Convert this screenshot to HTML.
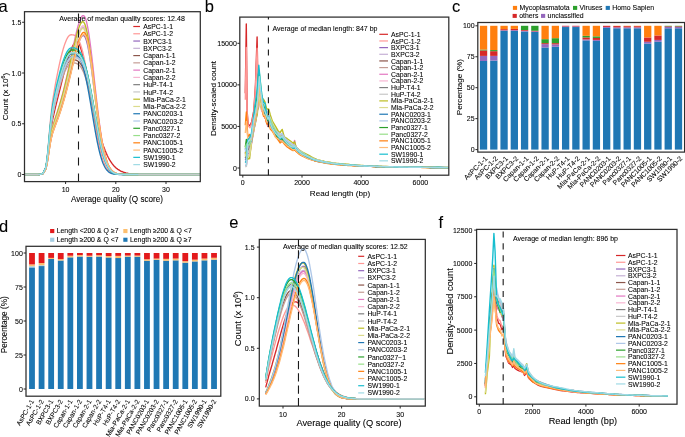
<!DOCTYPE html>
<html><head><meta charset="utf-8"><style>
html,body{margin:0;padding:0;background:#fff;width:685px;height:437px;overflow:hidden}
svg{display:block;will-change:transform}
text{font-family:"Liberation Sans",sans-serif;stroke:#000;stroke-width:0.08px}
</style></head><body>
<svg width="685" height="437" viewBox="0 0 685 437" font-family="Liberation Sans, sans-serif"><g clip-path="url(#ca)">
<path d="M22.9,174.5 25.4,174.5 27.9,174.5 30.5,174.5 33.0,174.5 35.5,174.5 38.0,174.5 40.5,174.3 43.0,173.5 45.5,169.2 46.0,167.3 46.5,164.9 47.0,161.9 47.5,158.4 48.0,154.5 48.5,150.2 49.0,145.8 49.5,141.4 50.0,137.1 50.5,133.1 51.0,129.5 51.5,126.2 52.0,123.1 52.5,120.3 53.0,117.8 53.6,115.4 54.1,113.1 54.6,110.9 55.1,108.8 55.6,106.7 56.1,104.7 56.6,102.7 57.1,100.6 57.6,98.6 58.1,96.6 58.6,94.6 59.1,92.6 59.6,90.6 60.1,88.6 60.6,86.6 61.1,84.6 61.6,82.6 62.1,80.6 62.6,78.6 63.1,76.6 63.6,74.6 64.1,72.7 64.6,70.7 65.1,68.8 65.6,67.0 66.1,65.1 66.6,63.3 67.1,61.6 67.6,59.8 68.1,58.2 68.6,56.6 69.1,55.0 69.6,53.5 70.1,52.1 70.6,50.8 71.1,49.5 71.6,48.3 72.1,47.2 72.6,46.1 73.1,45.2 73.6,44.4 74.1,43.6 74.6,43.0 75.1,42.5 75.6,42.1 76.1,41.8 76.6,41.6 77.1,41.5 77.6,41.8 78.1,42.3 78.7,43.1 79.2,44.1 79.7,45.3 80.2,46.6 80.7,48.1 81.2,49.7 81.7,51.4 82.2,53.3 82.7,55.2 83.2,57.3 83.7,59.4 84.2,61.6 84.7,63.9 85.2,66.2 85.7,68.6 86.2,71.0 86.7,73.5 87.2,76.0 87.7,78.5 88.2,81.1 88.7,83.6 89.2,86.2 89.7,88.8 90.2,91.3 90.7,93.9 91.2,96.4 91.7,98.9 92.2,101.4 92.7,103.9 93.2,106.3 93.7,108.7 94.2,111.1 94.7,113.4 95.2,115.7 95.7,117.9 96.2,120.1 96.7,122.3 97.2,124.4 97.7,126.4 98.2,128.4 98.7,130.4 99.2,132.3 99.7,134.1 100.2,135.9 100.7,137.6 101.2,139.3 101.7,141.0 102.2,142.5 102.7,144.1 103.2,145.5 103.8,146.9 104.3,148.3 104.8,149.6 105.3,150.9 105.8,152.1 106.3,153.3 106.8,154.4 107.3,155.5 107.8,156.5 108.3,157.5 108.8,158.4 109.3,159.3 109.8,160.2 110.3,161.0 110.8,161.7 111.3,162.5 111.8,163.2 112.3,163.9 112.8,164.5 113.3,165.1 113.8,165.7 114.3,166.2 114.8,166.7 115.3,167.2 115.8,167.7 116.3,168.1 116.8,168.5 117.3,168.9 117.8,169.3 118.3,169.6 118.8,169.9 119.3,170.2 119.8,170.5 120.3,170.8 120.8,171.1 121.3,171.3 121.8,171.5 122.3,171.7 122.8,171.9 123.3,172.1 123.8,172.3 124.3,172.4 124.8,172.6 125.3,172.7 125.8,172.9 128.4,173.4 130.9,173.8 133.4,174.0 135.9,174.2 138.4,174.3 140.9,174.4 143.4,174.4 145.9,174.5 148.4,174.5 150.9,174.5 153.5,174.5 156.0,174.5 158.5,174.5 161.0,174.5 163.5,174.5 166.0,174.5 168.5,174.5 171.0,174.5 173.5,174.5 176.0,174.5 178.6,174.5 181.1,174.5 183.6,174.5 186.1,174.5 188.6,174.5 191.1,174.5 193.6,174.5 196.1,174.5 198.6,174.5 201.1,174.5" fill="none" stroke="#d62728" stroke-width="1.35" stroke-linejoin="round"/>
<path d="M22.9,174.5 25.4,174.5 27.9,174.5 30.5,174.5 33.0,174.5 35.5,174.5 38.0,174.5 40.5,174.3 43.0,173.3 45.5,167.9 46.0,165.5 46.5,162.4 47.0,158.6 47.5,154.0 48.0,148.8 48.5,143.1 49.0,137.1 49.5,131.1 50.0,125.3 50.5,119.8 51.0,114.7 51.5,110.0 52.0,105.8 52.5,101.9 53.0,98.3 53.6,94.9 54.1,91.8 54.6,88.8 55.1,85.9 55.6,83.1 56.1,80.4 56.6,77.8 57.1,75.3 57.6,72.8 58.1,70.4 58.6,68.0 59.1,65.7 59.6,63.4 60.1,61.2 60.6,59.0 61.1,57.0 61.6,55.0 62.1,53.0 62.6,51.2 63.1,49.4 63.6,47.7 64.1,46.1 64.6,44.6 65.1,43.2 65.6,41.9 66.1,40.7 66.6,39.5 67.1,38.6 67.6,37.7 68.1,36.9 68.6,36.2 69.1,35.7 69.6,35.3 70.1,35.0 70.6,34.8 71.1,34.7 71.6,34.7 72.1,34.8 72.6,34.8 73.1,34.9 73.6,35.0 74.1,35.2 74.6,35.4 75.1,35.7 75.6,36.1 76.1,36.5 76.6,37.1 77.1,37.7 77.6,38.4 78.1,39.3 78.7,40.2 79.2,41.3 79.7,42.4 80.2,43.7 80.7,45.1 81.2,46.7 81.7,48.3 82.2,50.1 82.7,52.0 83.2,54.1 83.7,56.2 84.2,58.5 84.7,60.9 85.2,63.4 85.7,66.0 86.2,68.6 86.7,71.4 87.2,74.3 87.7,77.3 88.2,80.3 88.7,83.4 89.2,86.5 89.7,89.7 90.2,93.0 90.7,96.2 91.2,99.5 91.7,102.7 92.2,106.0 92.7,109.2 93.2,112.5 93.7,115.6 94.2,118.8 94.7,121.9 95.2,124.9 95.7,127.9 96.2,130.8 96.7,133.6 97.2,136.3 97.7,138.9 98.2,141.4 98.7,143.8 99.2,146.2 99.7,148.4 100.2,150.5 100.7,152.5 101.2,154.3 101.7,156.1 102.2,157.8 102.7,159.3 103.2,160.8 103.8,162.1 104.3,163.3 104.8,164.5 105.3,165.5 105.8,166.5 106.3,167.4 106.8,168.2 107.3,168.9 107.8,169.6 108.3,170.2 108.8,170.7 109.3,171.2 109.8,171.6 110.3,172.0 110.8,172.4 111.3,172.7 111.8,172.9 112.3,173.2 112.8,173.4 113.3,173.5 113.8,173.7 114.3,173.8 114.8,173.9 115.3,174.0 115.8,174.1 116.3,174.2 116.8,174.2 117.3,174.3 117.8,174.3 118.3,174.3 118.8,174.4 119.3,174.4 119.8,174.4 120.3,174.4 120.8,174.4 121.3,174.5 121.8,174.5 122.3,174.5 122.8,174.5 123.3,174.5 123.8,174.5 124.3,174.5 124.8,174.5 125.3,174.5 125.8,174.5 128.4,174.5 130.9,174.5 133.4,174.5 135.9,174.5 138.4,174.5 140.9,174.5 143.4,174.5 145.9,174.5 148.4,174.5 150.9,174.5 153.5,174.5 156.0,174.5 158.5,174.5 161.0,174.5 163.5,174.5 166.0,174.5 168.5,174.5 171.0,174.5 173.5,174.5 176.0,174.5 178.6,174.5 181.1,174.5 183.6,174.5 186.1,174.5 188.6,174.5 191.1,174.5 193.6,174.5 196.1,174.5 198.6,174.5 201.1,174.5" fill="none" stroke="#ff9896" stroke-width="1.35" stroke-linejoin="round"/>
<path d="M22.9,174.5 25.4,174.5 27.9,174.5 30.5,174.5 33.0,174.5 35.5,174.5 38.0,174.5 40.5,174.3 43.0,173.6 45.5,169.9 46.0,168.3 46.5,166.3 47.0,163.9 47.5,161.1 48.0,158.0 48.5,154.7 49.0,151.3 49.5,148.0 50.0,144.8 50.5,141.9 51.0,139.3 51.5,137.0 52.0,134.9 52.5,133.1 53.0,131.4 53.6,129.8 54.1,128.3 54.6,126.9 55.1,125.5 55.6,124.2 56.1,122.8 56.6,121.5 57.1,120.2 57.6,118.8 58.1,117.4 58.6,116.0 59.1,114.6 59.6,113.2 60.1,111.7 60.6,110.2 61.1,108.6 61.6,107.1 62.1,105.4 62.6,103.8 63.1,102.1 63.6,100.4 64.1,98.7 64.6,96.9 65.1,95.1 65.6,93.3 66.1,91.4 66.6,89.5 67.1,87.6 67.6,85.7 68.1,83.7 68.6,81.7 69.1,79.7 69.6,77.6 70.1,75.6 70.6,73.5 71.1,71.5 71.6,69.4 72.1,67.3 72.6,65.2 73.1,63.2 73.6,61.1 74.1,59.1 74.6,57.1 75.1,55.1 75.6,53.1 76.1,51.2 76.6,49.4 77.1,47.6 77.6,46.0 78.1,44.3 78.7,42.8 79.2,41.4 79.7,40.1 80.2,39.0 80.7,37.9 81.2,37.1 81.7,36.4 82.2,35.9 82.7,35.6 83.2,35.4 83.7,35.6 84.2,35.9 84.7,36.5 85.2,37.4 85.7,38.5 86.2,39.9 86.7,41.6 87.2,43.5 87.7,45.7 88.2,48.1 88.7,50.8 89.2,53.6 89.7,56.7 90.2,59.9 90.7,63.3 91.2,66.9 91.7,70.5 92.2,74.3 92.7,78.2 93.2,82.2 93.7,86.1 94.2,90.2 94.7,94.2 95.2,98.2 95.7,102.2 96.2,106.1 96.7,110.0 97.2,113.8 97.7,117.6 98.2,121.2 98.7,124.7 99.2,128.1 99.7,131.4 100.2,134.6 100.7,137.6 101.2,140.4 101.7,143.2 102.2,145.7 102.7,148.2 103.2,150.4 103.8,152.6 104.3,154.6 104.8,156.5 105.3,158.2 105.8,159.8 106.3,161.3 106.8,162.6 107.3,163.9 107.8,165.0 108.3,166.1 108.8,167.0 109.3,167.9 109.8,168.7 110.3,169.3 110.8,170.0 111.3,170.5 111.8,171.0 112.3,171.5 112.8,171.9 113.3,172.2 113.8,172.5 114.3,172.8 114.8,173.0 115.3,173.2 115.8,173.4 116.3,173.6 116.8,173.7 117.3,173.8 117.8,173.9 118.3,174.0 118.8,174.1 119.3,174.2 119.8,174.2 120.3,174.3 120.8,174.3 121.3,174.3 121.8,174.4 122.3,174.4 122.8,174.4 123.3,174.4 123.8,174.4 124.3,174.4 124.8,174.5 125.3,174.5 125.8,174.5 128.4,174.5 130.9,174.5 133.4,174.5 135.9,174.5 138.4,174.5 140.9,174.5 143.4,174.5 145.9,174.5 148.4,174.5 150.9,174.5 153.5,174.5 156.0,174.5 158.5,174.5 161.0,174.5 163.5,174.5 166.0,174.5 168.5,174.5 171.0,174.5 173.5,174.5 176.0,174.5 178.6,174.5 181.1,174.5 183.6,174.5 186.1,174.5 188.6,174.5 191.1,174.5 193.6,174.5 196.1,174.5 198.6,174.5 201.1,174.5" fill="none" stroke="#9467bd" stroke-width="1.35" stroke-linejoin="round"/>
<path d="M22.9,174.5 25.4,174.5 27.9,174.5 30.5,174.5 33.0,174.5 35.5,174.5 38.0,174.5 40.5,174.3 43.0,173.5 45.5,169.6 46.0,167.9 46.5,165.8 47.0,163.3 47.5,160.4 48.0,157.1 48.5,153.5 49.0,149.9 49.5,146.4 50.0,143.1 50.5,140.0 51.0,137.3 51.5,134.8 52.0,132.6 52.5,130.7 53.0,128.9 53.6,127.2 54.1,125.6 54.6,124.1 55.1,122.7 55.6,121.2 56.1,119.8 56.6,118.4 57.1,117.0 57.6,115.6 58.1,114.1 58.6,112.6 59.1,111.1 59.6,109.6 60.1,108.0 60.6,106.4 61.1,104.8 61.6,103.1 62.1,101.4 62.6,99.7 63.1,97.9 63.6,96.1 64.1,94.3 64.6,92.4 65.1,90.5 65.6,88.5 66.1,86.6 66.6,84.6 67.1,82.5 67.6,80.5 68.1,78.4 68.6,76.3 69.1,74.1 69.6,72.0 70.1,69.8 70.6,67.6 71.1,65.4 71.6,63.2 72.1,61.0 72.6,58.8 73.1,56.7 73.6,54.5 74.1,52.3 74.6,50.2 75.1,48.1 75.6,46.1 76.1,44.1 76.6,42.1 77.1,40.2 77.6,38.4 78.1,36.7 78.7,35.1 79.2,33.6 79.7,32.3 80.2,31.0 80.7,30.0 81.2,29.1 81.7,28.3 82.2,27.8 82.7,27.4 83.2,27.3 83.7,27.4 84.2,27.8 84.7,28.4 85.2,29.4 85.7,30.6 86.2,32.1 86.7,33.8 87.2,35.9 87.7,38.2 88.2,40.7 88.7,43.5 89.2,46.6 89.7,49.8 90.2,53.2 90.7,56.8 91.2,60.6 91.7,64.5 92.2,68.5 92.7,72.6 93.2,76.8 93.7,81.0 94.2,85.2 94.7,89.5 95.2,93.7 95.7,98.0 96.2,102.2 96.7,106.3 97.2,110.3 97.7,114.3 98.2,118.1 98.7,121.8 99.2,125.4 99.7,128.9 100.2,132.2 100.7,135.4 101.2,138.4 101.7,141.3 102.2,144.0 102.7,146.6 103.2,149.0 103.8,151.3 104.3,153.4 104.8,155.4 105.3,157.2 105.8,158.9 106.3,160.5 106.8,162.0 107.3,163.3 107.8,164.5 108.3,165.6 108.8,166.6 109.3,167.5 109.8,168.3 110.3,169.0 110.8,169.7 111.3,170.3 111.8,170.8 112.3,171.3 112.8,171.7 113.3,172.1 113.8,172.4 114.3,172.7 114.8,173.0 115.3,173.2 115.8,173.4 116.3,173.5 116.8,173.7 117.3,173.8 117.8,173.9 118.3,174.0 118.8,174.1 119.3,174.1 119.8,174.2 120.3,174.3 120.8,174.3 121.3,174.3 121.8,174.4 122.3,174.4 122.8,174.4 123.3,174.4 123.8,174.4 124.3,174.4 124.8,174.5 125.3,174.5 125.8,174.5 128.4,174.5 130.9,174.5 133.4,174.5 135.9,174.5 138.4,174.5 140.9,174.5 143.4,174.5 145.9,174.5 148.4,174.5 150.9,174.5 153.5,174.5 156.0,174.5 158.5,174.5 161.0,174.5 163.5,174.5 166.0,174.5 168.5,174.5 171.0,174.5 173.5,174.5 176.0,174.5 178.6,174.5 181.1,174.5 183.6,174.5 186.1,174.5 188.6,174.5 191.1,174.5 193.6,174.5 196.1,174.5 198.6,174.5 201.1,174.5" fill="none" stroke="#c5b0d5" stroke-width="1.35" stroke-linejoin="round"/>
<path d="M22.9,174.5 25.4,174.5 27.9,174.5 30.5,174.5 33.0,174.5 35.5,174.5 38.0,174.5 40.5,174.3 43.0,173.5 45.5,168.9 46.0,166.8 46.5,164.2 47.0,161.0 47.5,157.2 48.0,152.8 48.5,148.1 49.0,143.1 49.5,138.2 50.0,133.4 50.5,129.0 51.0,124.8 51.5,121.1 52.0,117.7 52.5,114.6 53.0,111.7 53.6,109.1 54.1,106.6 54.6,104.2 55.1,102.0 55.6,99.8 56.1,97.8 56.6,95.7 57.1,93.7 57.6,91.8 58.1,89.9 58.6,88.0 59.1,86.2 59.6,84.4 60.1,82.7 60.6,81.0 61.1,79.4 61.6,77.8 62.1,76.2 62.6,74.7 63.1,73.3 63.6,71.9 64.1,70.6 64.6,69.3 65.1,68.2 65.6,67.0 66.1,66.0 66.6,65.0 67.1,64.1 67.6,63.3 68.1,62.6 68.6,62.0 69.1,61.4 69.6,60.9 70.1,60.5 70.6,60.2 71.1,60.0 71.6,59.8 72.1,59.8 72.6,59.8 73.1,59.8 73.6,59.8 74.1,59.9 74.6,59.9 75.1,60.0 75.6,60.1 76.1,60.2 76.6,60.4 77.1,60.7 77.6,60.9 78.1,61.3 78.7,61.7 79.2,62.1 79.7,62.7 80.2,63.3 80.7,64.0 81.2,64.7 81.7,65.6 82.2,66.5 82.7,67.5 83.2,68.6 83.7,69.8 84.2,71.1 84.7,72.5 85.2,74.0 85.7,75.6 86.2,77.3 86.7,79.0 87.2,80.9 87.7,82.8 88.2,84.9 88.7,87.0 89.2,89.2 89.7,91.4 90.2,93.8 90.7,96.2 91.2,98.6 91.7,101.1 92.2,103.6 92.7,106.2 93.2,108.8 93.7,111.5 94.2,114.1 94.7,116.7 95.2,119.4 95.7,122.0 96.2,124.6 96.7,127.2 97.2,129.7 97.7,132.2 98.2,134.7 98.7,137.1 99.2,139.4 99.7,141.7 100.2,143.9 100.7,146.0 101.2,148.1 101.7,150.1 102.2,151.9 102.7,153.7 103.2,155.4 103.8,157.0 104.3,158.6 104.8,160.0 105.3,161.3 105.8,162.6 106.3,163.7 106.8,164.8 107.3,165.8 107.8,166.7 108.3,167.6 108.8,168.4 109.3,169.1 109.8,169.7 110.3,170.3 110.8,170.8 111.3,171.3 111.8,171.7 112.3,172.1 112.8,172.4 113.3,172.7 113.8,172.9 114.3,173.2 114.8,173.4 115.3,173.5 115.8,173.7 116.3,173.8 116.8,173.9 117.3,174.0 117.8,174.1 118.3,174.2 118.8,174.2 119.3,174.3 119.8,174.3 120.3,174.4 120.8,174.4 121.3,174.4 121.8,174.4 122.3,174.4 122.8,174.5 123.3,174.5 123.8,174.5 124.3,174.5 124.8,174.5 125.3,174.5 125.8,174.5 128.4,174.5 130.9,174.5 133.4,174.5 135.9,174.5 138.4,174.5 140.9,174.5 143.4,174.5 145.9,174.5 148.4,174.5 150.9,174.5 153.5,174.5 156.0,174.5 158.5,174.5 161.0,174.5 163.5,174.5 166.0,174.5 168.5,174.5 171.0,174.5 173.5,174.5 176.0,174.5 178.6,174.5 181.1,174.5 183.6,174.5 186.1,174.5 188.6,174.5 191.1,174.5 193.6,174.5 196.1,174.5 198.6,174.5 201.1,174.5" fill="none" stroke="#8c564b" stroke-width="1.35" stroke-linejoin="round"/>
<path d="M22.9,174.5 25.4,174.5 27.9,174.5 30.5,174.5 33.0,174.5 35.5,174.5 38.0,174.5 40.5,174.3 43.0,173.5 45.5,169.0 46.0,167.0 46.5,164.5 47.0,161.4 47.5,157.6 48.0,153.4 48.5,148.8 49.0,144.0 49.5,139.2 50.0,134.5 50.5,130.2 51.0,126.2 51.5,122.5 52.0,119.2 52.5,116.2 53.0,113.4 53.6,110.8 54.1,108.4 54.6,106.1 55.1,103.9 55.6,101.8 56.1,99.8 56.6,97.8 57.1,95.9 57.6,94.0 58.1,92.1 58.6,90.3 59.1,88.6 59.6,86.8 60.1,85.1 60.6,83.5 61.1,81.9 61.6,80.3 62.1,78.8 62.6,77.4 63.1,76.0 63.6,74.6 64.1,73.4 64.6,72.1 65.1,71.0 65.6,69.9 66.1,68.9 66.6,67.9 67.1,67.1 67.6,66.3 68.1,65.6 68.6,64.9 69.1,64.4 69.6,63.9 70.1,63.5 70.6,63.2 71.1,63.0 71.6,62.9 72.1,62.9 72.6,62.9 73.1,62.9 73.6,62.9 74.1,62.9 74.6,63.0 75.1,63.0 75.6,63.1 76.1,63.3 76.6,63.5 77.1,63.7 77.6,64.0 78.1,64.3 78.7,64.7 79.2,65.1 79.7,65.7 80.2,66.2 80.7,66.9 81.2,67.6 81.7,68.5 82.2,69.4 82.7,70.4 83.2,71.4 83.7,72.6 84.2,73.9 84.7,75.2 85.2,76.7 85.7,78.2 86.2,79.9 86.7,81.6 87.2,83.4 87.7,85.3 88.2,87.3 88.7,89.3 89.2,91.4 89.7,93.6 90.2,95.9 90.7,98.2 91.2,100.6 91.7,103.1 92.2,105.5 92.7,108.0 93.2,110.6 93.7,113.1 94.2,115.7 94.7,118.3 95.2,120.8 95.7,123.4 96.2,125.9 96.7,128.4 97.2,130.9 97.7,133.4 98.2,135.8 98.7,138.1 99.2,140.4 99.7,142.6 100.2,144.7 100.7,146.8 101.2,148.8 101.7,150.7 102.2,152.5 102.7,154.3 103.2,155.9 103.8,157.5 104.3,159.0 104.8,160.4 105.3,161.7 105.8,162.9 106.3,164.0 106.8,165.1 107.3,166.1 107.8,167.0 108.3,167.8 108.8,168.5 109.3,169.2 109.8,169.8 110.3,170.4 110.8,170.9 111.3,171.4 111.8,171.8 112.3,172.1 112.8,172.5 113.3,172.7 113.8,173.0 114.3,173.2 114.8,173.4 115.3,173.6 115.8,173.7 116.3,173.8 116.8,173.9 117.3,174.0 117.8,174.1 118.3,174.2 118.8,174.2 119.3,174.3 119.8,174.3 120.3,174.4 120.8,174.4 121.3,174.4 121.8,174.4 122.3,174.4 122.8,174.5 123.3,174.5 123.8,174.5 124.3,174.5 124.8,174.5 125.3,174.5 125.8,174.5 128.4,174.5 130.9,174.5 133.4,174.5 135.9,174.5 138.4,174.5 140.9,174.5 143.4,174.5 145.9,174.5 148.4,174.5 150.9,174.5 153.5,174.5 156.0,174.5 158.5,174.5 161.0,174.5 163.5,174.5 166.0,174.5 168.5,174.5 171.0,174.5 173.5,174.5 176.0,174.5 178.6,174.5 181.1,174.5 183.6,174.5 186.1,174.5 188.6,174.5 191.1,174.5 193.6,174.5 196.1,174.5 198.6,174.5 201.1,174.5" fill="none" stroke="#c49c94" stroke-width="1.35" stroke-linejoin="round"/>
<path d="M22.9,174.5 25.4,174.5 27.9,174.5 30.5,174.5 33.0,174.5 35.5,174.5 38.0,174.5 40.5,174.3 43.0,173.4 45.5,169.2 46.0,167.4 46.5,165.2 47.0,162.4 47.5,159.2 48.0,155.7 48.5,151.9 49.0,148.0 49.5,144.2 50.0,140.6 50.5,137.3 51.0,134.3 51.5,131.7 52.0,129.3 52.5,127.1 53.0,125.2 53.6,123.4 54.1,121.7 54.6,120.1 55.1,118.5 55.6,117.0 56.1,115.5 56.6,113.9 57.1,112.4 57.6,110.8 58.1,109.3 58.6,107.7 59.1,106.0 59.6,104.4 60.1,102.7 60.6,101.0 61.1,99.2 61.6,97.4 62.1,95.6 62.6,93.7 63.1,91.8 63.6,89.8 64.1,87.8 64.6,85.8 65.1,83.8 65.6,81.7 66.1,79.5 66.6,77.4 67.1,75.2 67.6,72.9 68.1,70.7 68.6,68.4 69.1,66.1 69.6,63.8 70.1,61.4 70.6,59.1 71.1,56.7 71.6,54.3 72.1,52.0 72.6,49.6 73.1,47.2 73.6,44.9 74.1,42.5 74.6,40.3 75.1,38.0 75.6,35.8 76.1,33.6 76.6,31.5 77.1,29.5 77.6,27.6 78.1,25.7 78.7,24.0 79.2,22.4 79.7,20.9 80.2,19.6 80.7,18.4 81.2,17.4 81.7,16.6 82.2,16.0 82.7,15.7 83.2,15.6 83.7,15.7 84.2,16.1 84.7,16.8 85.2,17.8 85.7,19.1 86.2,20.7 86.7,22.6 87.2,24.8 87.7,27.3 88.2,30.0 88.7,33.0 89.2,36.3 89.7,39.8 90.2,43.5 90.7,47.4 91.2,51.5 91.7,55.7 92.2,60.0 92.7,64.4 93.2,68.9 93.7,73.5 94.2,78.1 94.7,82.7 95.2,87.3 95.7,91.8 96.2,96.4 96.7,100.8 97.2,105.2 97.7,109.4 98.2,113.6 98.7,117.6 99.2,121.5 99.7,125.2 100.2,128.8 100.7,132.3 101.2,135.6 101.7,138.7 102.2,141.6 102.7,144.4 103.2,147.0 103.8,149.5 104.3,151.8 104.8,153.9 105.3,155.9 105.8,157.7 106.3,159.4 106.8,160.9 107.3,162.4 107.8,163.7 108.3,164.9 108.8,166.0 109.3,166.9 109.8,167.8 110.3,168.6 110.8,169.3 111.3,170.0 111.8,170.5 112.3,171.0 112.8,171.5 113.3,171.9 113.8,172.2 114.3,172.6 114.8,172.8 115.3,173.1 115.8,173.3 116.3,173.5 116.8,173.6 117.3,173.7 117.8,173.9 118.3,174.0 118.8,174.0 119.3,174.1 119.8,174.2 120.3,174.2 120.8,174.3 121.3,174.3 121.8,174.3 122.3,174.4 122.8,174.4 123.3,174.4 123.8,174.4 124.3,174.4 124.8,174.5 125.3,174.5 125.8,174.5 128.4,174.5 130.9,174.5 133.4,174.5 135.9,174.5 138.4,174.5 140.9,174.5 143.4,174.5 145.9,174.5 148.4,174.5 150.9,174.5 153.5,174.5 156.0,174.5 158.5,174.5 161.0,174.5 163.5,174.5 166.0,174.5 168.5,174.5 171.0,174.5 173.5,174.5 176.0,174.5 178.6,174.5 181.1,174.5 183.6,174.5 186.1,174.5 188.6,174.5 191.1,174.5 193.6,174.5 196.1,174.5 198.6,174.5 201.1,174.5" fill="none" stroke="#e377c2" stroke-width="1.35" stroke-linejoin="round"/>
<path d="M22.9,174.5 25.4,174.5 27.9,174.5 30.5,174.5 33.0,174.5 35.5,174.5 38.0,174.5 40.5,174.3 43.0,173.5 45.5,169.5 46.0,167.9 46.5,165.8 47.0,163.2 47.5,160.2 48.0,156.9 48.5,153.3 49.0,149.7 49.5,146.1 50.0,142.8 50.5,139.7 51.0,136.9 51.5,134.4 52.0,132.2 52.5,130.2 53.0,128.4 53.6,126.7 54.1,125.1 54.6,123.6 55.1,122.1 55.6,120.7 56.1,119.3 56.6,117.8 57.1,116.4 57.6,115.0 58.1,113.5 58.6,112.0 59.1,110.5 59.6,108.9 60.1,107.3 60.6,105.7 61.1,104.1 61.6,102.4 62.1,100.7 62.6,98.9 63.1,97.1 63.6,95.3 64.1,93.4 64.6,91.5 65.1,89.6 65.6,87.7 66.1,85.7 66.6,83.6 67.1,81.6 67.6,79.5 68.1,77.4 68.6,75.3 69.1,73.1 69.6,70.9 70.1,68.7 70.6,66.5 71.1,64.3 71.6,62.1 72.1,59.9 72.6,57.6 73.1,55.4 73.6,53.2 74.1,51.1 74.6,48.9 75.1,46.8 75.6,44.7 76.1,42.7 76.6,40.7 77.1,38.9 77.6,37.0 78.1,35.3 78.7,33.7 79.2,32.2 79.7,30.8 80.2,29.6 80.7,28.5 81.2,27.6 81.7,26.8 82.2,26.3 82.7,25.9 83.2,25.8 83.7,25.9 84.2,26.3 84.7,26.9 85.2,27.9 85.7,29.1 86.2,30.6 86.7,32.4 87.2,34.4 87.7,36.8 88.2,39.3 88.7,42.2 89.2,45.2 89.7,48.5 90.2,52.0 90.7,55.6 91.2,59.4 91.7,63.3 92.2,67.4 92.7,71.5 93.2,75.7 93.7,80.0 94.2,84.3 94.7,88.6 95.2,92.9 95.7,97.2 96.2,101.4 96.7,105.6 97.2,109.6 97.7,113.6 98.2,117.5 98.7,121.3 99.2,124.9 99.7,128.4 100.2,131.8 100.7,135.0 101.2,138.1 101.7,141.0 102.2,143.7 102.7,146.3 103.2,148.8 103.8,151.1 104.3,153.2 104.8,155.2 105.3,157.1 105.8,158.8 106.3,160.4 106.8,161.8 107.3,163.2 107.8,164.4 108.3,165.5 108.8,166.5 109.3,167.4 109.8,168.2 110.3,169.0 110.8,169.7 111.3,170.3 111.8,170.8 112.3,171.3 112.8,171.7 113.3,172.1 113.8,172.4 114.3,172.7 114.8,172.9 115.3,173.2 115.8,173.4 116.3,173.5 116.8,173.7 117.3,173.8 117.8,173.9 118.3,174.0 118.8,174.1 119.3,174.1 119.8,174.2 120.3,174.2 120.8,174.3 121.3,174.3 121.8,174.4 122.3,174.4 122.8,174.4 123.3,174.4 123.8,174.4 124.3,174.4 124.8,174.5 125.3,174.5 125.8,174.5 128.4,174.5 130.9,174.5 133.4,174.5 135.9,174.5 138.4,174.5 140.9,174.5 143.4,174.5 145.9,174.5 148.4,174.5 150.9,174.5 153.5,174.5 156.0,174.5 158.5,174.5 161.0,174.5 163.5,174.5 166.0,174.5 168.5,174.5 171.0,174.5 173.5,174.5 176.0,174.5 178.6,174.5 181.1,174.5 183.6,174.5 186.1,174.5 188.6,174.5 191.1,174.5 193.6,174.5 196.1,174.5 198.6,174.5 201.1,174.5" fill="none" stroke="#f7b6d2" stroke-width="1.35" stroke-linejoin="round"/>
<path d="M22.9,174.5 25.4,174.5 27.9,174.5 30.5,174.5 33.0,174.5 35.5,174.5 38.0,174.5 40.5,174.3 43.0,173.5 45.5,168.9 46.0,166.9 46.5,164.3 47.0,161.1 47.5,157.3 48.0,152.9 48.5,148.2 49.0,143.2 49.5,138.3 50.0,133.5 50.5,129.0 51.0,124.9 51.5,121.1 52.0,117.6 52.5,114.5 53.0,111.6 53.6,108.9 54.1,106.3 54.6,103.9 55.1,101.6 55.6,99.4 56.1,97.2 56.6,95.1 57.1,93.0 57.6,91.0 58.1,89.0 58.6,87.1 59.1,85.2 59.6,83.3 60.1,81.5 60.6,79.7 61.1,77.9 61.6,76.2 62.1,74.6 62.6,73.0 63.1,71.5 63.6,70.0 64.1,68.6 64.6,67.2 65.1,65.9 65.6,64.7 66.1,63.5 66.6,62.5 67.1,61.5 67.6,60.5 68.1,59.7 68.6,58.9 69.1,58.3 69.6,57.7 70.1,57.2 70.6,56.8 71.1,56.5 71.6,56.2 72.1,56.1 72.6,56.0 73.1,56.1 73.6,56.1 74.1,56.1 74.6,56.1 75.1,56.2 75.6,56.2 76.1,56.4 76.6,56.5 77.1,56.7 77.6,56.9 78.1,57.2 78.7,57.6 79.2,58.0 79.7,58.5 80.2,59.0 80.7,59.6 81.2,60.3 81.7,61.1 82.2,62.0 82.7,63.0 83.2,64.0 83.7,65.2 84.2,66.4 84.7,67.8 85.2,69.2 85.7,70.7 86.2,72.4 86.7,74.1 87.2,75.9 87.7,77.8 88.2,79.8 88.7,81.9 89.2,84.1 89.7,86.4 90.2,88.7 90.7,91.1 91.2,93.6 91.7,96.1 92.2,98.7 92.7,101.3 93.2,104.0 93.7,106.7 94.2,109.4 94.7,112.1 95.2,114.8 95.7,117.6 96.2,120.3 96.7,123.0 97.2,125.6 97.7,128.3 98.2,130.9 98.7,133.4 99.2,135.9 99.7,138.3 100.2,140.6 100.7,142.9 101.2,145.1 101.7,147.2 102.2,149.3 102.7,151.2 103.2,153.0 103.8,154.8 104.3,156.5 104.8,158.0 105.3,159.5 105.8,160.9 106.3,162.2 106.8,163.4 107.3,164.5 107.8,165.5 108.3,166.5 108.8,167.4 109.3,168.2 109.8,168.9 110.3,169.6 110.8,170.1 111.3,170.7 111.8,171.2 112.3,171.6 112.8,172.0 113.3,172.3 113.8,172.6 114.3,172.9 114.8,173.1 115.3,173.3 115.8,173.5 116.3,173.7 116.8,173.8 117.3,173.9 117.8,174.0 118.3,174.1 118.8,174.2 119.3,174.2 119.8,174.3 120.3,174.3 120.8,174.3 121.3,174.4 121.8,174.4 122.3,174.4 122.8,174.4 123.3,174.4 123.8,174.5 124.3,174.5 124.8,174.5 125.3,174.5 125.8,174.5 128.4,174.5 130.9,174.5 133.4,174.5 135.9,174.5 138.4,174.5 140.9,174.5 143.4,174.5 145.9,174.5 148.4,174.5 150.9,174.5 153.5,174.5 156.0,174.5 158.5,174.5 161.0,174.5 163.5,174.5 166.0,174.5 168.5,174.5 171.0,174.5 173.5,174.5 176.0,174.5 178.6,174.5 181.1,174.5 183.6,174.5 186.1,174.5 188.6,174.5 191.1,174.5 193.6,174.5 196.1,174.5 198.6,174.5 201.1,174.5" fill="none" stroke="#7f7f7f" stroke-width="1.35" stroke-linejoin="round"/>
<path d="M22.9,174.5 25.4,174.5 27.9,174.5 30.5,174.5 33.0,174.5 35.5,174.5 38.0,174.5 40.5,174.3 43.0,173.5 45.5,169.0 46.0,167.0 46.5,164.5 47.0,161.3 47.5,157.5 48.0,153.2 48.5,148.6 49.0,143.7 49.5,138.8 50.0,134.1 50.5,129.7 51.0,125.6 51.5,121.9 52.0,118.5 52.5,115.3 53.0,112.5 53.6,109.8 54.1,107.3 54.6,104.9 55.1,102.7 55.6,100.5 56.1,98.3 56.6,96.3 57.1,94.2 57.6,92.2 58.1,90.3 58.6,88.4 59.1,86.5 59.6,84.6 60.1,82.8 60.6,81.1 61.1,79.3 61.6,77.7 62.1,76.1 62.6,74.5 63.1,73.0 63.6,71.5 64.1,70.1 64.6,68.8 65.1,67.5 65.6,66.3 66.1,65.1 66.6,64.1 67.1,63.1 67.6,62.2 68.1,61.4 68.6,60.6 69.1,60.0 69.6,59.4 70.1,58.9 70.6,58.5 71.1,58.2 71.6,58.0 72.1,57.8 72.6,57.8 73.1,57.8 73.6,57.8 74.1,57.8 74.6,57.8 75.1,57.9 75.6,58.0 76.1,58.1 76.6,58.2 77.1,58.4 77.6,58.7 78.1,58.9 78.7,59.3 79.2,59.7 79.7,60.2 80.2,60.7 80.7,61.3 81.2,62.0 81.7,62.8 82.2,63.6 82.7,64.6 83.2,65.6 83.7,66.8 84.2,68.0 84.7,69.3 85.2,70.7 85.7,72.2 86.2,73.8 86.7,75.6 87.2,77.4 87.7,79.2 88.2,81.2 88.7,83.3 89.2,85.4 89.7,87.7 90.2,90.0 90.7,92.3 91.2,94.8 91.7,97.3 92.2,99.8 92.7,102.4 93.2,105.0 93.7,107.7 94.2,110.3 94.7,113.0 95.2,115.7 95.7,118.4 96.2,121.1 96.7,123.7 97.2,126.4 97.7,128.9 98.2,131.5 98.7,134.0 99.2,136.4 99.7,138.8 100.2,141.1 100.7,143.4 101.2,145.5 101.7,147.6 102.2,149.6 102.7,151.5 103.2,153.4 103.8,155.1 104.3,156.7 104.8,158.3 105.3,159.7 105.8,161.1 106.3,162.4 106.8,163.6 107.3,164.7 107.8,165.7 108.3,166.6 108.8,167.5 109.3,168.3 109.8,169.0 110.3,169.6 110.8,170.2 111.3,170.7 111.8,171.2 112.3,171.6 112.8,172.0 113.3,172.4 113.8,172.7 114.3,172.9 114.8,173.2 115.3,173.4 115.8,173.5 116.3,173.7 116.8,173.8 117.3,173.9 117.8,174.0 118.3,174.1 118.8,174.2 119.3,174.2 119.8,174.3 120.3,174.3 120.8,174.4 121.3,174.4 121.8,174.4 122.3,174.4 122.8,174.4 123.3,174.4 123.8,174.5 124.3,174.5 124.8,174.5 125.3,174.5 125.8,174.5 128.4,174.5 130.9,174.5 133.4,174.5 135.9,174.5 138.4,174.5 140.9,174.5 143.4,174.5 145.9,174.5 148.4,174.5 150.9,174.5 153.5,174.5 156.0,174.5 158.5,174.5 161.0,174.5 163.5,174.5 166.0,174.5 168.5,174.5 171.0,174.5 173.5,174.5 176.0,174.5 178.6,174.5 181.1,174.5 183.6,174.5 186.1,174.5 188.6,174.5 191.1,174.5 193.6,174.5 196.1,174.5 198.6,174.5 201.1,174.5" fill="none" stroke="#c7c7c7" stroke-width="1.35" stroke-linejoin="round"/>
<path d="M22.9,174.5 25.4,174.5 27.9,174.5 30.5,174.5 33.0,174.5 35.5,174.5 38.0,174.5 40.5,174.3 43.0,173.4 45.5,169.3 46.0,167.5 46.5,165.3 47.0,162.6 47.5,159.5 48.0,156.0 48.5,152.2 49.0,148.4 49.5,144.7 50.0,141.1 50.5,137.9 51.0,135.0 51.5,132.4 52.0,130.0 52.5,127.9 53.0,126.0 53.6,124.2 54.1,122.6 54.6,121.0 55.1,119.4 55.6,117.9 56.1,116.4 56.6,114.9 57.1,113.4 57.6,111.9 58.1,110.3 58.6,108.7 59.1,107.1 59.6,105.5 60.1,103.8 60.6,102.1 61.1,100.4 61.6,98.6 62.1,96.8 62.6,95.0 63.1,93.1 63.6,91.2 64.1,89.3 64.6,87.3 65.1,85.3 65.6,83.2 66.1,81.2 66.6,79.0 67.1,76.9 67.6,74.7 68.1,72.5 68.6,70.3 69.1,68.1 69.6,65.8 70.1,63.6 70.6,61.3 71.1,59.0 71.6,56.7 72.1,54.5 72.6,52.2 73.1,49.9 73.6,47.7 74.1,45.5 74.6,43.3 75.1,41.2 75.6,39.1 76.1,37.1 76.6,35.1 77.1,33.3 77.6,31.5 78.1,29.9 78.7,28.3 79.2,26.9 79.7,25.6 80.2,24.5 80.7,23.5 81.2,22.8 81.7,22.2 82.2,21.9 82.7,21.7 83.2,21.9 83.7,22.2 84.2,22.9 84.7,23.9 85.2,25.1 85.7,26.7 86.2,28.5 86.7,30.6 87.2,33.0 87.7,35.7 88.2,38.6 88.7,41.7 89.2,45.1 89.7,48.6 90.2,52.4 90.7,56.3 91.2,60.3 91.7,64.5 92.2,68.7 92.7,73.1 93.2,77.4 93.7,81.8 94.2,86.3 94.7,90.7 95.2,95.1 95.7,99.4 96.2,103.7 96.7,107.9 97.2,112.0 97.7,116.0 98.2,119.8 98.7,123.6 99.2,127.2 99.7,130.6 100.2,133.9 100.7,137.1 101.2,140.1 101.7,142.9 102.2,145.6 102.7,148.1 103.2,150.4 103.8,152.6 104.3,154.7 104.8,156.6 105.3,158.4 105.8,160.0 106.3,161.5 106.8,162.8 107.3,164.1 107.8,165.2 108.3,166.3 108.8,167.2 109.3,168.1 109.8,168.8 110.3,169.5 110.8,170.1 111.3,170.7 111.8,171.2 112.3,171.6 112.8,172.0 113.3,172.3 113.8,172.6 114.3,172.9 114.8,173.1 115.3,173.3 115.8,173.5 116.3,173.6 116.8,173.8 117.3,173.9 117.8,174.0 118.3,174.1 118.8,174.1 119.3,174.2 119.8,174.2 120.3,174.3 120.8,174.3 121.3,174.4 121.8,174.4 122.3,174.4 122.8,174.4 123.3,174.4 123.8,174.4 124.3,174.5 124.8,174.5 125.3,174.5 125.8,174.5 128.4,174.5 130.9,174.5 133.4,174.5 135.9,174.5 138.4,174.5 140.9,174.5 143.4,174.5 145.9,174.5 148.4,174.5 150.9,174.5 153.5,174.5 156.0,174.5 158.5,174.5 161.0,174.5 163.5,174.5 166.0,174.5 168.5,174.5 171.0,174.5 173.5,174.5 176.0,174.5 178.6,174.5 181.1,174.5 183.6,174.5 186.1,174.5 188.6,174.5 191.1,174.5 193.6,174.5 196.1,174.5 198.6,174.5 201.1,174.5" fill="none" stroke="#bcbd22" stroke-width="1.35" stroke-linejoin="round"/>
<path d="M22.9,174.5 25.4,174.5 27.9,174.5 30.5,174.5 33.0,174.5 35.5,174.5 38.0,174.5 40.5,174.3 43.0,173.5 45.5,169.5 46.0,167.8 46.5,165.7 47.0,163.1 47.5,160.1 48.0,156.8 48.5,153.2 49.0,149.6 49.5,146.0 50.0,142.6 50.5,139.5 51.0,136.7 51.5,134.2 52.0,131.9 52.5,129.9 53.0,128.1 53.6,126.4 54.1,124.8 54.6,123.3 55.1,121.8 55.6,120.3 56.1,118.9 56.6,117.5 57.1,116.0 57.6,114.6 58.1,113.1 58.6,111.6 59.1,110.0 59.6,108.5 60.1,106.9 60.6,105.3 61.1,103.6 61.6,101.9 62.1,100.2 62.6,98.4 63.1,96.6 63.6,94.8 64.1,93.0 64.6,91.1 65.1,89.1 65.6,87.2 66.1,85.2 66.6,83.2 67.1,81.1 67.6,79.0 68.1,76.9 68.6,74.8 69.1,72.7 69.6,70.5 70.1,68.4 70.6,66.2 71.1,64.0 71.6,61.8 72.1,59.6 72.6,57.5 73.1,55.3 73.6,53.2 74.1,51.1 74.6,49.0 75.1,46.9 75.6,45.0 76.1,43.0 76.6,41.2 77.1,39.4 77.6,37.7 78.1,36.1 78.7,34.6 79.2,33.3 79.7,32.0 80.2,31.0 80.7,30.1 81.2,29.3 81.7,28.8 82.2,28.5 82.7,28.3 83.2,28.5 83.7,28.8 84.2,29.4 84.7,30.4 85.2,31.6 85.7,33.0 86.2,34.8 86.7,36.8 87.2,39.1 87.7,41.6 88.2,44.4 88.7,47.4 89.2,50.7 89.7,54.1 90.2,57.6 90.7,61.4 91.2,65.2 91.7,69.2 92.2,73.3 92.7,77.4 93.2,81.6 93.7,85.8 94.2,90.1 94.7,94.3 95.2,98.5 95.7,102.6 96.2,106.7 96.7,110.7 97.2,114.7 97.7,118.5 98.2,122.2 98.7,125.8 99.2,129.2 99.7,132.5 100.2,135.7 100.7,138.7 101.2,141.6 101.7,144.3 102.2,146.8 102.7,149.2 103.2,151.5 103.8,153.6 104.3,155.5 104.8,157.4 105.3,159.1 105.8,160.6 106.3,162.0 106.8,163.4 107.3,164.6 107.8,165.6 108.3,166.6 108.8,167.5 109.3,168.4 109.8,169.1 110.3,169.7 110.8,170.3 111.3,170.9 111.8,171.3 112.3,171.7 112.8,172.1 113.3,172.4 113.8,172.7 114.3,173.0 114.8,173.2 115.3,173.4 115.8,173.5 116.3,173.7 116.8,173.8 117.3,173.9 117.8,174.0 118.3,174.1 118.8,174.1 119.3,174.2 119.8,174.3 120.3,174.3 120.8,174.3 121.3,174.4 121.8,174.4 122.3,174.4 122.8,174.4 123.3,174.4 123.8,174.4 124.3,174.5 124.8,174.5 125.3,174.5 125.8,174.5 128.4,174.5 130.9,174.5 133.4,174.5 135.9,174.5 138.4,174.5 140.9,174.5 143.4,174.5 145.9,174.5 148.4,174.5 150.9,174.5 153.5,174.5 156.0,174.5 158.5,174.5 161.0,174.5 163.5,174.5 166.0,174.5 168.5,174.5 171.0,174.5 173.5,174.5 176.0,174.5 178.6,174.5 181.1,174.5 183.6,174.5 186.1,174.5 188.6,174.5 191.1,174.5 193.6,174.5 196.1,174.5 198.6,174.5 201.1,174.5" fill="none" stroke="#dbdb8d" stroke-width="1.35" stroke-linejoin="round"/>
<path d="M22.9,174.5 25.4,174.5 27.9,174.5 30.5,174.5 33.0,174.5 35.5,174.5 38.0,174.5 40.5,174.3 43.0,173.4 45.5,168.6 46.0,166.4 46.5,163.7 47.0,160.3 47.5,156.3 48.0,151.7 48.5,146.7 49.0,141.5 49.5,136.3 50.0,131.3 50.5,126.5 51.0,122.2 51.5,118.3 52.0,114.7 52.5,111.4 53.0,108.4 53.6,105.6 54.1,103.0 54.6,100.5 55.1,98.2 55.6,95.9 56.1,93.7 56.6,91.5 57.1,89.4 57.6,87.4 58.1,85.4 58.6,83.4 59.1,81.5 59.6,79.7 60.1,77.8 60.6,76.0 61.1,74.3 61.6,72.6 62.1,71.0 62.6,69.4 63.1,67.9 63.6,66.5 64.1,65.1 64.6,63.8 65.1,62.5 65.6,61.3 66.1,60.2 66.6,59.2 67.1,58.3 67.6,57.4 68.1,56.7 68.6,56.0 69.1,55.4 69.6,54.9 70.1,54.5 70.6,54.1 71.1,53.9 71.6,53.8 72.1,53.7 72.6,53.7 73.1,53.7 73.6,53.8 74.1,53.8 74.6,53.9 75.1,54.0 75.6,54.2 76.1,54.5 76.6,54.8 77.1,55.2 77.6,55.6 78.1,56.2 78.7,56.8 79.2,57.6 79.7,58.4 80.2,59.3 80.7,60.4 81.2,61.5 81.7,62.8 82.2,64.2 82.7,65.7 83.2,67.4 83.7,69.1 84.2,71.0 84.7,73.0 85.2,75.1 85.7,77.3 86.2,79.6 86.7,82.0 87.2,84.5 87.7,87.1 88.2,89.8 88.7,92.6 89.2,95.4 89.7,98.3 90.2,101.2 90.7,104.2 91.2,107.2 91.7,110.2 92.2,113.2 92.7,116.2 93.2,119.2 93.7,122.2 94.2,125.1 94.7,128.0 95.2,130.9 95.7,133.6 96.2,136.3 96.7,138.9 97.2,141.5 97.7,143.9 98.2,146.2 98.7,148.5 99.2,150.6 99.7,152.6 100.2,154.5 100.7,156.4 101.2,158.0 101.7,159.6 102.2,161.1 102.7,162.5 103.2,163.7 103.8,164.9 104.3,166.0 104.8,167.0 105.3,167.9 105.8,168.7 106.3,169.4 106.8,170.0 107.3,170.6 107.8,171.1 108.3,171.6 108.8,172.0 109.3,172.4 109.8,172.7 110.3,173.0 110.8,173.2 111.3,173.4 111.8,173.6 112.3,173.7 112.8,173.9 113.3,174.0 113.8,174.1 114.3,174.1 114.8,174.2 115.3,174.3 115.8,174.3 116.3,174.3 116.8,174.4 117.3,174.4 117.8,174.4 118.3,174.4 118.8,174.5 119.3,174.5 119.8,174.5 120.3,174.5 120.8,174.5 121.3,174.5 121.8,174.5 122.3,174.5 122.8,174.5 123.3,174.5 123.8,174.5 124.3,174.5 124.8,174.5 125.3,174.5 125.8,174.5 128.4,174.5 130.9,174.5 133.4,174.5 135.9,174.5 138.4,174.5 140.9,174.5 143.4,174.5 145.9,174.5 148.4,174.5 150.9,174.5 153.5,174.5 156.0,174.5 158.5,174.5 161.0,174.5 163.5,174.5 166.0,174.5 168.5,174.5 171.0,174.5 173.5,174.5 176.0,174.5 178.6,174.5 181.1,174.5 183.6,174.5 186.1,174.5 188.6,174.5 191.1,174.5 193.6,174.5 196.1,174.5 198.6,174.5 201.1,174.5" fill="none" stroke="#1f77b4" stroke-width="1.35" stroke-linejoin="round"/>
<path d="M22.9,174.5 25.4,174.5 27.9,174.5 30.5,174.5 33.0,174.5 35.5,174.5 38.0,174.5 40.5,174.3 43.0,173.5 45.5,169.0 46.0,166.9 46.5,164.4 47.0,161.2 47.5,157.4 48.0,153.1 48.5,148.4 49.0,143.4 49.5,138.5 50.0,133.8 50.5,129.3 51.0,125.2 51.5,121.4 52.0,118.0 52.5,114.8 53.0,111.9 53.6,109.3 54.1,106.7 54.6,104.3 55.1,102.0 55.6,99.8 56.1,97.7 56.6,95.6 57.1,93.5 57.6,91.5 58.1,89.5 58.6,87.6 59.1,85.7 59.6,83.9 60.1,82.0 60.6,80.3 61.1,78.5 61.6,76.8 62.1,75.2 62.6,73.6 63.1,72.1 63.6,70.6 64.1,69.2 64.6,67.8 65.1,66.6 65.6,65.3 66.1,64.2 66.6,63.1 67.1,62.1 67.6,61.2 68.1,60.4 68.6,59.6 69.1,59.0 69.6,58.4 70.1,57.9 70.6,57.5 71.1,57.2 71.6,56.9 72.1,56.8 72.6,56.8 73.1,56.8 73.6,56.8 74.1,56.8 74.6,56.8 75.1,56.9 75.6,57.0 76.1,57.1 76.6,57.2 77.1,57.4 77.6,57.6 78.1,57.9 78.7,58.3 79.2,58.7 79.7,59.2 80.2,59.7 80.7,60.3 81.2,61.0 81.7,61.8 82.2,62.7 82.7,63.6 83.2,64.7 83.7,65.8 84.2,67.1 84.7,68.4 85.2,69.8 85.7,71.3 86.2,73.0 86.7,74.7 87.2,76.5 87.7,78.4 88.2,80.4 88.7,82.5 89.2,84.7 89.7,86.9 90.2,89.2 90.7,91.6 91.2,94.1 91.7,96.6 92.2,99.2 92.7,101.8 93.2,104.4 93.7,107.1 94.2,109.8 94.7,112.5 95.2,115.2 95.7,117.9 96.2,120.6 96.7,123.3 97.2,125.9 97.7,128.5 98.2,131.1 98.7,133.6 99.2,136.1 99.7,138.5 100.2,140.8 100.7,143.1 101.2,145.3 101.7,147.4 102.2,149.4 102.7,151.3 103.2,153.2 103.8,154.9 104.3,156.6 104.8,158.1 105.3,159.6 105.8,161.0 106.3,162.3 106.8,163.5 107.3,164.6 107.8,165.6 108.3,166.5 108.8,167.4 109.3,168.2 109.8,168.9 110.3,169.6 110.8,170.2 111.3,170.7 111.8,171.2 112.3,171.6 112.8,172.0 113.3,172.3 113.8,172.6 114.3,172.9 114.8,173.1 115.3,173.3 115.8,173.5 116.3,173.7 116.8,173.8 117.3,173.9 117.8,174.0 118.3,174.1 118.8,174.2 119.3,174.2 119.8,174.3 120.3,174.3 120.8,174.3 121.3,174.4 121.8,174.4 122.3,174.4 122.8,174.4 123.3,174.4 123.8,174.5 124.3,174.5 124.8,174.5 125.3,174.5 125.8,174.5 128.4,174.5 130.9,174.5 133.4,174.5 135.9,174.5 138.4,174.5 140.9,174.5 143.4,174.5 145.9,174.5 148.4,174.5 150.9,174.5 153.5,174.5 156.0,174.5 158.5,174.5 161.0,174.5 163.5,174.5 166.0,174.5 168.5,174.5 171.0,174.5 173.5,174.5 176.0,174.5 178.6,174.5 181.1,174.5 183.6,174.5 186.1,174.5 188.6,174.5 191.1,174.5 193.6,174.5 196.1,174.5 198.6,174.5 201.1,174.5" fill="none" stroke="#aec7e8" stroke-width="1.35" stroke-linejoin="round"/>
<path d="M22.9,174.5 25.4,174.5 27.9,174.5 30.5,174.5 33.0,174.5 35.5,174.5 38.0,174.5 40.5,174.3 43.0,173.4 45.5,168.4 46.0,166.2 46.5,163.3 47.0,159.8 47.5,155.7 48.0,151.0 48.5,145.8 49.0,140.4 49.5,135.1 50.0,129.9 50.5,125.1 51.0,120.6 51.5,116.5 52.0,112.8 52.5,109.4 53.0,106.3 53.6,103.5 54.1,100.8 54.6,98.2 55.1,95.8 55.6,93.4 56.1,91.2 56.6,89.0 57.1,86.8 57.6,84.7 58.1,82.6 58.6,80.6 59.1,78.6 59.6,76.7 60.1,74.8 60.6,73.0 61.1,71.2 61.6,69.5 62.1,67.8 62.6,66.2 63.1,64.6 63.6,63.1 64.1,61.7 64.6,60.3 65.1,59.0 65.6,57.8 66.1,56.7 66.6,55.6 67.1,54.7 67.6,53.8 68.1,53.0 68.6,52.3 69.1,51.7 69.6,51.2 70.1,50.7 70.6,50.4 71.1,50.2 71.6,50.0 72.1,50.0 72.6,50.0 73.1,50.0 73.6,50.0 74.1,50.0 74.6,50.1 75.1,50.2 75.6,50.3 76.1,50.4 76.6,50.6 77.1,50.9 77.6,51.2 78.1,51.6 78.7,52.0 79.2,52.5 79.7,53.1 80.2,53.7 80.7,54.5 81.2,55.3 81.7,56.2 82.2,57.2 82.7,58.3 83.2,59.6 83.7,60.9 84.2,62.3 84.7,63.8 85.2,65.4 85.7,67.1 86.2,68.9 86.7,70.8 87.2,72.9 87.7,75.0 88.2,77.2 88.7,79.5 89.2,81.9 89.7,84.3 90.2,86.8 90.7,89.4 91.2,92.1 91.7,94.8 92.2,97.6 92.7,100.4 93.2,103.2 93.7,106.0 94.2,108.9 94.7,111.8 95.2,114.6 95.7,117.5 96.2,120.3 96.7,123.1 97.2,125.9 97.7,128.6 98.2,131.3 98.7,133.9 99.2,136.4 99.7,138.9 100.2,141.3 100.7,143.6 101.2,145.8 101.7,148.0 102.2,150.0 102.7,151.9 103.2,153.8 103.8,155.5 104.3,157.2 104.8,158.7 105.3,160.2 105.8,161.6 106.3,162.8 106.8,164.0 107.3,165.1 107.8,166.1 108.3,167.0 108.8,167.8 109.3,168.6 109.8,169.3 110.3,169.9 110.8,170.5 111.3,171.0 111.8,171.5 112.3,171.9 112.8,172.2 113.3,172.5 113.8,172.8 114.3,173.1 114.8,173.3 115.3,173.5 115.8,173.6 116.3,173.8 116.8,173.9 117.3,174.0 117.8,174.1 118.3,174.1 118.8,174.2 119.3,174.3 119.8,174.3 120.3,174.3 120.8,174.4 121.3,174.4 121.8,174.4 122.3,174.4 122.8,174.4 123.3,174.5 123.8,174.5 124.3,174.5 124.8,174.5 125.3,174.5 125.8,174.5 128.4,174.5 130.9,174.5 133.4,174.5 135.9,174.5 138.4,174.5 140.9,174.5 143.4,174.5 145.9,174.5 148.4,174.5 150.9,174.5 153.5,174.5 156.0,174.5 158.5,174.5 161.0,174.5 163.5,174.5 166.0,174.5 168.5,174.5 171.0,174.5 173.5,174.5 176.0,174.5 178.6,174.5 181.1,174.5 183.6,174.5 186.1,174.5 188.6,174.5 191.1,174.5 193.6,174.5 196.1,174.5 198.6,174.5 201.1,174.5" fill="none" stroke="#2ca02c" stroke-width="1.35" stroke-linejoin="round"/>
<path d="M22.9,174.5 25.4,174.5 27.9,174.5 30.5,174.5 33.0,174.5 35.5,174.5 38.0,174.5 40.5,174.3 43.0,173.4 45.5,168.5 46.0,166.4 46.5,163.6 47.0,160.2 47.5,156.1 48.0,151.5 48.5,146.4 49.0,141.2 49.5,135.9 50.0,130.9 50.5,126.1 51.0,121.8 51.5,117.8 52.0,114.2 52.5,110.9 53.0,107.8 53.6,105.0 54.1,102.4 54.6,99.9 55.1,97.5 55.6,95.2 56.1,93.0 56.6,90.8 57.1,88.7 57.6,86.7 58.1,84.7 58.6,82.7 59.1,80.8 59.6,78.9 60.1,77.0 60.6,75.2 61.1,73.5 61.6,71.8 62.1,70.1 62.6,68.5 63.1,67.0 63.6,65.6 64.1,64.2 64.6,62.8 65.1,61.6 65.6,60.4 66.1,59.3 66.6,58.3 67.1,57.3 67.6,56.4 68.1,55.7 68.6,55.0 69.1,54.4 69.6,53.9 70.1,53.4 70.6,53.1 71.1,52.9 71.6,52.7 72.1,52.7 72.6,52.7 73.1,52.7 73.6,52.7 74.1,52.8 74.6,52.8 75.1,52.9 75.6,53.0 76.1,53.2 76.6,53.4 77.1,53.6 77.6,53.9 78.1,54.3 78.7,54.7 79.2,55.2 79.7,55.8 80.2,56.4 80.7,57.1 81.2,57.9 81.7,58.8 82.2,59.8 82.7,60.9 83.2,62.1 83.7,63.4 84.2,64.7 84.7,66.2 85.2,67.8 85.7,69.5 86.2,71.2 86.7,73.1 87.2,75.1 87.7,77.2 88.2,79.3 88.7,81.6 89.2,83.9 89.7,86.3 90.2,88.8 90.7,91.3 91.2,93.9 91.7,96.6 92.2,99.3 92.7,102.0 93.2,104.8 93.7,107.5 94.2,110.3 94.7,113.2 95.2,116.0 95.7,118.7 96.2,121.5 96.7,124.3 97.2,127.0 97.7,129.6 98.2,132.2 98.7,134.8 99.2,137.3 99.7,139.7 100.2,142.0 100.7,144.3 101.2,146.5 101.7,148.5 102.2,150.5 102.7,152.4 103.2,154.2 103.8,156.0 104.3,157.6 104.8,159.1 105.3,160.5 105.8,161.8 106.3,163.1 106.8,164.2 107.3,165.3 107.8,166.3 108.3,167.2 108.8,168.0 109.3,168.7 109.8,169.4 110.3,170.0 110.8,170.6 111.3,171.1 111.8,171.5 112.3,171.9 112.8,172.3 113.3,172.6 113.8,172.9 114.3,173.1 114.8,173.3 115.3,173.5 115.8,173.6 116.3,173.8 116.8,173.9 117.3,174.0 117.8,174.1 118.3,174.2 118.8,174.2 119.3,174.3 119.8,174.3 120.3,174.3 120.8,174.4 121.3,174.4 121.8,174.4 122.3,174.4 122.8,174.4 123.3,174.5 123.8,174.5 124.3,174.5 124.8,174.5 125.3,174.5 125.8,174.5 128.4,174.5 130.9,174.5 133.4,174.5 135.9,174.5 138.4,174.5 140.9,174.5 143.4,174.5 145.9,174.5 148.4,174.5 150.9,174.5 153.5,174.5 156.0,174.5 158.5,174.5 161.0,174.5 163.5,174.5 166.0,174.5 168.5,174.5 171.0,174.5 173.5,174.5 176.0,174.5 178.6,174.5 181.1,174.5 183.6,174.5 186.1,174.5 188.6,174.5 191.1,174.5 193.6,174.5 196.1,174.5 198.6,174.5 201.1,174.5" fill="none" stroke="#98df8a" stroke-width="1.35" stroke-linejoin="round"/>
<path d="M22.9,174.5 25.4,174.5 27.9,174.5 30.5,174.5 33.0,174.5 35.5,174.5 38.0,174.5 40.5,174.3 43.0,173.6 45.5,169.9 46.0,168.3 46.5,166.3 47.0,163.9 47.5,161.2 48.0,158.0 48.5,154.7 49.0,151.3 49.5,148.0 50.0,144.9 50.5,142.0 51.0,139.4 51.5,137.1 52.0,135.0 52.5,133.1 53.0,131.4 53.6,129.9 54.1,128.4 54.6,127.0 55.1,125.6 55.6,124.3 56.1,123.0 56.6,121.6 57.1,120.3 57.6,118.9 58.1,117.6 58.6,116.2 59.1,114.7 59.6,113.3 60.1,111.8 60.6,110.3 61.1,108.8 61.6,107.2 62.1,105.6 62.6,103.9 63.1,102.3 63.6,100.5 64.1,98.8 64.6,97.0 65.1,95.2 65.6,93.4 66.1,91.5 66.6,89.6 67.1,87.7 67.6,85.7 68.1,83.7 68.6,81.7 69.1,79.7 69.6,77.6 70.1,75.5 70.6,73.4 71.1,71.3 71.6,69.2 72.1,67.1 72.6,64.9 73.1,62.8 73.6,60.7 74.1,58.6 74.6,56.5 75.1,54.5 75.6,52.5 76.1,50.5 76.6,48.6 77.1,46.7 77.6,44.9 78.1,43.1 78.7,41.5 79.2,39.9 79.7,38.5 80.2,37.2 80.7,36.0 81.2,35.0 81.7,34.1 82.2,33.4 82.7,32.8 83.2,32.5 83.7,32.4 84.2,32.5 84.7,32.9 85.2,33.5 85.7,34.4 86.2,35.5 86.7,37.0 87.2,38.7 87.7,40.6 88.2,42.9 88.7,45.3 89.2,48.0 89.7,51.0 90.2,54.1 90.7,57.4 91.2,60.9 91.7,64.5 92.2,68.3 92.7,72.1 93.2,76.1 93.7,80.1 94.2,84.2 94.7,88.3 95.2,92.4 95.7,96.5 96.2,100.6 96.7,104.6 97.2,108.6 97.7,112.5 98.2,116.3 98.7,120.0 99.2,123.6 99.7,127.1 100.2,130.5 100.7,133.7 101.2,136.8 101.7,139.7 102.2,142.5 102.7,145.1 103.2,147.6 103.8,149.9 104.3,152.1 104.8,154.2 105.3,156.1 105.8,157.8 106.3,159.5 106.8,161.0 107.3,162.4 107.8,163.7 108.3,164.8 108.8,165.9 109.3,166.9 109.8,167.7 110.3,168.5 110.8,169.2 111.3,169.9 111.8,170.4 112.3,171.0 112.8,171.4 113.3,171.8 113.8,172.2 114.3,172.5 114.8,172.8 115.3,173.0 115.8,173.2 116.3,173.4 116.8,173.6 117.3,173.7 117.8,173.8 118.3,173.9 118.8,174.0 119.3,174.1 119.8,174.2 120.3,174.2 120.8,174.3 121.3,174.3 121.8,174.3 122.3,174.4 122.8,174.4 123.3,174.4 123.8,174.4 124.3,174.4 124.8,174.4 125.3,174.5 125.8,174.5 128.4,174.5 130.9,174.5 133.4,174.5 135.9,174.5 138.4,174.5 140.9,174.5 143.4,174.5 145.9,174.5 148.4,174.5 150.9,174.5 153.5,174.5 156.0,174.5 158.5,174.5 161.0,174.5 163.5,174.5 166.0,174.5 168.5,174.5 171.0,174.5 173.5,174.5 176.0,174.5 178.6,174.5 181.1,174.5 183.6,174.5 186.1,174.5 188.6,174.5 191.1,174.5 193.6,174.5 196.1,174.5 198.6,174.5 201.1,174.5" fill="none" stroke="#ff7f0e" stroke-width="1.35" stroke-linejoin="round"/>
<path d="M22.9,174.5 25.4,174.5 27.9,174.5 30.5,174.5 33.0,174.5 35.5,174.5 38.0,174.5 40.5,174.3 43.0,173.6 45.5,169.9 46.0,168.4 46.5,166.4 47.0,164.1 47.5,161.4 48.0,158.3 48.5,155.0 49.0,151.7 49.5,148.4 50.0,145.3 50.5,142.5 51.0,139.9 51.5,137.6 52.0,135.6 52.5,133.7 53.0,132.1 53.6,130.5 54.1,129.1 54.6,127.7 55.1,126.3 55.6,125.0 56.1,123.7 56.6,122.4 57.1,121.1 57.6,119.7 58.1,118.4 58.6,117.0 59.1,115.6 59.6,114.2 60.1,112.7 60.6,111.2 61.1,109.7 61.6,108.1 62.1,106.6 62.6,104.9 63.1,103.3 63.6,101.6 64.1,99.9 64.6,98.1 65.1,96.4 65.6,94.5 66.1,92.7 66.6,90.8 67.1,88.9 67.6,87.0 68.1,85.0 68.6,83.0 69.1,81.0 69.6,79.0 70.1,76.9 70.6,74.9 71.1,72.8 71.6,70.7 72.1,68.6 72.6,66.5 73.1,64.4 73.6,62.3 74.1,60.3 74.6,58.2 75.1,56.2 75.6,54.2 76.1,52.3 76.6,50.4 77.1,48.5 77.6,46.7 78.1,45.0 78.7,43.4 79.2,41.9 79.7,40.4 80.2,39.1 80.7,38.0 81.2,36.9 81.7,36.1 82.2,35.4 82.7,34.9 83.2,34.5 83.7,34.4 84.2,34.5 84.7,34.9 85.2,35.5 85.7,36.4 86.2,37.5 86.7,38.9 87.2,40.6 87.7,42.6 88.2,44.7 88.7,47.2 89.2,49.8 89.7,52.7 90.2,55.8 90.7,59.1 91.2,62.5 91.7,66.1 92.2,69.8 92.7,73.6 93.2,77.5 93.7,81.5 94.2,85.5 94.7,89.5 95.2,93.6 95.7,97.6 96.2,101.7 96.7,105.6 97.2,109.6 97.7,113.4 98.2,117.2 98.7,120.8 99.2,124.4 99.7,127.8 100.2,131.1 100.7,134.3 101.2,137.3 101.7,140.2 102.2,142.9 102.7,145.5 103.2,148.0 103.8,150.3 104.3,152.4 104.8,154.5 105.3,156.3 105.8,158.1 106.3,159.7 106.8,161.2 107.3,162.6 107.8,163.8 108.3,165.0 108.8,166.0 109.3,167.0 109.8,167.8 110.3,168.6 110.8,169.3 111.3,169.9 111.8,170.5 112.3,171.0 112.8,171.5 113.3,171.9 113.8,172.2 114.3,172.5 114.8,172.8 115.3,173.0 115.8,173.2 116.3,173.4 116.8,173.6 117.3,173.7 117.8,173.8 118.3,173.9 118.8,174.0 119.3,174.1 119.8,174.2 120.3,174.2 120.8,174.3 121.3,174.3 121.8,174.3 122.3,174.4 122.8,174.4 123.3,174.4 123.8,174.4 124.3,174.4 124.8,174.4 125.3,174.5 125.8,174.5 128.4,174.5 130.9,174.5 133.4,174.5 135.9,174.5 138.4,174.5 140.9,174.5 143.4,174.5 145.9,174.5 148.4,174.5 150.9,174.5 153.5,174.5 156.0,174.5 158.5,174.5 161.0,174.5 163.5,174.5 166.0,174.5 168.5,174.5 171.0,174.5 173.5,174.5 176.0,174.5 178.6,174.5 181.1,174.5 183.6,174.5 186.1,174.5 188.6,174.5 191.1,174.5 193.6,174.5 196.1,174.5 198.6,174.5 201.1,174.5" fill="none" stroke="#ffbb78" stroke-width="1.35" stroke-linejoin="round"/>
<path d="M22.9,174.5 25.4,174.5 27.9,174.5 30.5,174.5 33.0,174.5 35.5,174.5 38.0,174.5 40.5,174.3 43.0,173.3 45.5,168.0 46.0,165.7 46.5,162.7 47.0,159.0 47.5,154.6 48.0,149.7 48.5,144.3 49.0,138.6 49.5,133.0 50.0,127.6 50.5,122.5 51.0,117.9 51.5,113.6 52.0,109.8 52.5,106.3 53.0,103.1 53.6,100.2 54.1,97.4 54.6,94.8 55.1,92.3 55.6,90.0 56.1,87.7 56.6,85.4 57.1,83.2 57.6,81.1 58.1,79.1 58.6,77.0 59.1,75.1 59.6,73.1 60.1,71.3 60.6,69.4 61.1,67.7 61.6,66.0 62.1,64.3 62.6,62.7 63.1,61.2 63.6,59.7 64.1,58.4 64.6,57.1 65.1,55.8 65.6,54.7 66.1,53.6 66.6,52.6 67.1,51.7 67.6,50.9 68.1,50.2 68.6,49.6 69.1,49.0 69.6,48.6 70.1,48.3 70.6,48.0 71.1,47.9 71.6,47.8 72.1,47.8 72.6,47.8 73.1,47.9 73.6,47.9 74.1,47.9 74.6,48.0 75.1,48.2 75.6,48.3 76.1,48.5 76.6,48.8 77.1,49.1 77.6,49.5 78.1,49.9 78.7,50.4 79.2,51.0 79.7,51.7 80.2,52.4 80.7,53.3 81.2,54.2 81.7,55.2 82.2,56.4 82.7,57.6 83.2,58.9 83.7,60.3 84.2,61.9 84.7,63.5 85.2,65.3 85.7,67.1 86.2,69.1 86.7,71.1 87.2,73.3 87.7,75.5 88.2,77.8 88.7,80.3 89.2,82.8 89.7,85.3 90.2,88.0 90.7,90.7 91.2,93.4 91.7,96.3 92.2,99.1 92.7,102.0 93.2,104.9 93.7,107.8 94.2,110.7 94.7,113.6 95.2,116.5 95.7,119.4 96.2,122.2 96.7,125.1 97.2,127.8 97.7,130.5 98.2,133.2 98.7,135.8 99.2,138.3 99.7,140.7 100.2,143.1 100.7,145.3 101.2,147.5 101.7,149.6 102.2,151.6 102.7,153.4 103.2,155.2 103.8,156.9 104.3,158.5 104.8,159.9 105.3,161.3 105.8,162.6 106.3,163.8 106.8,164.9 107.3,165.9 107.8,166.9 108.3,167.7 108.8,168.5 109.3,169.2 109.8,169.8 110.3,170.4 110.8,170.9 111.3,171.4 111.8,171.8 112.3,172.2 112.8,172.5 113.3,172.8 113.8,173.0 114.3,173.3 114.8,173.4 115.3,173.6 115.8,173.7 116.3,173.9 116.8,174.0 117.3,174.1 117.8,174.1 118.3,174.2 118.8,174.3 119.3,174.3 119.8,174.3 120.3,174.4 120.8,174.4 121.3,174.4 121.8,174.4 122.3,174.4 122.8,174.5 123.3,174.5 123.8,174.5 124.3,174.5 124.8,174.5 125.3,174.5 125.8,174.5 128.4,174.5 130.9,174.5 133.4,174.5 135.9,174.5 138.4,174.5 140.9,174.5 143.4,174.5 145.9,174.5 148.4,174.5 150.9,174.5 153.5,174.5 156.0,174.5 158.5,174.5 161.0,174.5 163.5,174.5 166.0,174.5 168.5,174.5 171.0,174.5 173.5,174.5 176.0,174.5 178.6,174.5 181.1,174.5 183.6,174.5 186.1,174.5 188.6,174.5 191.1,174.5 193.6,174.5 196.1,174.5 198.6,174.5 201.1,174.5" fill="none" stroke="#17becf" stroke-width="1.35" stroke-linejoin="round"/>
<path d="M22.9,174.5 25.4,174.5 27.9,174.5 30.5,174.5 33.0,174.5 35.5,174.5 38.0,174.5 40.5,174.3 43.0,173.4 45.5,168.5 46.0,166.4 46.5,163.6 47.0,160.2 47.5,156.1 48.0,151.5 48.5,146.4 49.0,141.2 49.5,135.9 50.0,130.9 50.5,126.1 51.0,121.8 51.5,117.8 52.0,114.2 52.5,110.9 53.0,107.8 53.6,105.0 54.1,102.4 54.6,99.9 55.1,97.5 55.6,95.2 56.1,93.0 56.6,90.8 57.1,88.7 57.6,86.7 58.1,84.7 58.6,82.7 59.1,80.8 59.6,78.9 60.1,77.0 60.6,75.2 61.1,73.5 61.6,71.8 62.1,70.1 62.6,68.5 63.1,67.0 63.6,65.6 64.1,64.2 64.6,62.8 65.1,61.6 65.6,60.4 66.1,59.3 66.6,58.3 67.1,57.3 67.6,56.4 68.1,55.7 68.6,55.0 69.1,54.4 69.6,53.9 70.1,53.4 70.6,53.1 71.1,52.9 71.6,52.7 72.1,52.7 72.6,52.7 73.1,52.7 73.6,52.7 74.1,52.8 74.6,52.8 75.1,52.9 75.6,53.0 76.1,53.2 76.6,53.4 77.1,53.6 77.6,53.9 78.1,54.3 78.7,54.7 79.2,55.2 79.7,55.8 80.2,56.4 80.7,57.1 81.2,57.9 81.7,58.8 82.2,59.8 82.7,60.9 83.2,62.1 83.7,63.4 84.2,64.7 84.7,66.2 85.2,67.8 85.7,69.5 86.2,71.2 86.7,73.1 87.2,75.1 87.7,77.2 88.2,79.3 88.7,81.6 89.2,83.9 89.7,86.3 90.2,88.8 90.7,91.3 91.2,93.9 91.7,96.6 92.2,99.3 92.7,102.0 93.2,104.8 93.7,107.5 94.2,110.3 94.7,113.2 95.2,116.0 95.7,118.7 96.2,121.5 96.7,124.3 97.2,127.0 97.7,129.6 98.2,132.2 98.7,134.8 99.2,137.3 99.7,139.7 100.2,142.0 100.7,144.3 101.2,146.5 101.7,148.5 102.2,150.5 102.7,152.4 103.2,154.2 103.8,156.0 104.3,157.6 104.8,159.1 105.3,160.5 105.8,161.8 106.3,163.1 106.8,164.2 107.3,165.3 107.8,166.3 108.3,167.2 108.8,168.0 109.3,168.7 109.8,169.4 110.3,170.0 110.8,170.6 111.3,171.1 111.8,171.5 112.3,171.9 112.8,172.3 113.3,172.6 113.8,172.9 114.3,173.1 114.8,173.3 115.3,173.5 115.8,173.6 116.3,173.8 116.8,173.9 117.3,174.0 117.8,174.1 118.3,174.2 118.8,174.2 119.3,174.3 119.8,174.3 120.3,174.3 120.8,174.4 121.3,174.4 121.8,174.4 122.3,174.4 122.8,174.4 123.3,174.5 123.8,174.5 124.3,174.5 124.8,174.5 125.3,174.5 125.8,174.5 128.4,174.5 130.9,174.5 133.4,174.5 135.9,174.5 138.4,174.5 140.9,174.5 143.4,174.5 145.9,174.5 148.4,174.5 150.9,174.5 153.5,174.5 156.0,174.5 158.5,174.5 161.0,174.5 163.5,174.5 166.0,174.5 168.5,174.5 171.0,174.5 173.5,174.5 176.0,174.5 178.6,174.5 181.1,174.5 183.6,174.5 186.1,174.5 188.6,174.5 191.1,174.5 193.6,174.5 196.1,174.5 198.6,174.5 201.1,174.5" fill="none" stroke="#9edae5" stroke-width="1.35" stroke-linejoin="round"/>
<line x1="24.50" y1="174.50" x2="38.49" y2="174.50" stroke="#c4cccc" stroke-width="1.3"/>
<line x1="138.39" y1="174.50" x2="200.30" y2="174.50" stroke="#c4cccc" stroke-width="1.3"/>
</g>
<clipPath id="ca"><rect x="24.5" y="11.7" width="175.8" height="169.9"/></clipPath>
<line x1="78.50" y1="181.60" x2="78.50" y2="11.70" stroke="#1a1a1a" stroke-width="1.1" stroke-dasharray="8,8"/>
<rect x="24.50" y="11.70" width="175.80" height="169.90" fill="none" stroke="#2e2e2e" stroke-width="1.25"/>
<line x1="22.10" y1="174.50" x2="24.50" y2="174.50" stroke="#262626" stroke-width="1.0"/>
<text x="21.30" y="177.02" font-size="7.0" text-anchor="end" fill="#000">0</text>
<line x1="22.10" y1="123.75" x2="24.50" y2="123.75" stroke="#262626" stroke-width="1.0"/>
<text x="21.30" y="126.27" font-size="7.0" text-anchor="end" fill="#000">0.5</text>
<line x1="22.10" y1="73.00" x2="24.50" y2="73.00" stroke="#262626" stroke-width="1.0"/>
<text x="21.30" y="75.52" font-size="7.0" text-anchor="end" fill="#000">1.0</text>
<line x1="22.10" y1="22.25" x2="24.50" y2="22.25" stroke="#262626" stroke-width="1.0"/>
<text x="21.30" y="24.77" font-size="7.0" text-anchor="end" fill="#000">1.5</text>
<line x1="65.60" y1="181.60" x2="65.60" y2="184.00" stroke="#262626" stroke-width="1.0"/>
<text x="65.60" y="191.90" font-size="7.0" text-anchor="middle" fill="#000">10</text>
<line x1="115.80" y1="181.60" x2="115.80" y2="184.00" stroke="#262626" stroke-width="1.0"/>
<text x="115.80" y="191.90" font-size="7.0" text-anchor="middle" fill="#000">20</text>
<line x1="166.00" y1="181.60" x2="166.00" y2="184.00" stroke="#262626" stroke-width="1.0"/>
<text x="166.00" y="191.90" font-size="7.0" text-anchor="middle" fill="#000">30</text>
<text x="117.00" y="201.90" font-size="8.14" text-anchor="middle" fill="#000">Average quality (Q score)</text>
<text x="7.9" y="96.5" font-size="8.1" text-anchor="middle" transform="rotate(-90 7.9 96.5)">Count (x 10<tspan font-size="5.5" dy="-3">6</tspan><tspan dy="3">)</tspan></text>
<text x="59.20" y="20.70" font-size="7.05" text-anchor="start" fill="#000">Average of median quality scores: 12.48</text>
<line x1="133.30" y1="26.50" x2="140.00" y2="26.50" stroke="#d62728" stroke-width="1.2"/>
<text x="143.30" y="29.07" font-size="6.85" text-anchor="start" fill="#000">AsPC-1-1</text>
<line x1="133.30" y1="33.77" x2="140.00" y2="33.77" stroke="#ff9896" stroke-width="1.2"/>
<text x="143.30" y="36.34" font-size="6.85" text-anchor="start" fill="#000">AsPC-1-2</text>
<line x1="133.30" y1="41.04" x2="140.00" y2="41.04" stroke="#9467bd" stroke-width="1.2"/>
<text x="143.30" y="43.61" font-size="6.85" text-anchor="start" fill="#000">BXPC3-1</text>
<line x1="133.30" y1="48.31" x2="140.00" y2="48.31" stroke="#c5b0d5" stroke-width="1.2"/>
<text x="143.30" y="50.88" font-size="6.85" text-anchor="start" fill="#000">BXPC3-2</text>
<line x1="133.30" y1="55.58" x2="140.00" y2="55.58" stroke="#8c564b" stroke-width="1.2"/>
<text x="143.30" y="58.15" font-size="6.85" text-anchor="start" fill="#000">Capan-1-1</text>
<line x1="133.30" y1="62.85" x2="140.00" y2="62.85" stroke="#c49c94" stroke-width="1.2"/>
<text x="143.30" y="65.42" font-size="6.85" text-anchor="start" fill="#000">Capan-1-2</text>
<line x1="133.30" y1="70.12" x2="140.00" y2="70.12" stroke="#e377c2" stroke-width="1.2"/>
<text x="143.30" y="72.69" font-size="6.85" text-anchor="start" fill="#000">Capan-2-1</text>
<line x1="133.30" y1="77.39" x2="140.00" y2="77.39" stroke="#f7b6d2" stroke-width="1.2"/>
<text x="143.30" y="79.96" font-size="6.85" text-anchor="start" fill="#000">Capan-2-2</text>
<line x1="133.30" y1="84.66" x2="140.00" y2="84.66" stroke="#7f7f7f" stroke-width="1.2"/>
<text x="143.30" y="87.23" font-size="6.85" text-anchor="start" fill="#000">HuP-T4-1</text>
<line x1="133.30" y1="91.93" x2="140.00" y2="91.93" stroke="#c7c7c7" stroke-width="1.2"/>
<text x="143.30" y="94.50" font-size="6.85" text-anchor="start" fill="#000">HuP-T4-2</text>
<line x1="133.30" y1="99.20" x2="140.00" y2="99.20" stroke="#bcbd22" stroke-width="1.2"/>
<text x="143.30" y="101.77" font-size="6.85" text-anchor="start" fill="#000">Mia-PaCa-2-1</text>
<line x1="133.30" y1="106.47" x2="140.00" y2="106.47" stroke="#dbdb8d" stroke-width="1.2"/>
<text x="143.30" y="109.04" font-size="6.85" text-anchor="start" fill="#000">Mia-PaCa-2-2</text>
<line x1="133.30" y1="113.74" x2="140.00" y2="113.74" stroke="#1f77b4" stroke-width="1.2"/>
<text x="143.30" y="116.31" font-size="6.85" text-anchor="start" fill="#000">PANC0203-1</text>
<line x1="133.30" y1="121.01" x2="140.00" y2="121.01" stroke="#aec7e8" stroke-width="1.2"/>
<text x="143.30" y="123.58" font-size="6.85" text-anchor="start" fill="#000">PANC0203-2</text>
<line x1="133.30" y1="128.28" x2="140.00" y2="128.28" stroke="#2ca02c" stroke-width="1.2"/>
<text x="143.30" y="130.85" font-size="6.85" text-anchor="start" fill="#000">Panc0327-1</text>
<line x1="133.30" y1="135.55" x2="140.00" y2="135.55" stroke="#98df8a" stroke-width="1.2"/>
<text x="143.30" y="138.12" font-size="6.85" text-anchor="start" fill="#000">Panc0327-2</text>
<line x1="133.30" y1="142.82" x2="140.00" y2="142.82" stroke="#ff7f0e" stroke-width="1.2"/>
<text x="143.30" y="145.39" font-size="6.85" text-anchor="start" fill="#000">PANC1005-1</text>
<line x1="133.30" y1="150.09" x2="140.00" y2="150.09" stroke="#ffbb78" stroke-width="1.2"/>
<text x="143.30" y="152.66" font-size="6.85" text-anchor="start" fill="#000">PANC1005-2</text>
<line x1="133.30" y1="157.36" x2="140.00" y2="157.36" stroke="#17becf" stroke-width="1.2"/>
<text x="143.30" y="159.93" font-size="6.85" text-anchor="start" fill="#000">SW1990-1</text>
<line x1="133.30" y1="164.63" x2="140.00" y2="164.63" stroke="#9edae5" stroke-width="1.2"/>
<text x="143.30" y="167.20" font-size="6.85" text-anchor="start" fill="#000">SW1990-2</text>
<text x="-1.40" y="12.00" font-size="16.5" text-anchor="start" fill="#000">a</text>
<g clip-path="url(#cb)">
<path d="M245.3,93.2 246.3,23.9 247.1,110.7 248.1,123.9 249.9,126.1 251.7,121.7 253.8,110.7 255.5,84.3 257.1,37.0 258.0,89.4 258.9,94.8 260.6,101.5 262.0,110.6 263.8,115.6 265.6,119.0 267.9,126.4 268.8,119.6 270.3,123.7 272.4,128.5 275.4,133.7 278.3,137.4 280.1,139.0 282.2,138.2 284.2,141.4 287.2,144.2 290.8,146.6 293.1,148.2 294.6,147.4 296.1,149.9 299.0,152.3 302.0,154.3 307.9,157.5 309.4,158.2 311.0,158.8 312.7,159.5 314.6,160.1 316.8,160.7 318.2,161.1 319.7,161.4 321.3,161.7 323.0,162.1 324.7,162.4 326.4,162.7 328.2,163.0 329.9,163.2 331.6,163.5 333.2,163.7 334.9,163.9 336.5,164.1 338.2,164.2 339.8,164.4 341.5,164.5 343.1,164.7 344.8,164.8 346.4,164.9 348.0,165.1 349.7,165.2 351.3,165.3 353.0,165.4 354.6,165.5 356.3,165.6 357.9,165.7 359.6,165.7 361.2,165.8 362.8,165.9 364.5,166.0 366.1,166.1 367.8,166.1 369.4,166.2 371.1,166.3 372.7,166.3 374.4,166.4 376.0,166.5 377.6,166.5 379.3,166.6 380.9,166.6 382.6,166.7 384.2,166.7 385.9,166.8 387.5,166.8 389.2,166.8 390.8,166.9 392.4,166.9 394.1,166.9 395.7,167.0 397.4,167.0 399.0,167.0 400.7,167.1 402.3,167.1 404.0,167.1 405.6,167.2 407.2,167.2 408.9,167.2 410.5,167.2 412.2,167.3 413.8,167.3 415.5,167.3 417.1,167.3 418.8,167.3 420.4,167.4 422.0,167.4 423.7,167.4 425.3,167.4 427.0,167.4 428.6,167.4 430.3,167.5 431.9,167.5 433.6,167.5 435.2,167.5 436.9,167.5 438.8,167.5 440.7,167.5 442.6,167.6 444.4,167.6 446.2,167.6 447.7,167.6 449.0,167.6 450.0,167.6" fill="none" stroke="#d62728" stroke-width="1.4" stroke-linejoin="round"/>
<path d="M245.3,99.8 246.3,47.5 247.1,112.9 248.1,125.6 249.9,127.7 251.7,123.5 253.8,112.9 255.5,87.4 257.1,48.3 258.0,96.2 258.9,94.8 260.6,101.5 262.0,110.6 263.8,115.6 265.6,119.0 267.9,126.4 268.8,119.6 270.3,123.7 272.4,128.5 275.4,133.7 278.3,137.4 280.1,139.0 282.2,138.2 284.2,141.4 287.2,144.2 290.8,146.6 293.1,148.2 294.6,147.4 296.1,149.9 299.0,152.3 302.0,154.3 307.9,157.5 309.4,158.2 311.0,158.8 312.7,159.5 314.6,160.1 316.8,160.7 318.2,161.1 319.7,161.4 321.3,161.7 323.0,162.1 324.7,162.4 326.4,162.7 328.2,163.0 329.9,163.2 331.6,163.5 333.2,163.7 334.9,163.9 336.5,164.1 338.2,164.2 339.8,164.4 341.5,164.5 343.1,164.7 344.8,164.8 346.4,164.9 348.0,165.1 349.7,165.2 351.3,165.3 353.0,165.4 354.6,165.5 356.3,165.6 357.9,165.7 359.6,165.7 361.2,165.8 362.8,165.9 364.5,166.0 366.1,166.1 367.8,166.1 369.4,166.2 371.1,166.3 372.7,166.3 374.4,166.4 376.0,166.5 377.6,166.5 379.3,166.6 380.9,166.6 382.6,166.7 384.2,166.7 385.9,166.8 387.5,166.8 389.2,166.8 390.8,166.9 392.4,166.9 394.1,166.9 395.7,167.0 397.4,167.0 399.0,167.0 400.7,167.1 402.3,167.1 404.0,167.1 405.6,167.2 407.2,167.2 408.9,167.2 410.5,167.2 412.2,167.3 413.8,167.3 415.5,167.3 417.1,167.3 418.8,167.3 420.4,167.4 422.0,167.4 423.7,167.4 425.3,167.4 427.0,167.4 428.6,167.4 430.3,167.5 431.9,167.5 433.6,167.5 435.2,167.5 436.9,167.5 438.8,167.5 440.7,167.5 442.6,167.6 444.4,167.6 446.2,167.6 447.7,167.6 449.0,167.6 450.0,167.6" fill="none" stroke="#ff9896" stroke-width="1.4" stroke-linejoin="round"/>
<path d="M245.3,160.2 246.4,157.9 247.8,154.2 249.6,152.9 251.4,141.0 253.5,129.0 255.5,117.8 257.3,109.9 258.9,87.5 260.5,101.2 262.0,106.1 263.5,112.2 265.0,113.4 266.6,118.7 267.9,120.6 268.8,118.7 270.3,123.0 272.4,129.2 275.4,134.6 278.3,138.5 280.1,140.6 282.2,139.9 284.2,142.0 287.2,145.0 290.8,147.3 293.1,148.0 294.6,147.8 296.1,150.1 299.0,152.9 302.0,155.1 307.9,157.9 309.4,158.5 311.0,159.2 312.7,159.8 314.6,160.5 316.8,161.1 318.2,161.4 319.7,161.7 321.3,162.0 323.0,162.3 324.7,162.6 326.4,162.9 328.2,163.1 329.9,163.4 331.6,163.6 333.2,163.8 334.9,163.9 336.5,164.1 338.2,164.3 339.8,164.4 341.5,164.5 343.1,164.6 344.8,164.8 346.4,164.9 348.0,165.0 349.7,165.1 351.3,165.2 353.0,165.3 354.6,165.4 356.3,165.6 357.9,165.6 359.6,165.7 361.2,165.8 362.8,165.9 364.5,166.0 366.1,166.1 367.8,166.2 369.4,166.3 371.1,166.3 372.7,166.4 374.4,166.5 376.0,166.5 377.6,166.6 379.3,166.6 380.9,166.7 382.6,166.7 384.2,166.7 385.9,166.8 387.5,166.8 389.2,166.8 390.8,166.9 392.4,166.9 394.1,166.9 395.7,167.0 397.4,167.0 399.0,167.0 400.7,167.1 402.3,167.1 404.0,167.1 405.6,167.2 407.2,167.2 408.9,167.2 410.5,167.2 412.2,167.3 413.8,167.3 415.5,167.3 417.1,167.3 418.8,167.3 420.4,167.4 422.0,167.4 423.7,167.4 425.3,167.4 427.0,167.4 428.6,167.4 430.3,167.5 431.9,167.5 433.6,167.5 435.2,167.5 436.9,167.5 438.8,167.5 440.7,167.5 442.6,167.5 444.4,167.6 446.2,167.6 447.7,167.6 449.0,167.6 450.0,167.6" fill="none" stroke="#9467bd" stroke-width="1.4" stroke-linejoin="round"/>
<path d="M245.3,162.3 246.4,160.4 247.8,151.4 249.6,149.7 251.4,142.2 253.5,132.2 255.6,121.9 257.4,109.2 259.0,92.2 260.7,105.2 262.1,104.8 263.5,111.4 265.0,112.2 266.6,115.7 267.9,118.4 268.8,119.5 270.3,121.8 272.4,126.1 275.4,132.6 278.3,135.8 280.1,137.7 282.2,138.3 284.2,140.0 287.2,143.3 290.8,146.3 293.1,148.4 294.6,146.2 296.1,149.3 299.0,151.5 302.0,153.4 307.9,157.0 309.4,157.7 311.0,158.3 312.7,159.0 314.6,159.6 316.8,160.3 318.2,160.6 319.7,161.0 321.3,161.4 323.0,161.8 324.7,162.1 326.4,162.5 328.2,162.8 329.9,163.1 331.6,163.4 333.2,163.6 334.9,163.8 336.5,164.0 338.2,164.1 339.8,164.3 341.5,164.4 343.1,164.5 344.8,164.6 346.4,164.8 348.0,164.9 349.7,165.0 351.3,165.1 353.0,165.3 354.6,165.4 356.3,165.5 357.9,165.6 359.6,165.7 361.2,165.8 362.8,165.9 364.5,165.9 366.1,166.0 367.8,166.1 369.4,166.1 371.1,166.2 372.7,166.3 374.4,166.3 376.0,166.4 377.6,166.4 379.3,166.5 380.9,166.5 382.6,166.6 384.2,166.6 385.9,166.7 387.5,166.7 389.2,166.8 390.8,166.8 392.4,166.8 394.1,166.9 395.7,166.9 397.4,167.0 399.0,167.0 400.7,167.1 402.3,167.1 404.0,167.1 405.6,167.2 407.2,167.2 408.9,167.2 410.5,167.2 412.2,167.3 413.8,167.3 415.5,167.3 417.1,167.3 418.8,167.3 420.4,167.4 422.0,167.4 423.7,167.4 425.3,167.4 427.0,167.4 428.6,167.4 430.3,167.5 431.9,167.5 433.6,167.5 435.2,167.5 436.9,167.5 438.8,167.5 440.7,167.5 442.6,167.5 444.4,167.5 446.2,167.6 447.7,167.6 449.0,167.6 450.0,167.6" fill="none" stroke="#c5b0d5" stroke-width="1.4" stroke-linejoin="round"/>
<path d="M245.3,153.4 246.4,149.2 247.8,147.5 249.6,146.1 251.4,143.1 253.5,130.8 255.5,117.9 257.2,108.8 258.9,88.2 260.5,104.6 262.0,106.8 263.5,112.0 265.0,114.9 266.6,121.3 267.9,123.9 268.8,120.5 270.3,124.8 272.4,129.6 275.4,134.7 278.3,139.7 280.1,140.9 282.2,139.4 284.2,142.3 287.2,144.8 290.8,147.1 293.1,149.9 294.6,148.3 296.1,150.6 299.0,153.1 302.0,155.3 307.9,158.1 309.4,158.7 311.0,159.4 312.7,160.1 314.6,160.7 316.8,161.3 318.2,161.6 319.7,161.9 321.3,162.2 323.0,162.4 324.7,162.7 326.4,162.9 328.2,163.1 329.9,163.4 331.6,163.6 333.2,163.8 334.9,164.0 336.5,164.1 338.2,164.3 339.8,164.4 341.5,164.6 343.1,164.7 344.8,164.9 346.4,165.0 348.0,165.1 349.7,165.3 351.3,165.4 353.0,165.5 354.6,165.6 356.3,165.7 357.9,165.8 359.6,165.8 361.2,165.9 362.8,166.0 364.5,166.1 366.1,166.2 367.8,166.2 369.4,166.3 371.1,166.4 372.7,166.5 374.4,166.5 376.0,166.6 377.6,166.6 379.3,166.7 380.9,166.7 382.6,166.7 384.2,166.8 385.9,166.8 387.5,166.8 389.2,166.9 390.8,166.9 392.4,166.9 394.1,167.0 395.7,167.0 397.4,167.0 399.0,167.1 400.7,167.1 402.3,167.1 404.0,167.2 405.6,167.2 407.2,167.2 408.9,167.2 410.5,167.3 412.2,167.3 413.8,167.3 415.5,167.3 417.1,167.3 418.8,167.4 420.4,167.4 422.0,167.4 423.7,167.4 425.3,167.4 427.0,167.4 428.6,167.5 430.3,167.5 431.9,167.5 433.6,167.5 435.2,167.5 436.9,167.5 438.8,167.5 440.7,167.6 442.6,167.6 444.4,167.6 446.2,167.6 447.7,167.6 449.0,167.6 450.0,167.6" fill="none" stroke="#8c564b" stroke-width="1.4" stroke-linejoin="round"/>
<path d="M245.3,155.4 246.4,151.5 247.8,148.4 249.6,146.5 251.4,142.3 253.5,130.0 255.5,122.4 257.3,111.6 258.9,88.8 260.5,103.8 262.0,105.5 263.5,113.2 265.0,114.0 266.6,118.7 267.9,120.8 268.8,119.8 270.3,125.8 272.4,129.8 275.4,134.7 278.3,136.7 280.1,138.7 282.2,139.3 284.2,141.0 287.2,145.1 290.8,146.7 293.1,149.0 294.6,148.5 296.1,149.5 299.0,152.8 302.0,154.7 307.9,157.2 309.4,157.8 311.0,158.5 312.7,159.2 314.6,159.9 316.8,160.6 318.2,161.0 319.7,161.3 321.3,161.7 323.0,162.1 324.7,162.4 326.4,162.7 328.2,163.1 329.9,163.4 331.6,163.6 333.2,163.8 334.9,164.0 336.5,164.2 338.2,164.3 339.8,164.4 341.5,164.5 343.1,164.6 344.8,164.7 346.4,164.9 348.0,165.0 349.7,165.1 351.3,165.2 353.0,165.3 354.6,165.4 356.3,165.5 357.9,165.6 359.6,165.7 361.2,165.8 362.8,165.9 364.5,166.0 366.1,166.1 367.8,166.2 369.4,166.2 371.1,166.3 372.7,166.3 374.4,166.4 376.0,166.5 377.6,166.5 379.3,166.6 380.9,166.6 382.6,166.7 384.2,166.7 385.9,166.8 387.5,166.8 389.2,166.9 390.8,166.9 392.4,166.9 394.1,167.0 395.7,167.0 397.4,167.0 399.0,167.0 400.7,167.1 402.3,167.1 404.0,167.1 405.6,167.1 407.2,167.2 408.9,167.2 410.5,167.2 412.2,167.2 413.8,167.3 415.5,167.3 417.1,167.3 418.8,167.3 420.4,167.4 422.0,167.4 423.7,167.4 425.3,167.4 427.0,167.4 428.6,167.4 430.3,167.4 431.9,167.5 433.6,167.5 435.2,167.5 436.9,167.5 438.8,167.5 440.7,167.5 442.6,167.5 444.4,167.6 446.2,167.6 447.7,167.6 449.0,167.6 450.0,167.6" fill="none" stroke="#c49c94" stroke-width="1.4" stroke-linejoin="round"/>
<path d="M245.3,165.9 246.4,165.2 247.8,156.1 249.6,155.3 251.4,144.3 253.5,131.6 255.2,121.7 257.0,111.5 258.6,93.9 260.2,104.6 261.7,108.9 263.5,110.5 265.0,113.3 266.6,113.9 267.9,116.8 268.8,115.4 270.3,121.6 272.4,125.5 275.4,130.4 278.3,135.8 280.1,136.1 282.2,135.5 284.2,138.7 287.2,142.8 290.8,145.8 293.1,146.3 294.6,140.4 296.1,148.6 299.0,151.7 302.0,153.7 307.9,156.6 309.4,157.4 311.0,158.1 312.7,158.9 314.6,159.7 316.8,160.3 318.2,160.7 319.7,161.0 321.3,161.3 323.0,161.6 324.7,161.9 326.4,162.2 328.2,162.5 329.9,162.7 331.6,163.0 333.2,163.2 334.9,163.4 336.5,163.6 338.2,163.8 339.8,164.0 341.5,164.2 343.1,164.4 344.8,164.5 346.4,164.7 348.0,164.8 349.7,165.0 351.3,165.1 353.0,165.2 354.6,165.3 356.3,165.4 357.9,165.5 359.6,165.6 361.2,165.7 362.8,165.8 364.5,165.9 366.1,166.0 367.8,166.0 369.4,166.1 371.1,166.2 372.7,166.2 374.4,166.3 376.0,166.3 377.6,166.4 379.3,166.5 380.9,166.5 382.6,166.6 384.2,166.6 385.9,166.7 387.5,166.7 389.2,166.8 390.8,166.8 392.4,166.8 394.1,166.9 395.7,166.9 397.4,166.9 399.0,167.0 400.7,167.0 402.3,167.0 404.0,167.0 405.6,167.1 407.2,167.1 408.9,167.1 410.5,167.1 412.2,167.2 413.8,167.2 415.5,167.2 417.1,167.2 418.8,167.3 420.4,167.3 422.0,167.3 423.7,167.3 425.3,167.4 427.0,167.4 428.6,167.4 430.3,167.4 431.9,167.4 433.6,167.4 435.2,167.5 436.9,167.5 438.8,167.5 440.7,167.5 442.6,167.5 444.4,167.5 446.2,167.5 447.7,167.5 449.0,167.6 450.0,167.6" fill="none" stroke="#e377c2" stroke-width="1.4" stroke-linejoin="round"/>
<path d="M245.3,163.1 246.4,161.7 247.8,155.1 249.6,154.6 251.4,143.5 253.5,132.9 255.0,123.8 256.8,113.2 258.4,96.8 260.0,106.9 261.5,110.1 263.5,113.9 265.0,114.8 266.6,113.2 267.9,119.5 268.8,118.3 270.3,120.9 272.4,125.0 275.4,131.7 278.3,136.0 280.1,136.3 282.2,137.8 284.2,139.2 287.2,143.4 290.8,146.2 293.1,147.9 294.6,144.2 296.1,148.4 299.0,151.9 302.0,153.5 307.9,156.9 309.4,157.6 311.0,158.3 312.7,159.1 314.6,159.8 316.8,160.4 318.2,160.8 319.7,161.1 321.3,161.5 323.0,161.8 324.7,162.1 326.4,162.4 328.2,162.7 329.9,163.0 331.6,163.2 333.2,163.5 334.9,163.7 336.5,163.9 338.2,164.1 339.8,164.3 341.5,164.4 343.1,164.6 344.8,164.7 346.4,164.9 348.0,165.0 349.7,165.1 351.3,165.3 353.0,165.4 354.6,165.5 356.3,165.5 357.9,165.6 359.6,165.7 361.2,165.8 362.8,165.9 364.5,166.0 366.1,166.0 367.8,166.1 369.4,166.2 371.1,166.2 372.7,166.3 374.4,166.4 376.0,166.4 377.6,166.5 379.3,166.5 380.9,166.6 382.6,166.6 384.2,166.6 385.9,166.7 387.5,166.7 389.2,166.8 390.8,166.8 392.4,166.8 394.1,166.9 395.7,166.9 397.4,166.9 399.0,167.0 400.7,167.0 402.3,167.1 404.0,167.1 405.6,167.1 407.2,167.1 408.9,167.2 410.5,167.2 412.2,167.2 413.8,167.2 415.5,167.3 417.1,167.3 418.8,167.3 420.4,167.3 422.0,167.4 423.7,167.4 425.3,167.4 427.0,167.4 428.6,167.4 430.3,167.4 431.9,167.4 433.6,167.5 435.2,167.5 436.9,167.5 438.8,167.5 440.7,167.5 442.6,167.5 444.4,167.5 446.2,167.6 447.7,167.6 449.0,167.6 450.0,167.6" fill="none" stroke="#f7b6d2" stroke-width="1.4" stroke-linejoin="round"/>
<path d="M245.3,158.2 246.4,154.6 247.8,150.2 249.6,147.8 251.4,141.7 253.5,129.3 256.1,114.9 257.9,108.5 259.5,84.8 261.2,99.9 262.6,104.9 263.5,108.9 265.0,112.8 266.6,114.2 267.9,120.6 268.8,119.2 270.3,124.0 272.4,128.0 275.4,132.9 278.3,135.4 280.1,138.4 282.2,138.2 284.2,141.1 287.2,142.5 290.8,146.7 293.1,147.4 294.6,147.0 296.1,149.1 299.0,152.0 302.0,153.7 307.9,157.2 309.4,157.9 311.0,158.5 312.7,159.2 314.6,159.8 316.8,160.4 318.2,160.8 319.7,161.1 321.3,161.4 323.0,161.8 324.7,162.1 326.4,162.4 328.2,162.7 329.9,162.9 331.6,163.2 333.2,163.4 334.9,163.6 336.5,163.8 338.2,164.0 339.8,164.2 341.5,164.4 343.1,164.5 344.8,164.7 346.4,164.8 348.0,165.0 349.7,165.1 351.3,165.2 353.0,165.3 354.6,165.4 356.3,165.5 357.9,165.6 359.6,165.7 361.2,165.8 362.8,165.9 364.5,166.0 366.1,166.1 367.8,166.2 369.4,166.2 371.1,166.3 372.7,166.4 374.4,166.4 376.0,166.5 377.6,166.5 379.3,166.6 380.9,166.6 382.6,166.6 384.2,166.7 385.9,166.7 387.5,166.7 389.2,166.8 390.8,166.8 392.4,166.8 394.1,166.9 395.7,166.9 397.4,166.9 399.0,167.0 400.7,167.0 402.3,167.1 404.0,167.1 405.6,167.1 407.2,167.2 408.9,167.2 410.5,167.2 412.2,167.2 413.8,167.3 415.5,167.3 417.1,167.3 418.8,167.3 420.4,167.4 422.0,167.4 423.7,167.4 425.3,167.4 427.0,167.4 428.6,167.4 430.3,167.4 431.9,167.4 433.6,167.5 435.2,167.5 436.9,167.5 438.8,167.5 440.7,167.5 442.6,167.5 444.4,167.5 446.2,167.6 447.7,167.6 449.0,167.6 450.0,167.6" fill="none" stroke="#7f7f7f" stroke-width="1.4" stroke-linejoin="round"/>
<path d="M245.3,166.8 246.4,166.4 247.8,152.5 249.6,150.2 251.4,143.0 253.5,130.1 255.3,117.5 257.1,111.5 258.8,88.7 260.4,101.8 261.9,103.1 263.5,105.7 265.0,106.8 266.6,110.6 267.9,113.1 268.8,114.6 270.3,118.8 272.4,124.6 275.4,129.1 278.3,132.1 280.1,134.8 282.2,133.4 284.2,138.1 287.2,140.5 290.8,144.5 293.1,146.0 294.6,144.4 296.1,147.1 299.0,150.3 302.0,153.0 307.9,156.3 309.4,157.1 311.0,157.8 312.7,158.5 314.6,159.3 316.8,160.0 318.2,160.3 319.7,160.7 321.3,161.1 323.0,161.4 324.7,161.8 326.4,162.1 328.2,162.4 329.9,162.7 331.6,163.0 333.2,163.2 334.9,163.4 336.5,163.6 338.2,163.7 339.8,163.9 341.5,164.0 343.1,164.2 344.8,164.3 346.4,164.4 348.0,164.6 349.7,164.7 351.3,164.9 353.0,165.0 354.6,165.1 356.3,165.3 357.9,165.4 359.6,165.5 361.2,165.6 362.8,165.7 364.5,165.8 366.1,165.8 367.8,165.9 369.4,166.0 371.1,166.0 372.7,166.1 374.4,166.1 376.0,166.2 377.6,166.3 379.3,166.3 380.9,166.4 382.6,166.4 384.2,166.5 385.9,166.5 387.5,166.6 389.2,166.6 390.8,166.7 392.4,166.7 394.1,166.8 395.7,166.8 397.4,166.9 399.0,166.9 400.7,167.0 402.3,167.0 404.0,167.0 405.6,167.1 407.2,167.1 408.9,167.1 410.5,167.2 412.2,167.2 413.8,167.2 415.5,167.2 417.1,167.2 418.8,167.3 420.4,167.3 422.0,167.3 423.7,167.3 425.3,167.3 427.0,167.4 428.6,167.4 430.3,167.4 431.9,167.4 433.6,167.4 435.2,167.4 436.9,167.4 438.8,167.5 440.7,167.5 442.6,167.5 444.4,167.5 446.2,167.5 447.7,167.5 449.0,167.6 450.0,167.6" fill="none" stroke="#c7c7c7" stroke-width="1.4" stroke-linejoin="round"/>
<path d="M245.3,153.8 246.4,149.7 247.8,159.2 249.6,158.7 251.4,142.7 253.5,131.2 255.6,121.0 257.3,114.1 259.0,93.1 260.6,106.8 262.1,98.4 263.5,99.3 265.0,102.1 266.6,109.0 267.9,109.0 268.8,109.2 270.3,115.0 272.4,121.2 275.4,126.1 278.3,131.2 280.1,132.5 282.2,129.4 284.2,136.8 287.2,138.7 290.8,141.2 293.1,143.3 294.6,141.7 296.1,146.9 299.0,149.8 302.0,151.9 307.9,154.9 309.4,155.7 311.0,156.7 312.7,157.6 314.6,158.5 316.8,159.4 318.2,159.8 319.7,160.2 321.3,160.6 323.0,161.0 324.7,161.4 326.4,161.7 328.2,162.0 329.9,162.3 331.6,162.6 333.2,162.9 334.9,163.1 336.5,163.3 338.2,163.4 339.8,163.6 341.5,163.7 343.1,163.9 344.8,164.0 346.4,164.2 348.0,164.3 349.7,164.5 351.3,164.6 353.0,164.8 354.6,164.9 356.3,165.1 357.9,165.2 359.6,165.3 361.2,165.4 362.8,165.5 364.5,165.6 366.1,165.7 367.8,165.8 369.4,165.9 371.1,165.9 372.7,166.0 374.4,166.1 376.0,166.1 377.6,166.2 379.3,166.3 380.9,166.3 382.6,166.4 384.2,166.4 385.9,166.5 387.5,166.5 389.2,166.6 390.8,166.6 392.4,166.7 394.1,166.7 395.7,166.8 397.4,166.8 399.0,166.9 400.7,166.9 402.3,166.9 404.0,167.0 405.6,167.0 407.2,167.0 408.9,167.1 410.5,167.1 412.2,167.1 413.8,167.1 415.5,167.2 417.1,167.2 418.8,167.2 420.4,167.2 422.0,167.2 423.7,167.3 425.3,167.3 427.0,167.3 428.6,167.3 430.3,167.3 431.9,167.3 433.6,167.4 435.2,167.4 436.9,167.4 438.8,167.4 440.7,167.4 442.6,167.5 444.4,167.5 446.2,167.5 447.7,167.5 449.0,167.5 450.0,167.5" fill="none" stroke="#bcbd22" stroke-width="1.4" stroke-linejoin="round"/>
<path d="M245.3,156.4 246.4,152.8 247.8,156.5 249.6,155.9 251.4,142.5 253.5,130.6 255.1,121.3 256.9,110.7 258.5,89.9 260.1,102.3 261.6,109.2 263.5,112.1 265.0,115.4 266.6,111.1 267.9,115.2 268.8,117.1 270.3,117.7 272.4,123.2 275.4,130.1 278.3,134.2 280.1,137.1 282.2,136.7 284.2,138.9 287.2,142.9 290.8,145.2 293.1,146.9 294.6,146.4 296.1,148.2 299.0,150.9 302.0,152.6 307.9,156.5 309.4,157.3 311.0,158.0 312.7,158.6 314.6,159.3 316.8,160.0 318.2,160.3 319.7,160.7 321.3,161.1 323.0,161.5 324.7,161.8 326.4,162.2 328.2,162.5 329.9,162.8 331.6,163.1 333.2,163.3 334.9,163.5 336.5,163.7 338.2,163.9 339.8,164.0 341.5,164.2 343.1,164.3 344.8,164.5 346.4,164.6 348.0,164.7 349.7,164.9 351.3,165.0 353.0,165.1 354.6,165.2 356.3,165.3 357.9,165.4 359.6,165.5 361.2,165.6 362.8,165.7 364.5,165.8 366.1,165.9 367.8,166.0 369.4,166.1 371.1,166.2 372.7,166.2 374.4,166.3 376.0,166.4 377.6,166.4 379.3,166.5 380.9,166.5 382.6,166.5 384.2,166.6 385.9,166.6 387.5,166.6 389.2,166.7 390.8,166.7 392.4,166.8 394.1,166.8 395.7,166.8 397.4,166.9 399.0,166.9 400.7,166.9 402.3,167.0 404.0,167.0 405.6,167.0 407.2,167.1 408.9,167.1 410.5,167.1 412.2,167.2 413.8,167.2 415.5,167.2 417.1,167.2 418.8,167.3 420.4,167.3 422.0,167.3 423.7,167.3 425.3,167.3 427.0,167.4 428.6,167.4 430.3,167.4 431.9,167.4 433.6,167.4 435.2,167.4 436.9,167.5 438.8,167.5 440.7,167.5 442.6,167.5 444.4,167.5 446.2,167.5 447.7,167.5 449.0,167.6 450.0,167.6" fill="none" stroke="#dbdb8d" stroke-width="1.4" stroke-linejoin="round"/>
<path d="M245.3,149.7 246.4,143.9 247.8,144.6 249.6,143.6 251.4,140.8 253.5,127.3 255.8,115.9 257.5,103.1 259.2,81.1 260.8,96.4 262.3,104.7 263.5,108.4 265.0,113.3 266.6,116.9 267.9,121.2 268.8,117.5 270.3,124.8 272.4,127.1 275.4,134.6 278.3,136.6 280.1,139.1 282.2,138.1 284.2,140.4 287.2,144.9 290.8,147.2 293.1,147.4 294.6,147.2 296.1,150.3 299.0,151.5 302.0,153.7 307.9,157.7 309.4,158.4 311.0,159.0 312.7,159.6 314.6,160.1 316.8,160.7 318.2,161.0 319.7,161.4 321.3,161.7 323.0,162.1 324.7,162.4 326.4,162.7 328.2,163.0 329.9,163.3 331.6,163.6 333.2,163.8 334.9,164.0 336.5,164.2 338.2,164.3 339.8,164.5 341.5,164.6 343.1,164.7 344.8,164.8 346.4,165.0 348.0,165.1 349.7,165.2 351.3,165.3 353.0,165.4 354.6,165.4 356.3,165.5 357.9,165.6 359.6,165.7 361.2,165.8 362.8,165.9 364.5,166.0 366.1,166.0 367.8,166.1 369.4,166.2 371.1,166.3 372.7,166.4 374.4,166.4 376.0,166.5 377.6,166.5 379.3,166.6 380.9,166.6 382.6,166.7 384.2,166.7 385.9,166.7 387.5,166.8 389.2,166.8 390.8,166.8 392.4,166.9 394.1,166.9 395.7,167.0 397.4,167.0 399.0,167.0 400.7,167.1 402.3,167.1 404.0,167.1 405.6,167.2 407.2,167.2 408.9,167.2 410.5,167.3 412.2,167.3 413.8,167.3 415.5,167.3 417.1,167.3 418.8,167.3 420.4,167.4 422.0,167.4 423.7,167.4 425.3,167.4 427.0,167.4 428.6,167.4 430.3,167.4 431.9,167.5 433.6,167.5 435.2,167.5 436.9,167.5 438.8,167.5 440.7,167.5 442.6,167.5 444.4,167.6 446.2,167.6 447.7,167.6 449.0,167.6 450.0,167.6" fill="none" stroke="#1f77b4" stroke-width="1.4" stroke-linejoin="round"/>
<path d="M245.3,151.7 246.4,146.1 247.8,146.2 249.6,144.0 251.4,140.5 253.5,127.8 256.1,116.4 257.8,106.0 259.5,80.8 261.1,99.0 262.6,99.8 263.5,105.9 265.0,108.2 266.6,111.2 267.9,113.1 268.8,113.2 270.3,120.1 272.4,124.4 275.4,130.6 278.3,132.5 280.1,134.6 282.2,133.7 284.2,137.3 287.2,140.7 290.8,143.1 293.1,145.3 294.6,145.3 296.1,147.0 299.0,150.3 302.0,152.3 307.9,156.2 309.4,156.9 311.0,157.7 312.7,158.5 314.6,159.2 316.8,159.9 318.2,160.3 319.7,160.6 321.3,161.0 323.0,161.4 324.7,161.7 326.4,162.1 328.2,162.4 329.9,162.7 331.6,163.0 333.2,163.2 334.9,163.4 336.5,163.6 338.2,163.8 339.8,164.0 341.5,164.1 343.1,164.3 344.8,164.4 346.4,164.6 348.0,164.7 349.7,164.8 351.3,165.0 353.0,165.1 354.6,165.2 356.3,165.3 357.9,165.4 359.6,165.5 361.2,165.6 362.8,165.7 364.5,165.8 366.1,165.9 367.8,166.0 369.4,166.0 371.1,166.1 372.7,166.2 374.4,166.3 376.0,166.3 377.6,166.4 379.3,166.4 380.9,166.5 382.6,166.5 384.2,166.6 385.9,166.6 387.5,166.6 389.2,166.7 390.8,166.7 392.4,166.7 394.1,166.8 395.7,166.8 397.4,166.9 399.0,166.9 400.7,166.9 402.3,167.0 404.0,167.0 405.6,167.0 407.2,167.1 408.9,167.1 410.5,167.1 412.2,167.1 413.8,167.2 415.5,167.2 417.1,167.2 418.8,167.2 420.4,167.2 422.0,167.3 423.7,167.3 425.3,167.3 427.0,167.3 428.6,167.4 430.3,167.4 431.9,167.4 433.6,167.4 435.2,167.4 436.9,167.4 438.8,167.5 440.7,167.5 442.6,167.5 444.4,167.5 446.2,167.5 447.7,167.5 449.0,167.5 450.0,167.5" fill="none" stroke="#aec7e8" stroke-width="1.4" stroke-linejoin="round"/>
<path d="M245.3,147.1 246.4,139.4 247.8,143.8 249.6,141.1 251.4,137.0 253.5,123.0 255.1,107.6 256.9,96.4 258.5,73.9 260.1,87.5 261.6,102.9 263.5,105.4 265.0,111.2 266.6,119.3 267.9,119.9 268.8,121.2 270.3,125.4 272.4,128.4 275.4,134.1 278.3,138.8 280.1,139.5 282.2,138.4 284.2,142.6 287.2,144.4 290.8,147.7 293.1,148.9 294.6,148.5 296.1,150.7 299.0,152.0 302.0,154.7 307.9,157.3 309.4,158.0 311.0,158.7 312.7,159.5 314.6,160.3 316.8,160.9 318.2,161.3 319.7,161.6 321.3,161.9 323.0,162.2 324.7,162.5 326.4,162.8 328.2,163.1 329.9,163.3 331.6,163.5 333.2,163.7 334.9,163.9 336.5,164.1 338.2,164.3 339.8,164.4 341.5,164.5 343.1,164.7 344.8,164.8 346.4,164.9 348.0,165.0 349.7,165.1 351.3,165.3 353.0,165.4 354.6,165.5 356.3,165.6 357.9,165.7 359.6,165.7 361.2,165.8 362.8,165.9 364.5,166.0 366.1,166.1 367.8,166.2 369.4,166.3 371.1,166.3 372.7,166.4 374.4,166.5 376.0,166.5 377.6,166.6 379.3,166.6 380.9,166.7 382.6,166.7 384.2,166.8 385.9,166.8 387.5,166.8 389.2,166.9 390.8,166.9 392.4,166.9 394.1,167.0 395.7,167.0 397.4,167.0 399.0,167.0 400.7,167.1 402.3,167.1 404.0,167.1 405.6,167.2 407.2,167.2 408.9,167.2 410.5,167.2 412.2,167.3 413.8,167.3 415.5,167.3 417.1,167.3 418.8,167.4 420.4,167.4 422.0,167.4 423.7,167.4 425.3,167.4 427.0,167.5 428.6,167.5 430.3,167.5 431.9,167.5 433.6,167.5 435.2,167.5 436.9,167.5 438.8,167.5 440.7,167.6 442.6,167.6 444.4,167.6 446.2,167.6 447.7,167.6 449.0,167.6 450.0,167.6" fill="none" stroke="#2ca02c" stroke-width="1.4" stroke-linejoin="round"/>
<path d="M245.3,148.2 246.4,144.1 247.8,145.3 249.6,144.4 251.4,136.6 253.5,125.8 256.1,109.6 257.9,99.4 259.5,73.9 261.2,89.1 262.6,104.8 263.5,108.6 265.0,109.4 266.6,115.0 267.9,118.4 268.8,117.7 270.3,119.6 272.4,124.8 275.4,130.7 278.3,136.2 280.1,136.1 282.2,136.3 284.2,140.4 287.2,142.8 290.8,145.5 293.1,147.7 294.6,146.1 296.1,149.0 299.0,151.2 302.0,152.9 307.9,156.7 309.4,157.5 311.0,158.2 312.7,159.0 314.6,159.7 316.8,160.4 318.2,160.7 319.7,161.0 321.3,161.4 323.0,161.7 324.7,162.0 326.4,162.3 328.2,162.6 329.9,162.8 331.6,163.1 333.2,163.3 334.9,163.5 336.5,163.7 338.2,163.9 339.8,164.0 341.5,164.2 343.1,164.3 344.8,164.5 346.4,164.6 348.0,164.8 349.7,164.9 351.3,165.0 353.0,165.2 354.6,165.3 356.3,165.4 357.9,165.5 359.6,165.6 361.2,165.7 362.8,165.8 364.5,165.9 366.1,165.9 367.8,166.0 369.4,166.1 371.1,166.1 372.7,166.2 374.4,166.3 376.0,166.3 377.6,166.4 379.3,166.4 380.9,166.5 382.6,166.6 384.2,166.6 385.9,166.7 387.5,166.7 389.2,166.8 390.8,166.8 392.4,166.9 394.1,166.9 395.7,167.0 397.4,167.0 399.0,167.0 400.7,167.0 402.3,167.1 404.0,167.1 405.6,167.1 407.2,167.2 408.9,167.2 410.5,167.2 412.2,167.2 413.8,167.3 415.5,167.3 417.1,167.3 418.8,167.3 420.4,167.3 422.0,167.3 423.7,167.4 425.3,167.4 427.0,167.4 428.6,167.4 430.3,167.4 431.9,167.4 433.6,167.4 435.2,167.5 436.9,167.5 438.8,167.5 440.7,167.5 442.6,167.5 444.4,167.5 446.2,167.5 447.7,167.5 449.0,167.6 450.0,167.6" fill="none" stroke="#98df8a" stroke-width="1.4" stroke-linejoin="round"/>
<path d="M245.3,125.3 246.4,111.9 247.8,137.1 249.6,134.4 251.4,139.4 253.5,125.5 256.1,114.9 257.9,102.6 259.5,84.1 261.1,96.6 262.6,111.6 263.5,116.2 265.0,116.0 266.6,123.1 267.9,124.3 268.8,123.0 270.3,129.0 272.4,131.4 275.4,136.5 278.3,140.1 280.1,142.9 282.2,141.3 284.2,143.9 287.2,147.0 290.8,149.3 293.1,150.6 294.6,149.9 296.1,151.4 299.0,154.1 302.0,155.8 307.9,158.5 309.4,159.0 311.0,159.6 312.7,160.1 314.6,160.7 316.8,161.3 318.2,161.6 319.7,161.9 321.3,162.2 323.0,162.6 324.7,162.9 326.4,163.2 328.2,163.5 329.9,163.8 331.6,164.0 333.2,164.2 334.9,164.4 336.5,164.6 338.2,164.7 339.8,164.9 341.5,165.0 343.1,165.1 344.8,165.2 346.4,165.4 348.0,165.5 349.7,165.5 351.3,165.6 353.0,165.7 354.6,165.7 356.3,165.8 357.9,165.8 359.6,165.9 361.2,166.0 362.8,166.0 364.5,166.1 366.1,166.2 367.8,166.3 369.4,166.3 371.1,166.4 372.7,166.5 374.4,166.5 376.0,166.6 377.6,166.6 379.3,166.7 380.9,166.7 382.6,166.8 384.2,166.8 385.9,166.9 387.5,166.9 389.2,166.9 390.8,167.0 392.4,167.0 394.1,167.0 395.7,167.1 397.4,167.1 399.0,167.1 400.7,167.2 402.3,167.2 404.0,167.2 405.6,167.2 407.2,167.3 408.9,167.3 410.5,167.3 412.2,167.3 413.8,167.4 415.5,167.4 417.1,167.4 418.8,167.4 420.4,167.4 422.0,167.5 423.7,167.5 425.3,167.5 427.0,167.5 428.6,167.5 430.3,167.5 431.9,167.5 433.6,167.6 435.2,167.6 436.9,167.6 438.8,167.6 440.7,167.6 442.6,167.6 444.4,167.6 446.2,167.6 447.7,167.6 449.0,167.6 450.0,167.6" fill="none" stroke="#ff7f0e" stroke-width="1.4" stroke-linejoin="round"/>
<path d="M245.3,133.0 246.4,121.5 247.8,139.1 249.6,138.2 251.4,139.4 253.5,126.6 255.8,114.7 257.6,107.2 259.2,86.4 260.8,98.3 262.3,108.5 263.5,114.6 265.0,115.8 266.6,121.6 267.9,122.6 268.8,121.5 270.3,127.2 272.4,129.9 275.4,137.3 278.3,138.9 280.1,140.3 282.2,141.1 284.2,142.9 287.2,145.8 290.8,147.5 293.1,150.1 294.6,148.9 296.1,150.7 299.0,153.2 302.0,155.5 307.9,158.6 309.4,159.1 311.0,159.6 312.7,160.1 314.6,160.5 316.8,161.0 318.2,161.3 319.7,161.7 321.3,162.0 323.0,162.3 324.7,162.7 326.4,163.0 328.2,163.3 329.9,163.6 331.6,163.8 333.2,164.0 334.9,164.2 336.5,164.4 338.2,164.5 339.8,164.6 341.5,164.7 343.1,164.8 344.8,164.9 346.4,165.0 348.0,165.2 349.7,165.3 351.3,165.4 353.0,165.5 354.6,165.6 356.3,165.8 357.9,165.9 359.6,166.0 361.2,166.0 362.8,166.1 364.5,166.2 366.1,166.2 367.8,166.3 369.4,166.4 371.1,166.4 372.7,166.4 374.4,166.5 376.0,166.5 377.6,166.6 379.3,166.6 380.9,166.7 382.6,166.7 384.2,166.8 385.9,166.8 387.5,166.9 389.2,166.9 390.8,166.9 392.4,167.0 394.1,167.0 395.7,167.0 397.4,167.1 399.0,167.1 400.7,167.1 402.3,167.1 404.0,167.2 405.6,167.2 407.2,167.2 408.9,167.2 410.5,167.3 412.2,167.3 413.8,167.3 415.5,167.4 417.1,167.4 418.8,167.4 420.4,167.4 422.0,167.4 423.7,167.5 425.3,167.5 427.0,167.5 428.6,167.5 430.3,167.5 431.9,167.5 433.6,167.5 435.2,167.5 436.9,167.6 438.8,167.6 440.7,167.6 442.6,167.6 444.4,167.6 446.2,167.6 447.7,167.6 449.0,167.6 450.0,167.6" fill="none" stroke="#ffbb78" stroke-width="1.4" stroke-linejoin="round"/>
<path d="M245.3,162.7 246.4,160.9 247.8,139.7 249.6,137.6 251.4,133.5 253.5,117.7 255.4,103.2 257.1,90.7 258.8,65.2 260.4,82.8 261.9,95.5 263.5,102.3 265.0,103.3 266.6,115.0 267.9,118.0 268.8,116.9 270.3,123.7 272.4,128.5 275.4,132.4 278.3,136.5 280.1,139.1 282.2,137.1 284.2,140.0 287.2,143.1 290.8,146.7 293.1,148.2 294.6,147.8 296.1,148.8 299.0,152.3 302.0,153.8 307.9,157.3 309.4,157.9 311.0,158.6 312.7,159.3 314.6,159.9 316.8,160.5 318.2,160.9 319.7,161.2 321.3,161.6 323.0,161.9 324.7,162.2 326.4,162.6 328.2,162.9 329.9,163.1 331.6,163.4 333.2,163.6 334.9,163.8 336.5,164.0 338.2,164.1 339.8,164.3 341.5,164.4 343.1,164.5 344.8,164.7 346.4,164.8 348.0,164.9 349.7,165.0 351.3,165.2 353.0,165.3 354.6,165.4 356.3,165.5 357.9,165.6 359.6,165.7 361.2,165.8 362.8,165.9 364.5,165.9 366.1,166.0 367.8,166.1 369.4,166.2 371.1,166.3 372.7,166.3 374.4,166.4 376.0,166.5 377.6,166.5 379.3,166.6 380.9,166.6 382.6,166.7 384.2,166.7 385.9,166.8 387.5,166.8 389.2,166.8 390.8,166.9 392.4,166.9 394.1,167.0 395.7,167.0 397.4,167.0 399.0,167.0 400.7,167.1 402.3,167.1 404.0,167.1 405.6,167.1 407.2,167.2 408.9,167.2 410.5,167.2 412.2,167.2 413.8,167.2 415.5,167.3 417.1,167.3 418.8,167.3 420.4,167.3 422.0,167.3 423.7,167.4 425.3,167.4 427.0,167.4 428.6,167.4 430.3,167.5 431.9,167.5 433.6,167.5 435.2,167.5 436.9,167.5 438.8,167.5 440.7,167.5 442.6,167.6 444.4,167.6 446.2,167.6 447.7,167.6 449.0,167.6 450.0,167.6" fill="none" stroke="#17becf" stroke-width="1.4" stroke-linejoin="round"/>
<path d="M245.3,165.5 246.4,164.7 247.8,142.5 249.6,140.3 251.4,137.5 253.5,121.5 255.9,111.2 257.6,101.0 259.3,76.7 260.9,92.2 262.4,103.9 263.5,108.5 265.0,111.8 266.6,115.8 267.9,119.2 268.8,117.3 270.3,122.9 272.4,128.3 275.4,133.2 278.3,136.0 280.1,138.0 282.2,136.4 284.2,139.6 287.2,143.4 290.8,146.5 293.1,147.1 294.6,146.2 296.1,149.3 299.0,151.4 302.0,154.0 307.9,156.7 309.4,157.4 311.0,158.1 312.7,158.8 314.6,159.6 316.8,160.2 318.2,160.6 319.7,161.0 321.3,161.3 323.0,161.7 324.7,162.0 326.4,162.3 328.2,162.6 329.9,162.9 331.6,163.2 333.2,163.4 334.9,163.6 336.5,163.8 338.2,164.0 339.8,164.1 341.5,164.3 343.1,164.4 344.8,164.6 346.4,164.7 348.0,164.8 349.7,165.0 351.3,165.1 353.0,165.2 354.6,165.4 356.3,165.5 357.9,165.6 359.6,165.7 361.2,165.8 362.8,165.9 364.5,166.0 366.1,166.0 367.8,166.1 369.4,166.2 371.1,166.2 372.7,166.3 374.4,166.3 376.0,166.4 377.6,166.5 379.3,166.5 380.9,166.6 382.6,166.6 384.2,166.6 385.9,166.7 387.5,166.7 389.2,166.8 390.8,166.8 392.4,166.8 394.1,166.9 395.7,166.9 397.4,166.9 399.0,167.0 400.7,167.0 402.3,167.0 404.0,167.1 405.6,167.1 407.2,167.1 408.9,167.2 410.5,167.2 412.2,167.2 413.8,167.2 415.5,167.3 417.1,167.3 418.8,167.3 420.4,167.3 422.0,167.4 423.7,167.4 425.3,167.4 427.0,167.4 428.6,167.4 430.3,167.4 431.9,167.5 433.6,167.5 435.2,167.5 436.9,167.5 438.8,167.5 440.7,167.5 442.6,167.5 444.4,167.5 446.2,167.6 447.7,167.6 449.0,167.6 450.0,167.6" fill="none" stroke="#9edae5" stroke-width="1.4" stroke-linejoin="round"/>
</g>
<clipPath id="cb"><rect x="239.8" y="17.1" width="209.0" height="158.1"/></clipPath>
<rect x="239.80" y="17.10" width="209.00" height="158.10" fill="none" stroke="#2e2e2e" stroke-width="1.25"/>
<line x1="268.40" y1="175.20" x2="268.40" y2="17.10" stroke="#1a1a1a" stroke-width="1.1" stroke-dasharray="6,5.98"/>
<line x1="237.40" y1="168.00" x2="239.80" y2="168.00" stroke="#262626" stroke-width="1.0"/>
<text x="236.80" y="170.52" font-size="7.0" text-anchor="end" fill="#000">0</text>
<line x1="237.40" y1="126.44" x2="239.80" y2="126.44" stroke="#262626" stroke-width="1.0"/>
<text x="236.80" y="128.96" font-size="7.0" text-anchor="end" fill="#000">5000</text>
<line x1="237.40" y1="84.87" x2="239.80" y2="84.87" stroke="#262626" stroke-width="1.0"/>
<text x="236.80" y="87.39" font-size="7.0" text-anchor="end" fill="#000">10000</text>
<line x1="237.40" y1="43.31" x2="239.80" y2="43.31" stroke="#262626" stroke-width="1.0"/>
<text x="236.80" y="45.83" font-size="7.0" text-anchor="end" fill="#000">15000</text>
<line x1="242.80" y1="175.20" x2="242.80" y2="177.60" stroke="#262626" stroke-width="1.0"/>
<text x="242.80" y="185.40" font-size="7.0" text-anchor="middle" fill="#000">0</text>
<line x1="302.00" y1="175.20" x2="302.00" y2="177.60" stroke="#262626" stroke-width="1.0"/>
<text x="302.00" y="185.40" font-size="7.0" text-anchor="middle" fill="#000">2000</text>
<line x1="361.20" y1="175.20" x2="361.20" y2="177.60" stroke="#262626" stroke-width="1.0"/>
<text x="361.20" y="185.40" font-size="7.0" text-anchor="middle" fill="#000">4000</text>
<line x1="420.40" y1="175.20" x2="420.40" y2="177.60" stroke="#262626" stroke-width="1.0"/>
<text x="420.40" y="185.40" font-size="7.0" text-anchor="middle" fill="#000">6000</text>
<text x="340.00" y="196.30" font-size="8.1" text-anchor="middle" fill="#000">Read length (bp)</text>
<text x="216.00" y="98.50" font-size="8.1" text-anchor="middle" fill="#000" transform="rotate(-90 216.00 98.50)">Density-scaled count</text>
<text x="272.50" y="30.60" font-size="7.0" text-anchor="start" fill="#000">Average of median length: 847 bp</text>
<line x1="379.30" y1="34.30" x2="388.00" y2="34.30" stroke="#d62728" stroke-width="1.2"/>
<text x="391.00" y="36.87" font-size="6.85" text-anchor="start" fill="#000">AsPC-1-1</text>
<line x1="379.30" y1="40.96" x2="388.00" y2="40.96" stroke="#ff9896" stroke-width="1.2"/>
<text x="391.00" y="43.53" font-size="6.85" text-anchor="start" fill="#000">AsPC-1-2</text>
<line x1="379.30" y1="47.62" x2="388.00" y2="47.62" stroke="#9467bd" stroke-width="1.2"/>
<text x="391.00" y="50.19" font-size="6.85" text-anchor="start" fill="#000">BXPC3-1</text>
<line x1="379.30" y1="54.28" x2="388.00" y2="54.28" stroke="#c5b0d5" stroke-width="1.2"/>
<text x="391.00" y="56.85" font-size="6.85" text-anchor="start" fill="#000">BXPC3-2</text>
<line x1="379.30" y1="60.94" x2="388.00" y2="60.94" stroke="#8c564b" stroke-width="1.2"/>
<text x="391.00" y="63.51" font-size="6.85" text-anchor="start" fill="#000">Capan-1-1</text>
<line x1="379.30" y1="67.60" x2="388.00" y2="67.60" stroke="#c49c94" stroke-width="1.2"/>
<text x="391.00" y="70.17" font-size="6.85" text-anchor="start" fill="#000">Capan-1-2</text>
<line x1="379.30" y1="74.26" x2="388.00" y2="74.26" stroke="#e377c2" stroke-width="1.2"/>
<text x="391.00" y="76.83" font-size="6.85" text-anchor="start" fill="#000">Capan-2-1</text>
<line x1="379.30" y1="80.92" x2="388.00" y2="80.92" stroke="#f7b6d2" stroke-width="1.2"/>
<text x="391.00" y="83.49" font-size="6.85" text-anchor="start" fill="#000">Capan-2-2</text>
<line x1="379.30" y1="87.58" x2="388.00" y2="87.58" stroke="#7f7f7f" stroke-width="1.2"/>
<text x="391.00" y="90.15" font-size="6.85" text-anchor="start" fill="#000">HuP-T4-1</text>
<line x1="379.30" y1="94.24" x2="388.00" y2="94.24" stroke="#c7c7c7" stroke-width="1.2"/>
<text x="391.00" y="96.81" font-size="6.85" text-anchor="start" fill="#000">HuP-T4-2</text>
<line x1="379.30" y1="100.90" x2="388.00" y2="100.90" stroke="#bcbd22" stroke-width="1.2"/>
<text x="391.00" y="103.47" font-size="6.85" text-anchor="start" fill="#000">Mia-PaCa-2-1</text>
<line x1="379.30" y1="107.56" x2="388.00" y2="107.56" stroke="#dbdb8d" stroke-width="1.2"/>
<text x="391.00" y="110.13" font-size="6.85" text-anchor="start" fill="#000">Mia-PaCa-2-2</text>
<line x1="379.30" y1="114.22" x2="388.00" y2="114.22" stroke="#1f77b4" stroke-width="1.2"/>
<text x="391.00" y="116.79" font-size="6.85" text-anchor="start" fill="#000">PANC0203-1</text>
<line x1="379.30" y1="120.88" x2="388.00" y2="120.88" stroke="#aec7e8" stroke-width="1.2"/>
<text x="391.00" y="123.45" font-size="6.85" text-anchor="start" fill="#000">PANC0203-2</text>
<line x1="379.30" y1="127.54" x2="388.00" y2="127.54" stroke="#2ca02c" stroke-width="1.2"/>
<text x="391.00" y="130.11" font-size="6.85" text-anchor="start" fill="#000">Panc0327-1</text>
<line x1="379.30" y1="134.20" x2="388.00" y2="134.20" stroke="#98df8a" stroke-width="1.2"/>
<text x="391.00" y="136.77" font-size="6.85" text-anchor="start" fill="#000">Panc0327-2</text>
<line x1="379.30" y1="140.86" x2="388.00" y2="140.86" stroke="#ff7f0e" stroke-width="1.2"/>
<text x="391.00" y="143.43" font-size="6.85" text-anchor="start" fill="#000">PANC1005-1</text>
<line x1="379.30" y1="147.52" x2="388.00" y2="147.52" stroke="#ffbb78" stroke-width="1.2"/>
<text x="391.00" y="150.09" font-size="6.85" text-anchor="start" fill="#000">PANC1005-2</text>
<line x1="379.30" y1="154.18" x2="388.00" y2="154.18" stroke="#17becf" stroke-width="1.2"/>
<text x="391.00" y="156.75" font-size="6.85" text-anchor="start" fill="#000">SW1990-1</text>
<line x1="379.30" y1="160.84" x2="388.00" y2="160.84" stroke="#9edae5" stroke-width="1.2"/>
<text x="391.00" y="163.41" font-size="6.85" text-anchor="start" fill="#000">SW1990-2</text>
<text x="204.80" y="12.00" font-size="16.5" text-anchor="start" fill="#000">b</text>
<rect x="479.90" y="60.96" width="7.30" height="88.64" fill="#1f77b4"/>
<rect x="479.90" y="55.88" width="7.30" height="5.08" fill="#9467bd"/>
<rect x="479.90" y="50.44" width="7.30" height="5.45" fill="#d62728"/>
<rect x="479.90" y="49.57" width="7.30" height="0.87" fill="#2ca02c"/>
<rect x="479.90" y="25.80" width="7.30" height="23.77" fill="#ff7f0e"/>
<text x="487.85" y="159.10" font-size="6.9" text-anchor="end" fill="#000" transform="rotate(-45 487.85 159.10)">AsPC-1-1</text>
<rect x="490.16" y="60.59" width="7.30" height="89.01" fill="#1f77b4"/>
<rect x="490.16" y="55.88" width="7.30" height="4.70" fill="#9467bd"/>
<rect x="490.16" y="51.18" width="7.30" height="4.70" fill="#d62728"/>
<rect x="490.16" y="50.06" width="7.30" height="1.11" fill="#2ca02c"/>
<rect x="490.16" y="25.80" width="7.30" height="24.26" fill="#ff7f0e"/>
<text x="498.11" y="159.10" font-size="6.9" text-anchor="end" fill="#000" transform="rotate(-45 498.11 159.10)">AsPC-1-2</text>
<rect x="500.42" y="30.75" width="7.30" height="118.85" fill="#1f77b4"/>
<rect x="500.42" y="30.26" width="7.30" height="0.50" fill="#9467bd"/>
<rect x="500.42" y="29.14" width="7.30" height="1.11" fill="#d62728"/>
<rect x="500.42" y="25.80" width="7.30" height="3.34" fill="#ff7f0e"/>
<text x="508.37" y="159.10" font-size="6.9" text-anchor="end" fill="#000" transform="rotate(-45 508.37 159.10)">BXPC3-1</text>
<rect x="510.68" y="30.88" width="7.30" height="118.72" fill="#1f77b4"/>
<rect x="510.68" y="30.13" width="7.30" height="0.74" fill="#9467bd"/>
<rect x="510.68" y="28.89" width="7.30" height="1.24" fill="#d62728"/>
<rect x="510.68" y="25.80" width="7.30" height="3.09" fill="#ff7f0e"/>
<text x="518.63" y="159.10" font-size="6.9" text-anchor="end" fill="#000" transform="rotate(-45 518.63 159.10)">BXPC3-2</text>
<rect x="520.94" y="31.49" width="7.30" height="118.11" fill="#1f77b4"/>
<rect x="520.94" y="30.75" width="7.30" height="0.74" fill="#9467bd"/>
<rect x="520.94" y="30.01" width="7.30" height="0.74" fill="#d62728"/>
<rect x="520.94" y="25.80" width="7.30" height="4.21" fill="#2ca02c"/>
<text x="528.89" y="159.10" font-size="6.9" text-anchor="end" fill="#000" transform="rotate(-45 528.89 159.10)">Capan-1-1</text>
<rect x="531.20" y="31.99" width="7.30" height="117.61" fill="#1f77b4"/>
<rect x="531.20" y="31.37" width="7.30" height="0.62" fill="#9467bd"/>
<rect x="531.20" y="30.75" width="7.30" height="0.62" fill="#d62728"/>
<rect x="531.20" y="25.80" width="7.30" height="4.95" fill="#2ca02c"/>
<text x="539.15" y="159.10" font-size="6.9" text-anchor="end" fill="#000" transform="rotate(-45 539.15 159.10)">Capan-1-2</text>
<rect x="541.46" y="47.46" width="7.30" height="102.14" fill="#1f77b4"/>
<rect x="541.46" y="44.12" width="7.30" height="3.34" fill="#9467bd"/>
<rect x="541.46" y="43.13" width="7.30" height="0.99" fill="#d62728"/>
<rect x="541.46" y="39.17" width="7.30" height="3.96" fill="#2ca02c"/>
<rect x="541.46" y="25.80" width="7.30" height="13.37" fill="#ff7f0e"/>
<text x="549.41" y="159.10" font-size="6.9" text-anchor="end" fill="#000" transform="rotate(-45 549.41 159.10)">Capan-2-1</text>
<rect x="551.72" y="46.72" width="7.30" height="102.88" fill="#1f77b4"/>
<rect x="551.72" y="44.37" width="7.30" height="2.35" fill="#9467bd"/>
<rect x="551.72" y="43.13" width="7.30" height="1.24" fill="#d62728"/>
<rect x="551.72" y="38.18" width="7.30" height="4.95" fill="#2ca02c"/>
<rect x="551.72" y="25.80" width="7.30" height="12.38" fill="#ff7f0e"/>
<text x="559.67" y="159.10" font-size="6.9" text-anchor="end" fill="#000" transform="rotate(-45 559.67 159.10)">Capan-2-2</text>
<rect x="561.98" y="27.04" width="7.30" height="122.56" fill="#1f77b4"/>
<rect x="561.98" y="26.42" width="7.30" height="0.62" fill="#9467bd"/>
<rect x="561.98" y="25.80" width="7.30" height="0.62" fill="#d62728"/>
<text x="569.93" y="159.10" font-size="6.9" text-anchor="end" fill="#000" transform="rotate(-45 569.93 159.10)">HuP-T4-1</text>
<rect x="572.24" y="27.04" width="7.30" height="122.56" fill="#1f77b4"/>
<rect x="572.24" y="26.42" width="7.30" height="0.62" fill="#9467bd"/>
<rect x="572.24" y="25.80" width="7.30" height="0.62" fill="#d62728"/>
<text x="580.19" y="159.10" font-size="6.9" text-anchor="end" fill="#000" transform="rotate(-45 580.19 159.10)">HuP-T4-2</text>
<rect x="582.50" y="40.41" width="7.30" height="109.19" fill="#1f77b4"/>
<rect x="582.50" y="39.42" width="7.30" height="0.99" fill="#9467bd"/>
<rect x="582.50" y="37.44" width="7.30" height="1.98" fill="#d62728"/>
<rect x="582.50" y="35.83" width="7.30" height="1.61" fill="#2ca02c"/>
<rect x="582.50" y="25.80" width="7.30" height="10.03" fill="#ff7f0e"/>
<text x="590.45" y="159.10" font-size="6.9" text-anchor="end" fill="#000" transform="rotate(-45 590.45 159.10)">Mia-PaCa-2-1</text>
<rect x="592.76" y="40.90" width="7.30" height="108.70" fill="#1f77b4"/>
<rect x="592.76" y="39.91" width="7.30" height="0.99" fill="#9467bd"/>
<rect x="592.76" y="37.93" width="7.30" height="1.98" fill="#d62728"/>
<rect x="592.76" y="36.32" width="7.30" height="1.61" fill="#2ca02c"/>
<rect x="592.76" y="25.80" width="7.30" height="10.52" fill="#ff7f0e"/>
<text x="600.71" y="159.10" font-size="6.9" text-anchor="end" fill="#000" transform="rotate(-45 600.71 159.10)">Mia-PaCa-2-2</text>
<rect x="603.02" y="27.90" width="7.30" height="121.70" fill="#1f77b4"/>
<rect x="603.02" y="26.91" width="7.30" height="0.99" fill="#9467bd"/>
<rect x="603.02" y="25.80" width="7.30" height="1.11" fill="#d62728"/>
<rect x="603.02" y="25.80" width="7.30" height="0.00" fill="#ff7f0e"/>
<text x="610.97" y="159.10" font-size="6.9" text-anchor="end" fill="#000" transform="rotate(-45 610.97 159.10)">PANC0203-1</text>
<rect x="613.28" y="28.28" width="7.30" height="121.32" fill="#1f77b4"/>
<rect x="613.28" y="27.29" width="7.30" height="0.99" fill="#9467bd"/>
<rect x="613.28" y="26.05" width="7.30" height="1.24" fill="#d62728"/>
<rect x="613.28" y="25.80" width="7.30" height="0.25" fill="#ff7f0e"/>
<text x="621.23" y="159.10" font-size="6.9" text-anchor="end" fill="#000" transform="rotate(-45 621.23 159.10)">PANC0203-2</text>
<rect x="623.54" y="28.28" width="7.30" height="121.32" fill="#1f77b4"/>
<rect x="623.54" y="27.29" width="7.30" height="0.99" fill="#9467bd"/>
<rect x="623.54" y="26.17" width="7.30" height="1.11" fill="#d62728"/>
<rect x="623.54" y="25.80" width="7.30" height="0.37" fill="#ff7f0e"/>
<text x="631.49" y="159.10" font-size="6.9" text-anchor="end" fill="#000" transform="rotate(-45 631.49 159.10)">Panc0327-1</text>
<rect x="633.80" y="28.28" width="7.30" height="121.32" fill="#1f77b4"/>
<rect x="633.80" y="27.29" width="7.30" height="0.99" fill="#9467bd"/>
<rect x="633.80" y="26.17" width="7.30" height="1.11" fill="#d62728"/>
<rect x="633.80" y="25.80" width="7.30" height="0.37" fill="#ff7f0e"/>
<text x="641.75" y="159.10" font-size="6.9" text-anchor="end" fill="#000" transform="rotate(-45 641.75 159.10)">Panc0327-2</text>
<rect x="644.06" y="43.63" width="7.30" height="105.97" fill="#1f77b4"/>
<rect x="644.06" y="41.77" width="7.30" height="1.86" fill="#9467bd"/>
<rect x="644.06" y="37.44" width="7.30" height="4.33" fill="#d62728"/>
<rect x="644.06" y="25.80" width="7.30" height="11.64" fill="#ff7f0e"/>
<text x="652.01" y="159.10" font-size="6.9" text-anchor="end" fill="#000" transform="rotate(-45 652.01 159.10)">PANC1005-1</text>
<rect x="654.32" y="41.77" width="7.30" height="107.83" fill="#1f77b4"/>
<rect x="654.32" y="39.91" width="7.30" height="1.86" fill="#9467bd"/>
<rect x="654.32" y="35.46" width="7.30" height="4.46" fill="#d62728"/>
<rect x="654.32" y="25.80" width="7.30" height="9.66" fill="#ff7f0e"/>
<text x="662.27" y="159.10" font-size="6.9" text-anchor="end" fill="#000" transform="rotate(-45 662.27 159.10)">PANC1005-2</text>
<rect x="664.58" y="28.28" width="7.30" height="121.32" fill="#1f77b4"/>
<rect x="664.58" y="26.91" width="7.30" height="1.36" fill="#9467bd"/>
<rect x="664.58" y="26.30" width="7.30" height="0.62" fill="#d62728"/>
<rect x="664.58" y="25.80" width="7.30" height="0.50" fill="#2ca02c"/>
<text x="672.53" y="159.10" font-size="6.9" text-anchor="end" fill="#000" transform="rotate(-45 672.53 159.10)">SW1990-1</text>
<rect x="674.84" y="28.28" width="7.30" height="121.32" fill="#1f77b4"/>
<rect x="674.84" y="26.91" width="7.30" height="1.36" fill="#9467bd"/>
<rect x="674.84" y="26.30" width="7.30" height="0.62" fill="#d62728"/>
<rect x="674.84" y="25.80" width="7.30" height="0.50" fill="#2ca02c"/>
<text x="682.79" y="159.10" font-size="6.9" text-anchor="end" fill="#000" transform="rotate(-45 682.79 159.10)">SW1990-2</text>
<rect x="512.90" y="5.90" width="4.20" height="4.00" fill="#ff7f0e"/>
<text x="519.50" y="10.00" font-size="6.9" text-anchor="start" fill="#000">Mycoplasmatota</text>
<rect x="573.00" y="5.90" width="4.20" height="4.00" fill="#2ca02c"/>
<text x="579.60" y="10.00" font-size="6.9" text-anchor="start" fill="#000">Viruses</text>
<rect x="605.70" y="5.90" width="4.20" height="4.00" fill="#1f77b4"/>
<text x="612.30" y="10.00" font-size="6.9" text-anchor="start" fill="#000">Homo Sapien</text>
<rect x="512.60" y="13.90" width="4.20" height="4.00" fill="#d62728"/>
<text x="519.20" y="18.00" font-size="6.9" text-anchor="start" fill="#000">others</text>
<rect x="541.00" y="13.90" width="4.20" height="4.00" fill="#9467bd"/>
<text x="547.60" y="18.00" font-size="6.9" text-anchor="start" fill="#000">unclassified</text>
<rect x="477.80" y="22.50" width="206.80" height="129.60" fill="none" stroke="#2e2e2e" stroke-width="1.25"/>
<line x1="475.40" y1="149.60" x2="477.80" y2="149.60" stroke="#262626" stroke-width="1.0"/>
<text x="474.60" y="152.12" font-size="7.0" text-anchor="end" fill="#000">0</text>
<line x1="475.40" y1="118.65" x2="477.80" y2="118.65" stroke="#262626" stroke-width="1.0"/>
<text x="474.60" y="121.17" font-size="7.0" text-anchor="end" fill="#000">25</text>
<line x1="475.40" y1="87.70" x2="477.80" y2="87.70" stroke="#262626" stroke-width="1.0"/>
<text x="474.60" y="90.22" font-size="7.0" text-anchor="end" fill="#000">50</text>
<line x1="475.40" y1="56.75" x2="477.80" y2="56.75" stroke="#262626" stroke-width="1.0"/>
<text x="474.60" y="59.27" font-size="7.0" text-anchor="end" fill="#000">75</text>
<line x1="475.40" y1="25.80" x2="477.80" y2="25.80" stroke="#262626" stroke-width="1.0"/>
<text x="474.60" y="28.32" font-size="7.0" text-anchor="end" fill="#000">100</text>
<text x="462.00" y="87.10" font-size="8.1" text-anchor="middle" fill="#000" transform="rotate(-90 462.00 87.10)">Percentage (%)</text>
<text x="452.00" y="12.00" font-size="16.5" text-anchor="start" fill="#000">c</text>
<rect x="29.10" y="267.42" width="5.80" height="121.58" fill="#1f78b4"/>
<rect x="29.10" y="266.19" width="5.80" height="1.22" fill="#a6cee3"/>
<rect x="29.10" y="264.42" width="5.80" height="1.77" fill="#fdbf6f"/>
<rect x="29.10" y="253.00" width="5.80" height="11.42" fill="#e31a1c"/>
<text x="34.50" y="401.20" font-size="6.7" text-anchor="end" fill="#000" transform="rotate(-60 34.50 401.20)">AsPC-1-1</text>
<rect x="38.68" y="266.06" width="5.80" height="122.94" fill="#1f78b4"/>
<rect x="38.68" y="265.24" width="5.80" height="0.82" fill="#a6cee3"/>
<rect x="38.68" y="263.06" width="5.80" height="2.18" fill="#fdbf6f"/>
<rect x="38.68" y="253.00" width="5.80" height="10.06" fill="#e31a1c"/>
<text x="44.08" y="401.20" font-size="6.7" text-anchor="end" fill="#000" transform="rotate(-60 44.08 401.20)">AsPC-1-2</text>
<rect x="48.26" y="258.98" width="5.80" height="130.02" fill="#1f78b4"/>
<rect x="48.26" y="257.90" width="5.80" height="1.09" fill="#fdbf6f"/>
<rect x="48.26" y="253.00" width="5.80" height="4.90" fill="#e31a1c"/>
<text x="53.66" y="401.20" font-size="6.7" text-anchor="end" fill="#000" transform="rotate(-60 53.66 401.20)">BXPC3-1</text>
<rect x="57.84" y="260.48" width="5.80" height="128.52" fill="#1f78b4"/>
<rect x="57.84" y="259.12" width="5.80" height="1.36" fill="#fdbf6f"/>
<rect x="57.84" y="253.00" width="5.80" height="6.12" fill="#e31a1c"/>
<text x="63.24" y="401.20" font-size="6.7" text-anchor="end" fill="#000" transform="rotate(-60 63.24 401.20)">BXPC3-2</text>
<rect x="67.42" y="257.35" width="5.80" height="131.65" fill="#1f78b4"/>
<rect x="67.42" y="255.72" width="5.80" height="1.63" fill="#fdbf6f"/>
<rect x="67.42" y="253.00" width="5.80" height="2.72" fill="#e31a1c"/>
<text x="72.82" y="401.20" font-size="6.7" text-anchor="end" fill="#000" transform="rotate(-60 72.82 401.20)">Capan-1-1</text>
<rect x="77.00" y="256.54" width="5.80" height="132.46" fill="#1f78b4"/>
<rect x="77.00" y="255.04" width="5.80" height="1.50" fill="#fdbf6f"/>
<rect x="77.00" y="253.00" width="5.80" height="2.04" fill="#e31a1c"/>
<text x="82.40" y="401.20" font-size="6.7" text-anchor="end" fill="#000" transform="rotate(-60 82.40 401.20)">Capan-1-2</text>
<rect x="86.58" y="256.81" width="5.80" height="132.19" fill="#1f78b4"/>
<rect x="86.58" y="255.72" width="5.80" height="1.09" fill="#fdbf6f"/>
<rect x="86.58" y="253.00" width="5.80" height="2.72" fill="#e31a1c"/>
<text x="91.98" y="401.20" font-size="6.7" text-anchor="end" fill="#000" transform="rotate(-60 91.98 401.20)">Capan-2-1</text>
<rect x="96.16" y="256.54" width="5.80" height="132.46" fill="#1f78b4"/>
<rect x="96.16" y="255.18" width="5.80" height="1.36" fill="#fdbf6f"/>
<rect x="96.16" y="253.00" width="5.80" height="2.18" fill="#e31a1c"/>
<text x="101.56" y="401.20" font-size="6.7" text-anchor="end" fill="#000" transform="rotate(-60 101.56 401.20)">Capan-2-2</text>
<rect x="105.74" y="257.49" width="5.80" height="131.51" fill="#1f78b4"/>
<rect x="105.74" y="255.99" width="5.80" height="1.50" fill="#fdbf6f"/>
<rect x="105.74" y="253.00" width="5.80" height="2.99" fill="#e31a1c"/>
<text x="111.14" y="401.20" font-size="6.7" text-anchor="end" fill="#000" transform="rotate(-60 111.14 401.20)">HuP-T4-1</text>
<rect x="115.32" y="258.03" width="5.80" height="130.97" fill="#1f78b4"/>
<rect x="115.32" y="255.86" width="5.80" height="2.18" fill="#fdbf6f"/>
<rect x="115.32" y="253.00" width="5.80" height="2.86" fill="#e31a1c"/>
<text x="120.72" y="401.20" font-size="6.7" text-anchor="end" fill="#000" transform="rotate(-60 120.72 401.20)">HuP-T4-2</text>
<rect x="124.90" y="256.67" width="5.80" height="132.33" fill="#1f78b4"/>
<rect x="124.90" y="255.58" width="5.80" height="1.09" fill="#fdbf6f"/>
<rect x="124.90" y="253.00" width="5.80" height="2.58" fill="#e31a1c"/>
<text x="130.30" y="401.20" font-size="6.7" text-anchor="end" fill="#000" transform="rotate(-60 130.30 401.20)">Mia-PaCa-2-1</text>
<rect x="134.48" y="256.67" width="5.80" height="132.33" fill="#1f78b4"/>
<rect x="134.48" y="255.58" width="5.80" height="1.09" fill="#fdbf6f"/>
<rect x="134.48" y="253.00" width="5.80" height="2.58" fill="#e31a1c"/>
<text x="139.88" y="401.20" font-size="6.7" text-anchor="end" fill="#000" transform="rotate(-60 139.88 401.20)">Mia-PaCa-2-2</text>
<rect x="144.06" y="260.75" width="5.80" height="128.25" fill="#1f78b4"/>
<rect x="144.06" y="259.26" width="5.80" height="1.50" fill="#fdbf6f"/>
<rect x="144.06" y="253.00" width="5.80" height="6.26" fill="#e31a1c"/>
<text x="149.46" y="401.20" font-size="6.7" text-anchor="end" fill="#000" transform="rotate(-60 149.46 401.20)">PANC0203-1</text>
<rect x="153.64" y="259.80" width="5.80" height="129.20" fill="#1f78b4"/>
<rect x="153.64" y="258.58" width="5.80" height="1.22" fill="#fdbf6f"/>
<rect x="153.64" y="253.00" width="5.80" height="5.58" fill="#e31a1c"/>
<text x="159.04" y="401.20" font-size="6.7" text-anchor="end" fill="#000" transform="rotate(-60 159.04 401.20)">PANC0203-2</text>
<rect x="163.22" y="260.75" width="5.80" height="128.25" fill="#1f78b4"/>
<rect x="163.22" y="258.85" width="5.80" height="1.90" fill="#fdbf6f"/>
<rect x="163.22" y="253.00" width="5.80" height="5.85" fill="#e31a1c"/>
<text x="168.62" y="401.20" font-size="6.7" text-anchor="end" fill="#000" transform="rotate(-60 168.62 401.20)">Panc0327-1</text>
<rect x="172.80" y="260.34" width="5.80" height="128.66" fill="#1f78b4"/>
<rect x="172.80" y="258.58" width="5.80" height="1.77" fill="#fdbf6f"/>
<rect x="172.80" y="253.00" width="5.80" height="5.58" fill="#e31a1c"/>
<text x="178.20" y="401.20" font-size="6.7" text-anchor="end" fill="#000" transform="rotate(-60 178.20 401.20)">Panc0327-2</text>
<rect x="182.38" y="262.66" width="5.80" height="126.34" fill="#1f78b4"/>
<rect x="182.38" y="261.16" width="5.80" height="1.50" fill="#fdbf6f"/>
<rect x="182.38" y="253.00" width="5.80" height="8.16" fill="#e31a1c"/>
<text x="187.78" y="401.20" font-size="6.7" text-anchor="end" fill="#000" transform="rotate(-60 187.78 401.20)">PANC1005-1</text>
<rect x="191.96" y="261.43" width="5.80" height="127.57" fill="#1f78b4"/>
<rect x="191.96" y="259.66" width="5.80" height="1.77" fill="#fdbf6f"/>
<rect x="191.96" y="253.00" width="5.80" height="6.66" fill="#e31a1c"/>
<text x="197.36" y="401.20" font-size="6.7" text-anchor="end" fill="#000" transform="rotate(-60 197.36 401.20)">PANC1005-2</text>
<rect x="201.54" y="260.34" width="5.80" height="128.66" fill="#1f78b4"/>
<rect x="201.54" y="258.58" width="5.80" height="1.77" fill="#fdbf6f"/>
<rect x="201.54" y="253.00" width="5.80" height="5.58" fill="#e31a1c"/>
<text x="206.94" y="401.20" font-size="6.7" text-anchor="end" fill="#000" transform="rotate(-60 206.94 401.20)">SW1990-1</text>
<rect x="211.12" y="259.66" width="5.80" height="129.34" fill="#1f78b4"/>
<rect x="211.12" y="257.76" width="5.80" height="1.90" fill="#fdbf6f"/>
<rect x="211.12" y="253.00" width="5.80" height="4.76" fill="#e31a1c"/>
<text x="216.52" y="401.20" font-size="6.7" text-anchor="end" fill="#000" transform="rotate(-60 216.52 401.20)">SW1990-2</text>
<rect x="50.10" y="229.00" width="4.20" height="4.10" fill="#e31a1c"/>
<text x="56.70" y="233.10" font-size="6.9" text-anchor="start" fill="#000">Length &lt;200 &amp; Q ≥7</text>
<rect x="123.30" y="229.00" width="4.20" height="4.10" fill="#fdbf6f"/>
<text x="129.90" y="233.10" font-size="6.9" text-anchor="start" fill="#000">Length ≥200 &amp; Q &lt;7</text>
<rect x="50.10" y="237.70" width="4.20" height="4.10" fill="#a6cee3"/>
<text x="56.70" y="241.80" font-size="6.9" text-anchor="start" fill="#000">Length ≥200 &amp; Q &lt;7</text>
<rect x="123.30" y="237.70" width="4.20" height="4.10" fill="#1f78b4"/>
<text x="129.90" y="241.80" font-size="6.9" text-anchor="start" fill="#000">Length ≥200 &amp; Q ≥7</text>
<rect x="26.00" y="246.30" width="194.80" height="149.90" fill="none" stroke="#2e2e2e" stroke-width="1.25"/>
<line x1="23.60" y1="389.00" x2="26.00" y2="389.00" stroke="#262626" stroke-width="1.0"/>
<text x="22.80" y="391.52" font-size="7.0" text-anchor="end" fill="#000">0</text>
<line x1="23.60" y1="355.00" x2="26.00" y2="355.00" stroke="#262626" stroke-width="1.0"/>
<text x="22.80" y="357.52" font-size="7.0" text-anchor="end" fill="#000">25</text>
<line x1="23.60" y1="321.00" x2="26.00" y2="321.00" stroke="#262626" stroke-width="1.0"/>
<text x="22.80" y="323.52" font-size="7.0" text-anchor="end" fill="#000">50</text>
<line x1="23.60" y1="287.00" x2="26.00" y2="287.00" stroke="#262626" stroke-width="1.0"/>
<text x="22.80" y="289.52" font-size="7.0" text-anchor="end" fill="#000">75</text>
<line x1="23.60" y1="253.00" x2="26.00" y2="253.00" stroke="#262626" stroke-width="1.0"/>
<text x="22.80" y="255.52" font-size="7.0" text-anchor="end" fill="#000">100</text>
<text x="7.40" y="324.80" font-size="8.2" text-anchor="middle" fill="#000" transform="rotate(-90 7.40 324.80)">Percentage (%)</text>
<text x="-0.90" y="232.00" font-size="16.5" text-anchor="start" fill="#000">d</text>
<g clip-path="url(#ce)">
<path d="M265.7,387.4 266.3,385.1 266.9,382.8 267.5,380.6 268.1,378.5 268.6,376.4 269.2,374.3 269.8,372.3 270.4,370.3 271.0,368.3 271.6,366.2 272.2,364.2 272.7,362.2 273.3,360.2 273.9,358.1 274.5,356.0 275.1,353.9 275.7,351.8 276.3,349.7 276.8,347.6 277.4,345.5 278.0,343.3 278.6,341.2 279.2,339.1 279.8,336.9 280.4,334.8 280.9,332.7 281.5,330.7 282.1,328.6 282.7,326.6 283.3,324.6 283.9,322.7 284.5,320.8 285.1,319.0 285.6,317.3 286.2,315.6 286.8,314.0 287.4,312.4 288.0,311.0 288.6,309.6 289.2,308.3 289.7,307.2 290.3,306.1 290.9,305.2 291.5,304.3 292.1,303.6 292.7,303.0 293.3,302.5 293.8,302.1 294.4,301.9 295.0,301.8 295.6,301.8 296.2,301.9 296.8,302.1 297.4,302.4 297.9,302.8 298.5,303.4 299.1,304.0 299.7,304.7 300.3,305.6 300.9,306.5 301.5,307.5 302.0,308.6 302.6,309.8 303.2,311.1 303.8,312.5 304.4,313.9 305.0,315.4 305.6,316.9 306.1,318.6 306.7,320.2 307.3,322.0 307.9,323.8 308.5,325.6 309.1,327.4 309.7,329.3 310.2,331.2 310.8,333.1 311.4,335.1 312.0,337.0 312.6,339.0 313.2,341.0 313.8,342.9 314.4,344.9 314.9,346.8 315.5,348.7 316.1,350.7 316.7,352.6 317.3,354.4 317.9,356.3 318.5,358.1 319.0,359.8 319.6,361.6 320.2,363.3 320.8,364.9 321.4,366.6 322.0,368.1 322.6,369.7 323.1,371.2 323.7,372.6 324.3,374.0 324.9,375.3 325.5,376.6 326.1,377.9 326.7,379.1 327.2,380.2 327.8,381.4 328.4,382.4 329.0,383.4 329.6,384.4 330.2,385.3 330.8,386.2 331.3,387.0 331.9,387.8 332.5,388.6 333.1,389.3 333.7,389.9 334.3,390.6 334.9,391.2 335.4,391.7 336.0,392.3 336.6,392.8 337.2,393.2 337.8,393.7 338.4,394.1 339.0,394.5 339.5,394.8 340.1,395.1 340.7,395.4 341.3,395.7 341.9,396.0 342.5,396.2 343.1,396.5 343.7,396.7 344.2,396.9 344.8,397.1 345.4,397.2 346.0,397.4 346.6,397.5 347.2,397.6 347.8,397.8 348.3,397.9 348.9,398.0 349.5,398.1 350.1,398.1 350.7,398.2 351.3,398.3 351.9,398.3 352.4,398.4 353.0,398.5 353.6,398.5 356.5,398.7 359.5,398.8 362.4,398.8 365.3,398.9 368.3,398.9 371.2,398.9 374.1,398.9 377.1,398.9 380.0,398.9 382.9,398.9 385.8,398.9 388.8,398.9 391.7,398.9 394.6,398.9 397.6,398.9 400.5,398.9 403.4,398.9 406.4,398.9 409.3,398.9 412.2,398.9 415.1,398.9 418.1,398.9 421.0,398.9 423.9,398.9" fill="none" stroke="#d62728" stroke-width="1.35" stroke-linejoin="round"/>
<path d="M265.7,382.9 266.3,379.8 266.9,376.8 267.5,374.0 268.1,371.3 268.6,368.7 269.2,366.2 269.8,363.8 270.4,361.4 271.0,359.0 271.6,356.8 272.2,354.5 272.7,352.2 273.3,350.0 273.9,347.8 274.5,345.6 275.1,343.5 275.7,341.3 276.3,339.2 276.8,337.1 277.4,335.0 278.0,333.0 278.6,331.0 279.2,329.0 279.8,327.1 280.4,325.2 280.9,323.3 281.5,321.6 282.1,319.8 282.7,318.2 283.3,316.6 283.9,315.1 284.5,313.7 285.1,312.4 285.6,311.2 286.2,310.1 286.8,309.0 287.4,308.1 288.0,307.3 288.6,306.6 289.2,306.0 289.7,305.5 290.3,305.2 290.9,304.9 291.5,304.8 292.1,304.8 292.7,304.9 293.3,305.1 293.8,305.3 294.4,305.7 295.0,306.1 295.6,306.6 296.2,307.2 296.8,307.9 297.4,308.6 297.9,309.4 298.5,310.3 299.1,311.3 299.7,312.3 300.3,313.4 300.9,314.6 301.5,315.8 302.0,317.1 302.6,318.5 303.2,319.9 303.8,321.3 304.4,322.8 305.0,324.3 305.6,325.9 306.1,327.5 306.7,329.1 307.3,330.7 307.9,332.4 308.5,334.1 309.1,335.8 309.7,337.5 310.2,339.2 310.8,341.0 311.4,342.7 312.0,344.4 312.6,346.1 313.2,347.8 313.8,349.6 314.4,351.2 314.9,352.9 315.5,354.6 316.1,356.2 316.7,357.8 317.3,359.4 317.9,361.0 318.5,362.5 319.0,364.0 319.6,365.5 320.2,366.9 320.8,368.3 321.4,369.7 322.0,371.1 322.6,372.3 323.1,373.6 323.7,374.8 324.3,376.0 324.9,377.2 325.5,378.3 326.1,379.3 326.7,380.4 327.2,381.4 327.8,382.3 328.4,383.2 329.0,384.1 329.6,385.0 330.2,385.8 330.8,386.5 331.3,387.3 331.9,388.0 332.5,388.7 333.1,389.3 333.7,389.9 334.3,390.5 334.9,391.0 335.4,391.5 336.0,392.0 336.6,392.5 337.2,392.9 337.8,393.3 338.4,393.7 339.0,394.1 339.5,394.4 340.1,394.8 340.7,395.1 341.3,395.4 341.9,395.6 342.5,395.9 343.1,396.1 343.7,396.3 344.2,396.5 344.8,396.7 345.4,396.9 346.0,397.0 346.6,397.2 347.2,397.3 347.8,397.5 348.3,397.6 348.9,397.7 349.5,397.8 350.1,397.9 350.7,398.0 351.3,398.1 351.9,398.1 352.4,398.2 353.0,398.3 353.6,398.3 356.5,398.6 359.5,398.7 362.4,398.8 365.3,398.8 368.3,398.9 371.2,398.9 374.1,398.9 377.1,398.9 380.0,398.9 382.9,398.9 385.8,398.9 388.8,398.9 391.7,398.9 394.6,398.9 397.6,398.9 400.5,398.9 403.4,398.9 406.4,398.9 409.3,398.9 412.2,398.9 415.1,398.9 418.1,398.9 421.0,398.9 423.9,398.9" fill="none" stroke="#ff9896" stroke-width="1.35" stroke-linejoin="round"/>
<path d="M265.7,393.3 266.3,392.0 266.9,390.7 267.5,389.5 268.1,388.2 268.6,386.9 269.2,385.5 269.8,384.2 270.4,382.8 271.0,381.3 271.6,379.8 272.2,378.3 272.7,376.7 273.3,375.0 273.9,373.3 274.5,371.5 275.1,369.7 275.7,367.7 276.3,365.8 276.8,363.7 277.4,361.6 278.0,359.4 278.6,357.1 279.2,354.8 279.8,352.4 280.4,350.0 280.9,347.5 281.5,344.9 282.1,342.3 282.7,339.6 283.3,336.9 283.9,334.1 284.5,331.3 285.1,328.5 285.6,325.7 286.2,322.8 286.8,319.9 287.4,317.1 288.0,314.2 288.6,311.3 289.2,308.5 289.7,305.7 290.3,302.9 290.9,300.2 291.5,297.5 292.1,294.9 292.7,292.3 293.3,289.9 293.8,287.5 294.4,285.2 295.0,283.0 295.6,280.9 296.2,278.9 296.8,277.1 297.4,275.3 297.9,273.7 298.5,272.3 299.1,271.0 299.7,269.9 300.3,268.9 300.9,268.0 301.5,267.4 302.0,266.9 302.6,266.5 303.2,266.3 303.8,266.4 304.4,266.7 305.0,267.2 305.6,268.1 306.1,269.2 306.7,270.6 307.3,272.3 307.9,274.2 308.5,276.3 309.1,278.7 309.7,281.2 310.2,284.0 310.8,286.9 311.4,290.0 312.0,293.3 312.6,296.7 313.2,300.1 313.8,303.7 314.4,307.3 314.9,311.0 315.5,314.8 316.1,318.5 316.7,322.2 317.3,325.9 317.9,329.6 318.5,333.3 319.0,336.9 319.6,340.4 320.2,343.8 320.8,347.2 321.4,350.4 322.0,353.6 322.6,356.6 323.1,359.5 323.7,362.3 324.3,365.0 324.9,367.5 325.5,369.9 326.1,372.2 326.7,374.4 327.2,376.4 327.8,378.3 328.4,380.1 329.0,381.8 329.6,383.3 330.2,384.8 330.8,386.1 331.3,387.4 331.9,388.5 332.5,389.5 333.1,390.5 333.7,391.4 334.3,392.2 334.9,392.9 335.4,393.6 336.0,394.2 336.6,394.7 337.2,395.2 337.8,395.6 338.4,396.0 339.0,396.4 339.5,396.7 340.1,397.0 340.7,397.2 341.3,397.4 341.9,397.6 342.5,397.8 343.1,397.9 343.7,398.1 344.2,398.2 344.8,398.3 345.4,398.4 346.0,398.4 346.6,398.5 347.2,398.6 347.8,398.6 348.3,398.7 348.9,398.7 349.5,398.7 350.1,398.8 350.7,398.8 351.3,398.8 351.9,398.8 352.4,398.8 353.0,398.8 353.6,398.9 356.5,398.9 359.5,398.9 362.4,398.9 365.3,398.9 368.3,398.9 371.2,398.9 374.1,398.9 377.1,398.9 380.0,398.9 382.9,398.9 385.8,398.9 388.8,398.9 391.7,398.9 394.6,398.9 397.6,398.9 400.5,398.9 403.4,398.9 406.4,398.9 409.3,398.9 412.2,398.9 415.1,398.9 418.1,398.9 421.0,398.9 423.9,398.9" fill="none" stroke="#9467bd" stroke-width="1.35" stroke-linejoin="round"/>
<path d="M265.7,393.5 266.3,392.2 266.9,391.0 267.5,389.7 268.1,388.5 268.6,387.2 269.2,385.9 269.8,384.6 270.4,383.3 271.0,381.9 271.6,380.4 272.2,378.9 272.7,377.4 273.3,375.7 273.9,374.1 274.5,372.3 275.1,370.6 275.7,368.7 276.3,366.8 276.8,364.8 277.4,362.7 278.0,360.6 278.6,358.4 279.2,356.2 279.8,353.8 280.4,351.5 280.9,349.0 281.5,346.5 282.1,344.0 282.7,341.4 283.3,338.8 283.9,336.1 284.5,333.4 285.1,330.7 285.6,327.9 286.2,325.1 286.8,322.3 287.4,319.6 288.0,316.8 288.6,314.0 289.2,311.3 289.7,308.5 290.3,305.8 290.9,303.2 291.5,300.6 292.1,298.1 292.7,295.6 293.3,293.2 293.8,290.9 294.4,288.6 295.0,286.5 295.6,284.5 296.2,282.6 296.8,280.8 297.4,279.1 297.9,277.6 298.5,276.2 299.1,274.9 299.7,273.8 300.3,272.8 300.9,272.0 301.5,271.4 302.0,270.9 302.6,270.6 303.2,270.4 303.8,270.4 304.4,270.7 305.0,271.2 305.6,272.1 306.1,273.2 306.7,274.5 307.3,276.1 307.9,278.0 308.5,280.0 309.1,282.3 309.7,284.8 310.2,287.5 310.8,290.4 311.4,293.4 312.0,296.5 312.6,299.8 313.2,303.2 313.8,306.6 314.4,310.1 314.9,313.7 315.5,317.3 316.1,320.9 316.7,324.6 317.3,328.2 317.9,331.8 318.5,335.3 319.0,338.8 319.6,342.2 320.2,345.5 320.8,348.8 321.4,351.9 322.0,355.0 322.6,357.9 323.1,360.7 323.7,363.4 324.3,366.0 324.9,368.5 325.5,370.8 326.1,373.0 326.7,375.1 327.2,377.1 327.8,379.0 328.4,380.7 329.0,382.3 329.6,383.8 330.2,385.2 330.8,386.5 331.3,387.7 331.9,388.8 332.5,389.8 333.1,390.8 333.7,391.6 334.3,392.4 334.9,393.1 335.4,393.7 336.0,394.3 336.6,394.8 337.2,395.3 337.8,395.7 338.4,396.1 339.0,396.4 339.5,396.8 340.1,397.0 340.7,397.3 341.3,397.5 341.9,397.7 342.5,397.8 343.1,398.0 343.7,398.1 344.2,398.2 344.8,398.3 345.4,398.4 346.0,398.5 346.6,398.5 347.2,398.6 347.8,398.6 348.3,398.7 348.9,398.7 349.5,398.7 350.1,398.8 350.7,398.8 351.3,398.8 351.9,398.8 352.4,398.8 353.0,398.8 353.6,398.9 356.5,398.9 359.5,398.9 362.4,398.9 365.3,398.9 368.3,398.9 371.2,398.9 374.1,398.9 377.1,398.9 380.0,398.9 382.9,398.9 385.8,398.9 388.8,398.9 391.7,398.9 394.6,398.9 397.6,398.9 400.5,398.9 403.4,398.9 406.4,398.9 409.3,398.9 412.2,398.9 415.1,398.9 418.1,398.9 421.0,398.9 423.9,398.9" fill="none" stroke="#c5b0d5" stroke-width="1.35" stroke-linejoin="round"/>
<path d="M265.7,380.3 266.3,376.6 266.9,373.1 267.5,369.8 268.1,366.6 268.6,363.6 269.2,360.7 269.8,357.8 270.4,355.0 271.0,352.3 271.6,349.6 272.2,346.9 272.7,344.3 273.3,341.7 273.9,339.1 274.5,336.5 275.1,334.0 275.7,331.5 276.3,329.0 276.8,326.5 277.4,324.1 278.0,321.7 278.6,319.4 279.2,317.1 279.8,314.8 280.4,312.7 280.9,310.6 281.5,308.5 282.1,306.6 282.7,304.7 283.3,303.0 283.9,301.3 284.5,299.7 285.1,298.3 285.6,296.9 286.2,295.7 286.8,294.6 287.4,293.6 288.0,292.8 288.6,292.1 289.2,291.5 289.7,291.1 290.3,290.8 290.9,290.6 291.5,290.6 292.1,290.7 292.7,291.0 293.3,291.3 293.8,291.7 294.4,292.3 295.0,292.9 295.6,293.6 296.2,294.5 296.8,295.4 297.4,296.5 297.9,297.6 298.5,298.8 299.1,300.1 299.7,301.5 300.3,303.0 300.9,304.5 301.5,306.1 302.0,307.8 302.6,309.5 303.2,311.3 303.8,313.1 304.4,315.0 305.0,316.9 305.6,318.9 306.1,320.9 306.7,322.9 307.3,324.9 307.9,327.0 308.5,329.1 309.1,331.1 309.7,333.2 310.2,335.3 310.8,337.4 311.4,339.5 312.0,341.5 312.6,343.6 313.2,345.6 313.8,347.6 314.4,349.6 314.9,351.5 315.5,353.4 316.1,355.3 316.7,357.2 317.3,359.0 317.9,360.7 318.5,362.5 319.0,364.2 319.6,365.8 320.2,367.4 320.8,368.9 321.4,370.4 322.0,371.9 322.6,373.3 323.1,374.7 323.7,376.0 324.3,377.2 324.9,378.4 325.5,379.6 326.1,380.7 326.7,381.8 327.2,382.8 327.8,383.8 328.4,384.7 329.0,385.6 329.6,386.4 330.2,387.2 330.8,388.0 331.3,388.7 331.9,389.4 332.5,390.1 333.1,390.7 333.7,391.2 334.3,391.8 334.9,392.3 335.4,392.8 336.0,393.2 336.6,393.7 337.2,394.0 337.8,394.4 338.4,394.8 339.0,395.1 339.5,395.4 340.1,395.7 340.7,395.9 341.3,396.2 341.9,396.4 342.5,396.6 343.1,396.8 343.7,397.0 344.2,397.2 344.8,397.3 345.4,397.4 346.0,397.6 346.6,397.7 347.2,397.8 347.8,397.9 348.3,398.0 348.9,398.1 349.5,398.2 350.1,398.2 350.7,398.3 351.3,398.4 351.9,398.4 352.4,398.5 353.0,398.5 353.6,398.5 356.5,398.7 359.5,398.8 362.4,398.8 365.3,398.9 368.3,398.9 371.2,398.9 374.1,398.9 377.1,398.9 380.0,398.9 382.9,398.9 385.8,398.9 388.8,398.9 391.7,398.9 394.6,398.9 397.6,398.9 400.5,398.9 403.4,398.9 406.4,398.9 409.3,398.9 412.2,398.9 415.1,398.9 418.1,398.9 421.0,398.9 423.9,398.9" fill="none" stroke="#8c564b" stroke-width="1.35" stroke-linejoin="round"/>
<path d="M265.7,380.8 266.3,377.2 266.9,373.8 267.5,370.6 268.1,367.6 268.6,364.6 269.2,361.7 269.8,359.0 270.4,356.2 271.0,353.6 271.6,351.0 272.2,348.4 272.7,345.8 273.3,343.3 273.9,340.8 274.5,338.3 275.1,335.8 275.7,333.3 276.3,330.9 276.8,328.5 277.4,326.2 278.0,323.9 278.6,321.6 279.2,319.4 279.8,317.2 280.4,315.1 280.9,313.1 281.5,311.1 282.1,309.2 282.7,307.4 283.3,305.6 283.9,304.0 284.5,302.5 285.1,301.1 285.6,299.8 286.2,298.6 286.8,297.5 287.4,296.6 288.0,295.7 288.6,295.1 289.2,294.5 289.7,294.1 290.3,293.8 290.9,293.7 291.5,293.7 292.1,293.8 292.7,294.0 293.3,294.3 293.8,294.7 294.4,295.2 295.0,295.9 295.6,296.6 296.2,297.4 296.8,298.3 297.4,299.3 297.9,300.4 298.5,301.6 299.1,302.9 299.7,304.2 300.3,305.7 300.9,307.1 301.5,308.7 302.0,310.3 302.6,312.0 303.2,313.7 303.8,315.5 304.4,317.3 305.0,319.2 305.6,321.1 306.1,323.1 306.7,325.0 307.3,327.0 307.9,329.0 308.5,331.0 309.1,333.0 309.7,335.1 310.2,337.1 310.8,339.1 311.4,341.1 312.0,343.1 312.6,345.1 313.2,347.1 313.8,349.0 314.4,351.0 314.9,352.8 315.5,354.7 316.1,356.5 316.7,358.3 317.3,360.1 317.9,361.8 318.5,363.5 319.0,365.1 319.6,366.7 320.2,368.3 320.8,369.8 321.4,371.2 322.0,372.7 322.6,374.0 323.1,375.3 323.7,376.6 324.3,377.8 324.9,379.0 325.5,380.1 326.1,381.2 326.7,382.3 327.2,383.3 327.8,384.2 328.4,385.1 329.0,386.0 329.6,386.8 330.2,387.6 330.8,388.3 331.3,389.0 331.9,389.7 332.5,390.3 333.1,390.9 333.7,391.5 334.3,392.0 334.9,392.5 335.4,392.9 336.0,393.4 336.6,393.8 337.2,394.2 337.8,394.5 338.4,394.9 339.0,395.2 339.5,395.5 340.1,395.8 340.7,396.0 341.3,396.3 341.9,396.5 342.5,396.7 343.1,396.9 343.7,397.0 344.2,397.2 344.8,397.4 345.4,397.5 346.0,397.6 346.6,397.7 347.2,397.8 347.8,397.9 348.3,398.0 348.9,398.1 349.5,398.2 350.1,398.3 350.7,398.3 351.3,398.4 351.9,398.4 352.4,398.5 353.0,398.5 353.6,398.6 356.5,398.7 359.5,398.8 362.4,398.8 365.3,398.9 368.3,398.9 371.2,398.9 374.1,398.9 377.1,398.9 380.0,398.9 382.9,398.9 385.8,398.9 388.8,398.9 391.7,398.9 394.6,398.9 397.6,398.9 400.5,398.9 403.4,398.9 406.4,398.9 409.3,398.9 412.2,398.9 415.1,398.9 418.1,398.9 421.0,398.9 423.9,398.9" fill="none" stroke="#c49c94" stroke-width="1.35" stroke-linejoin="round"/>
<path d="M265.7,393.5 266.3,392.3 266.9,391.0 267.5,389.8 268.1,388.6 268.6,387.3 269.2,386.0 269.8,384.7 270.4,383.4 271.0,382.0 271.6,380.6 272.2,379.1 272.7,377.5 273.3,375.9 273.9,374.3 274.5,372.6 275.1,370.8 275.7,368.9 276.3,367.0 276.8,365.0 277.4,363.0 278.0,360.9 278.6,358.7 279.2,356.5 279.8,354.2 280.4,351.8 280.9,349.4 281.5,346.9 282.1,344.4 282.7,341.9 283.3,339.2 283.9,336.6 284.5,333.9 285.1,331.2 285.6,328.5 286.2,325.7 286.8,323.0 287.4,320.2 288.0,317.4 288.6,314.7 289.2,311.9 289.7,309.2 290.3,306.6 290.9,303.9 291.5,301.4 292.1,298.8 292.7,296.4 293.3,294.0 293.8,291.7 294.4,289.5 295.0,287.4 295.6,285.4 296.2,283.5 296.8,281.7 297.4,280.0 297.9,278.5 298.5,277.1 299.1,275.9 299.7,274.8 300.3,273.8 300.9,273.0 301.5,272.4 302.0,271.9 302.6,271.6 303.2,271.4 303.8,271.4 304.4,271.7 305.0,272.2 305.6,273.1 306.1,274.2 306.7,275.5 307.3,277.1 307.9,278.9 308.5,281.0 309.1,283.2 309.7,285.7 310.2,288.4 310.8,291.2 311.4,294.2 312.0,297.3 312.6,300.6 313.2,303.9 313.8,307.3 314.4,310.8 314.9,314.4 315.5,318.0 316.1,321.6 316.7,325.2 317.3,328.7 317.9,332.3 318.5,335.8 319.0,339.2 319.6,342.6 320.2,345.9 320.8,349.2 321.4,352.3 322.0,355.3 322.6,358.2 323.1,361.0 323.7,363.7 324.3,366.3 324.9,368.7 325.5,371.0 326.1,373.2 326.7,375.3 327.2,377.3 327.8,379.1 328.4,380.8 329.0,382.4 329.6,383.9 330.2,385.3 330.8,386.6 331.3,387.8 331.9,388.9 332.5,389.9 333.1,390.8 333.7,391.7 334.3,392.4 334.9,393.1 335.4,393.8 336.0,394.3 336.6,394.9 337.2,395.3 337.8,395.8 338.4,396.1 339.0,396.5 339.5,396.8 340.1,397.0 340.7,397.3 341.3,397.5 341.9,397.7 342.5,397.8 343.1,398.0 343.7,398.1 344.2,398.2 344.8,398.3 345.4,398.4 346.0,398.5 346.6,398.5 347.2,398.6 347.8,398.6 348.3,398.7 348.9,398.7 349.5,398.7 350.1,398.8 350.7,398.8 351.3,398.8 351.9,398.8 352.4,398.8 353.0,398.8 353.6,398.9 356.5,398.9 359.5,398.9 362.4,398.9 365.3,398.9 368.3,398.9 371.2,398.9 374.1,398.9 377.1,398.9 380.0,398.9 382.9,398.9 385.8,398.9 388.8,398.9 391.7,398.9 394.6,398.9 397.6,398.9 400.5,398.9 403.4,398.9 406.4,398.9 409.3,398.9 412.2,398.9 415.1,398.9 418.1,398.9 421.0,398.9 423.9,398.9" fill="none" stroke="#e377c2" stroke-width="1.35" stroke-linejoin="round"/>
<path d="M265.7,393.6 266.3,392.4 266.9,391.2 267.5,390.0 268.1,388.7 268.6,387.5 269.2,386.2 269.8,385.0 270.4,383.6 271.0,382.3 271.6,380.8 272.2,379.4 272.7,377.9 273.3,376.3 273.9,374.7 274.5,373.0 275.1,371.2 275.7,369.4 276.3,367.5 276.8,365.6 277.4,363.6 278.0,361.5 278.6,359.4 279.2,357.2 279.8,354.9 280.4,352.6 280.9,350.2 281.5,347.8 282.1,345.3 282.7,342.8 283.3,340.2 283.9,337.6 284.5,334.9 285.1,332.3 285.6,329.6 286.2,326.9 286.8,324.2 287.4,321.4 288.0,318.7 288.6,316.0 289.2,313.3 289.7,310.7 290.3,308.0 290.9,305.5 291.5,302.9 292.1,300.4 292.7,298.0 293.3,295.7 293.8,293.4 294.4,291.2 295.0,289.2 295.6,287.2 296.2,285.3 296.8,283.6 297.4,281.9 297.9,280.4 298.5,279.1 299.1,277.8 299.7,276.7 300.3,275.8 300.9,275.0 301.5,274.4 302.0,273.9 302.6,273.6 303.2,273.4 303.8,273.4 304.4,273.7 305.0,274.3 305.6,275.1 306.1,276.1 306.7,277.5 307.3,279.0 307.9,280.8 308.5,282.8 309.1,285.1 309.7,287.5 310.2,290.1 310.8,292.9 311.4,295.9 312.0,298.9 312.6,302.1 313.2,305.4 313.8,308.8 314.4,312.2 314.9,315.7 315.5,319.3 316.1,322.8 316.7,326.3 317.3,329.8 317.9,333.3 318.5,336.8 319.0,340.2 319.6,343.5 320.2,346.8 320.8,349.9 321.4,353.0 322.0,356.0 322.6,358.9 323.1,361.6 323.7,364.3 324.3,366.8 324.9,369.2 325.5,371.5 326.1,373.6 326.7,375.7 327.2,377.6 327.8,379.4 328.4,381.1 329.0,382.7 329.6,384.2 330.2,385.5 330.8,386.8 331.3,388.0 331.9,389.0 332.5,390.0 333.1,390.9 333.7,391.8 334.3,392.5 334.9,393.2 335.4,393.8 336.0,394.4 336.6,394.9 337.2,395.4 337.8,395.8 338.4,396.2 339.0,396.5 339.5,396.8 340.1,397.1 340.7,397.3 341.3,397.5 341.9,397.7 342.5,397.8 343.1,398.0 343.7,398.1 344.2,398.2 344.8,398.3 345.4,398.4 346.0,398.5 346.6,398.5 347.2,398.6 347.8,398.6 348.3,398.7 348.9,398.7 349.5,398.7 350.1,398.8 350.7,398.8 351.3,398.8 351.9,398.8 352.4,398.8 353.0,398.8 353.6,398.9 356.5,398.9 359.5,398.9 362.4,398.9 365.3,398.9 368.3,398.9 371.2,398.9 374.1,398.9 377.1,398.9 380.0,398.9 382.9,398.9 385.8,398.9 388.8,398.9 391.7,398.9 394.6,398.9 397.6,398.9 400.5,398.9 403.4,398.9 406.4,398.9 409.3,398.9 412.2,398.9 415.1,398.9 418.1,398.9 421.0,398.9 423.9,398.9" fill="none" stroke="#f7b6d2" stroke-width="1.35" stroke-linejoin="round"/>
<path d="M265.7,379.3 266.3,375.4 266.9,371.7 267.5,368.2 268.1,364.8 268.6,361.6 269.2,358.5 269.8,355.5 270.4,352.6 271.0,349.7 271.6,346.8 272.2,344.0 272.7,341.2 273.3,338.5 273.9,335.7 274.5,333.0 275.1,330.3 275.7,327.7 276.3,325.0 276.8,322.5 277.4,319.9 278.0,317.4 278.6,314.9 279.2,312.5 279.8,310.1 280.4,307.8 280.9,305.6 281.5,303.5 282.1,301.4 282.7,299.4 283.3,297.6 283.9,295.8 284.5,294.2 285.1,292.6 285.6,291.2 286.2,289.9 286.8,288.7 287.4,287.7 288.0,286.8 288.6,286.1 289.2,285.5 289.7,285.0 290.3,284.7 290.9,284.6 291.5,284.6 292.1,284.7 292.7,284.9 293.3,285.2 293.8,285.7 294.4,286.3 295.0,287.0 295.6,287.7 296.2,288.6 296.8,289.6 297.4,290.7 297.9,291.9 298.5,293.2 299.1,294.6 299.7,296.0 300.3,297.6 300.9,299.2 301.5,300.9 302.0,302.7 302.6,304.5 303.2,306.4 303.8,308.3 304.4,310.3 305.0,312.3 305.6,314.4 306.1,316.5 306.7,318.6 307.3,320.8 307.9,323.0 308.5,325.1 309.1,327.3 309.7,329.5 310.2,331.7 310.8,333.9 311.4,336.1 312.0,338.3 312.6,340.5 313.2,342.6 313.8,344.7 314.4,346.8 314.9,348.9 315.5,350.9 316.1,352.9 316.7,354.8 317.3,356.7 317.9,358.6 318.5,360.4 319.0,362.2 319.6,363.9 320.2,365.6 320.8,367.3 321.4,368.9 322.0,370.4 322.6,371.9 323.1,373.3 323.7,374.7 324.3,376.0 324.9,377.3 325.5,378.5 326.1,379.7 326.7,380.8 327.2,381.9 327.8,382.9 328.4,383.9 329.0,384.8 329.6,385.7 330.2,386.6 330.8,387.4 331.3,388.2 331.9,388.9 332.5,389.6 333.1,390.2 333.7,390.8 334.3,391.4 334.9,391.9 335.4,392.4 336.0,392.9 336.6,393.4 337.2,393.8 337.8,394.2 338.4,394.5 339.0,394.9 339.5,395.2 340.1,395.5 340.7,395.8 341.3,396.0 341.9,396.3 342.5,396.5 343.1,396.7 343.7,396.9 344.2,397.1 344.8,397.2 345.4,397.4 346.0,397.5 346.6,397.6 347.2,397.7 347.8,397.9 348.3,397.9 348.9,398.0 349.5,398.1 350.1,398.2 350.7,398.3 351.3,398.3 351.9,398.4 352.4,398.4 353.0,398.5 353.6,398.5 356.5,398.7 359.5,398.8 362.4,398.8 365.3,398.9 368.3,398.9 371.2,398.9 374.1,398.9 377.1,398.9 380.0,398.9 382.9,398.9 385.8,398.9 388.8,398.9 391.7,398.9 394.6,398.9 397.6,398.9 400.5,398.9 403.4,398.9 406.4,398.9 409.3,398.9 412.2,398.9 415.1,398.9 418.1,398.9 421.0,398.9 423.9,398.9" fill="none" stroke="#7f7f7f" stroke-width="1.35" stroke-linejoin="round"/>
<path d="M265.7,379.6 266.3,375.8 266.9,372.2 267.5,368.7 268.1,365.4 268.6,362.3 269.2,359.2 269.8,356.3 270.4,353.4 271.0,350.5 271.6,347.7 272.2,345.0 272.7,342.2 273.3,339.5 273.9,336.8 274.5,334.2 275.1,331.5 275.7,328.9 276.3,326.4 276.8,323.8 277.4,321.3 278.0,318.8 278.6,316.4 279.2,314.0 279.8,311.7 280.4,309.5 280.9,307.3 281.5,305.2 282.1,303.1 282.7,301.2 283.3,299.4 283.9,297.6 284.5,296.0 285.1,294.5 285.6,293.1 286.2,291.8 286.8,290.7 287.4,289.7 288.0,288.8 288.6,288.1 289.2,287.5 289.7,287.0 290.3,286.7 290.9,286.6 291.5,286.6 292.1,286.7 292.7,286.9 293.3,287.3 293.8,287.7 294.4,288.3 295.0,288.9 295.6,289.7 296.2,290.6 296.8,291.6 297.4,292.6 297.9,293.8 298.5,295.1 299.1,296.4 299.7,297.9 300.3,299.4 300.9,301.0 301.5,302.6 302.0,304.4 302.6,306.2 303.2,308.0 303.8,309.9 304.4,311.9 305.0,313.9 305.6,315.9 306.1,318.0 306.7,320.0 307.3,322.2 307.9,324.3 308.5,326.4 309.1,328.6 309.7,330.8 310.2,332.9 310.8,335.1 311.4,337.2 312.0,339.4 312.6,341.5 313.2,343.6 313.8,345.7 314.4,347.7 314.9,349.7 315.5,351.7 316.1,353.7 316.7,355.6 317.3,357.5 317.9,359.3 318.5,361.1 319.0,362.9 319.6,364.6 320.2,366.2 320.8,367.8 321.4,369.4 322.0,370.9 322.6,372.3 323.1,373.8 323.7,375.1 324.3,376.4 324.9,377.7 325.5,378.9 326.1,380.0 326.7,381.1 327.2,382.2 327.8,383.2 328.4,384.2 329.0,385.1 329.6,386.0 330.2,386.8 330.8,387.6 331.3,388.3 331.9,389.1 332.5,389.7 333.1,390.4 333.7,391.0 334.3,391.5 334.9,392.0 335.4,392.5 336.0,393.0 336.6,393.5 337.2,393.9 337.8,394.3 338.4,394.6 339.0,394.9 339.5,395.3 340.1,395.6 340.7,395.8 341.3,396.1 341.9,396.3 342.5,396.5 343.1,396.7 343.7,396.9 344.2,397.1 344.8,397.2 345.4,397.4 346.0,397.5 346.6,397.7 347.2,397.8 347.8,397.9 348.3,398.0 348.9,398.1 349.5,398.1 350.1,398.2 350.7,398.3 351.3,398.3 351.9,398.4 352.4,398.4 353.0,398.5 353.6,398.5 356.5,398.7 359.5,398.8 362.4,398.8 365.3,398.9 368.3,398.9 371.2,398.9 374.1,398.9 377.1,398.9 380.0,398.9 382.9,398.9 385.8,398.9 388.8,398.9 391.7,398.9 394.6,398.9 397.6,398.9 400.5,398.9 403.4,398.9 406.4,398.9 409.3,398.9 412.2,398.9 415.1,398.9 418.1,398.9 421.0,398.9 423.9,398.9" fill="none" stroke="#c7c7c7" stroke-width="1.35" stroke-linejoin="round"/>
<path d="M265.7,392.7 266.3,391.2 266.9,389.8 267.5,388.4 268.1,387.0 268.6,385.6 269.2,384.1 269.8,382.6 270.4,381.1 271.0,379.5 271.6,377.9 272.2,376.2 272.7,374.5 273.3,372.7 273.9,370.9 274.5,369.0 275.1,367.0 275.7,364.9 276.3,362.8 276.8,360.6 277.4,358.4 278.0,356.0 278.6,353.7 279.2,351.2 279.8,348.7 280.4,346.1 280.9,343.5 281.5,340.8 282.1,338.0 282.7,335.2 283.3,332.4 283.9,329.5 284.5,326.6 285.1,323.7 285.6,320.8 286.2,317.8 286.8,314.9 287.4,311.9 288.0,309.0 288.6,306.1 289.2,303.2 289.7,300.3 290.3,297.5 290.9,294.8 291.5,292.1 292.1,289.5 292.7,286.9 293.3,284.5 293.8,282.1 294.4,279.9 295.0,277.7 295.6,275.7 296.2,273.8 296.8,272.0 297.4,270.4 297.9,268.9 298.5,267.6 299.1,266.4 299.7,265.4 300.3,264.5 300.9,263.8 301.5,263.3 302.0,263.0 302.6,262.8 303.2,262.8 303.8,263.1 304.4,263.7 305.0,264.6 305.6,265.7 306.1,267.2 306.7,268.9 307.3,270.8 307.9,273.0 308.5,275.4 309.1,278.1 309.7,280.9 310.2,284.0 310.8,287.1 311.4,290.5 312.0,293.9 312.6,297.5 313.2,301.2 313.8,304.9 314.4,308.7 314.9,312.5 315.5,316.3 316.1,320.2 316.7,324.0 317.3,327.8 317.9,331.5 318.5,335.2 319.0,338.8 319.6,342.4 320.2,345.8 320.8,349.1 321.4,352.4 322.0,355.5 322.6,358.5 323.1,361.3 323.7,364.1 324.3,366.7 324.9,369.2 325.5,371.5 326.1,373.7 326.7,375.8 327.2,377.8 327.8,379.6 328.4,381.3 329.0,382.9 329.6,384.4 330.2,385.8 330.8,387.0 331.3,388.2 331.9,389.3 332.5,390.3 333.1,391.2 333.7,392.0 334.3,392.7 334.9,393.4 335.4,394.0 336.0,394.6 336.6,395.1 337.2,395.5 337.8,395.9 338.4,396.3 339.0,396.6 339.5,396.9 340.1,397.2 340.7,397.4 341.3,397.6 341.9,397.8 342.5,397.9 343.1,398.0 343.7,398.2 344.2,398.3 344.8,398.4 345.4,398.4 346.0,398.5 346.6,398.6 347.2,398.6 347.8,398.7 348.3,398.7 348.9,398.7 349.5,398.8 350.1,398.8 350.7,398.8 351.3,398.8 351.9,398.8 352.4,398.8 353.0,398.8 353.6,398.9 356.5,398.9 359.5,398.9 362.4,398.9 365.3,398.9 368.3,398.9 371.2,398.9 374.1,398.9 377.1,398.9 380.0,398.9 382.9,398.9 385.8,398.9 388.8,398.9 391.7,398.9 394.6,398.9 397.6,398.9 400.5,398.9 403.4,398.9 406.4,398.9 409.3,398.9 412.2,398.9 415.1,398.9 418.1,398.9 421.0,398.9 423.9,398.9" fill="none" stroke="#bcbd22" stroke-width="1.35" stroke-linejoin="round"/>
<path d="M265.7,392.9 266.3,391.5 266.9,390.1 267.5,388.8 268.1,387.4 268.6,386.0 269.2,384.6 269.8,383.2 270.4,381.7 271.0,380.2 271.6,378.6 272.2,377.0 272.7,375.3 273.3,373.6 273.9,371.8 274.5,370.0 275.1,368.1 275.7,366.1 276.3,364.0 276.8,361.9 277.4,359.7 278.0,357.5 278.6,355.2 279.2,352.8 279.8,350.4 280.4,347.9 280.9,345.3 281.5,342.7 282.1,340.1 282.7,337.4 283.3,334.6 283.9,331.9 284.5,329.1 285.1,326.2 285.6,323.4 286.2,320.5 286.8,317.7 287.4,314.8 288.0,312.0 288.6,309.2 289.2,306.4 289.7,303.6 290.3,300.9 290.9,298.3 291.5,295.7 292.1,293.1 292.7,290.7 293.3,288.3 293.8,286.0 294.4,283.8 295.0,281.8 295.6,279.8 296.2,278.0 296.8,276.3 297.4,274.7 297.9,273.3 298.5,272.0 299.1,270.8 299.7,269.9 300.3,269.0 300.9,268.4 301.5,267.9 302.0,267.5 302.6,267.4 303.2,267.4 303.8,267.7 304.4,268.2 305.0,269.1 305.6,270.2 306.1,271.6 306.7,273.2 307.3,275.1 307.9,277.2 308.5,279.6 309.1,282.1 309.7,284.9 310.2,287.8 310.8,290.9 311.4,294.1 312.0,297.4 312.6,300.9 313.2,304.4 313.8,308.0 314.4,311.7 314.9,315.4 315.5,319.1 316.1,322.8 316.7,326.5 317.3,330.2 317.9,333.8 318.5,337.3 319.0,340.8 319.6,344.3 320.2,347.6 320.8,350.8 321.4,353.9 322.0,356.9 322.6,359.8 323.1,362.6 323.7,365.2 324.3,367.8 324.9,370.2 325.5,372.4 326.1,374.6 326.7,376.6 327.2,378.5 327.8,380.3 328.4,381.9 329.0,383.5 329.6,384.9 330.2,386.2 330.8,387.4 331.3,388.6 331.9,389.6 332.5,390.6 333.1,391.4 333.7,392.2 334.3,392.9 334.9,393.6 335.4,394.2 336.0,394.7 336.6,395.2 337.2,395.7 337.8,396.0 338.4,396.4 339.0,396.7 339.5,397.0 340.1,397.2 340.7,397.4 341.3,397.6 341.9,397.8 342.5,397.9 343.1,398.1 343.7,398.2 344.2,398.3 344.8,398.4 345.4,398.5 346.0,398.5 346.6,398.6 347.2,398.6 347.8,398.7 348.3,398.7 348.9,398.7 349.5,398.8 350.1,398.8 350.7,398.8 351.3,398.8 351.9,398.8 352.4,398.8 353.0,398.9 353.6,398.9 356.5,398.9 359.5,398.9 362.4,398.9 365.3,398.9 368.3,398.9 371.2,398.9 374.1,398.9 377.1,398.9 380.0,398.9 382.9,398.9 385.8,398.9 388.8,398.9 391.7,398.9 394.6,398.9 397.6,398.9 400.5,398.9 403.4,398.9 406.4,398.9 409.3,398.9 412.2,398.9 415.1,398.9 418.1,398.9 421.0,398.9 423.9,398.9" fill="none" stroke="#dbdb8d" stroke-width="1.35" stroke-linejoin="round"/>
<path d="M265.7,393.1 266.3,391.8 266.9,390.5 267.5,389.2 268.1,387.8 268.6,386.5 269.2,385.1 269.8,383.7 270.4,382.3 271.0,380.8 271.6,379.2 272.2,377.6 272.7,376.0 273.3,374.3 273.9,372.5 274.5,370.7 275.1,368.8 275.7,366.8 276.3,364.7 276.8,362.6 277.4,360.4 278.0,358.2 278.6,355.9 279.2,353.5 279.8,351.0 280.4,348.5 280.9,345.9 281.5,343.2 282.1,340.5 282.7,337.8 283.3,335.0 283.9,332.1 284.5,329.3 285.1,326.4 285.6,323.4 286.2,320.5 286.8,317.5 287.4,314.6 288.0,311.6 288.6,308.7 289.2,305.7 289.7,302.8 290.3,300.0 290.9,297.2 291.5,294.4 292.1,291.7 292.7,289.1 293.3,286.5 293.8,284.1 294.4,281.7 295.0,279.4 295.6,277.3 296.2,275.2 296.8,273.3 297.4,271.6 297.9,269.9 298.5,268.4 299.1,267.1 299.7,265.9 300.3,264.9 300.9,264.0 301.5,263.3 302.0,262.8 302.6,262.5 303.2,262.3 303.8,262.3 304.4,262.6 305.0,263.2 305.6,264.1 306.1,265.2 306.7,266.7 307.3,268.4 307.9,270.3 308.5,272.6 309.1,275.0 309.7,277.6 310.2,280.5 310.8,283.5 311.4,286.7 312.0,290.1 312.6,293.5 313.2,297.1 313.8,300.8 314.4,304.6 314.9,308.4 315.5,312.2 316.1,316.0 316.7,319.9 317.3,323.7 317.9,327.5 318.5,331.3 319.0,335.0 319.6,338.6 320.2,342.2 320.8,345.6 321.4,349.0 322.0,352.2 322.6,355.3 323.1,358.3 323.7,361.2 324.3,363.9 324.9,366.6 325.5,369.1 326.1,371.4 326.7,373.6 327.2,375.7 327.8,377.7 328.4,379.5 329.0,381.3 329.6,382.9 330.2,384.3 330.8,385.7 331.3,387.0 331.9,388.2 332.5,389.3 333.1,390.2 333.7,391.1 334.3,392.0 334.9,392.7 335.4,393.4 336.0,394.0 336.6,394.6 337.2,395.1 337.8,395.5 338.4,395.9 339.0,396.3 339.5,396.6 340.1,396.9 340.7,397.2 341.3,397.4 341.9,397.6 342.5,397.8 343.1,397.9 343.7,398.0 344.2,398.2 344.8,398.3 345.4,398.4 346.0,398.4 346.6,398.5 347.2,398.6 347.8,398.6 348.3,398.7 348.9,398.7 349.5,398.7 350.1,398.8 350.7,398.8 351.3,398.8 351.9,398.8 352.4,398.8 353.0,398.8 353.6,398.8 356.5,398.9 359.5,398.9 362.4,398.9 365.3,398.9 368.3,398.9 371.2,398.9 374.1,398.9 377.1,398.9 380.0,398.9 382.9,398.9 385.8,398.9 388.8,398.9 391.7,398.9 394.6,398.9 397.6,398.9 400.5,398.9 403.4,398.9 406.4,398.9 409.3,398.9 412.2,398.9 415.1,398.9 418.1,398.9 421.0,398.9 423.9,398.9" fill="none" stroke="#1f77b4" stroke-width="1.35" stroke-linejoin="round"/>
<path d="M265.7,393.1 266.3,391.8 266.9,390.5 267.5,389.1 268.1,387.7 268.6,386.4 269.2,384.9 269.8,383.5 270.4,381.9 271.0,380.4 271.6,378.8 272.2,377.1 272.7,375.3 273.3,373.5 273.9,371.6 274.5,369.6 275.1,367.6 275.7,365.4 276.3,363.2 276.8,360.9 277.4,358.6 278.0,356.1 278.6,353.6 279.2,351.0 279.8,348.3 280.4,345.5 280.9,342.6 281.5,339.7 282.1,336.8 282.7,333.7 283.3,330.6 283.9,327.5 284.5,324.3 285.1,321.0 285.6,317.8 286.2,314.5 286.8,311.2 287.4,307.9 288.0,304.6 288.6,301.3 289.2,298.0 289.7,294.7 290.3,291.5 290.9,288.3 291.5,285.2 292.1,282.2 292.7,279.2 293.3,276.3 293.8,273.5 294.4,270.9 295.0,268.3 295.6,265.9 296.2,263.6 296.8,261.4 297.4,259.4 297.9,257.5 298.5,255.8 299.1,254.3 299.7,253.0 300.3,251.8 300.9,250.8 301.5,250.0 302.0,249.4 302.6,249.0 303.2,248.8 303.8,248.9 304.4,249.2 305.0,249.8 305.6,250.7 306.1,251.9 306.7,253.4 307.3,255.2 307.9,257.3 308.5,259.6 309.1,262.2 309.7,265.0 310.2,268.0 310.8,271.2 311.4,274.6 312.0,278.1 312.6,281.8 313.2,285.6 313.8,289.5 314.4,293.5 314.9,297.6 315.5,301.7 316.1,305.8 316.7,309.9 317.3,314.1 317.9,318.2 318.5,322.2 319.0,326.2 319.6,330.2 320.2,334.1 320.8,337.8 321.4,341.5 322.0,345.1 322.6,348.5 323.1,351.8 323.7,355.0 324.3,358.1 324.9,361.0 325.5,363.8 326.1,366.4 326.7,369.0 327.2,371.3 327.8,373.6 328.4,375.7 329.0,377.6 329.6,379.5 330.2,381.2 330.8,382.8 331.3,384.3 331.9,385.7 332.5,387.0 333.1,388.1 333.7,389.2 334.3,390.2 334.9,391.1 335.4,391.9 336.0,392.7 336.6,393.4 337.2,394.0 337.8,394.5 338.4,395.0 339.0,395.5 339.5,395.9 340.1,396.2 340.7,396.6 341.3,396.9 341.9,397.1 342.5,397.3 343.1,397.5 343.7,397.7 344.2,397.9 344.8,398.0 345.4,398.1 346.0,398.2 346.6,398.3 347.2,398.4 347.8,398.5 348.3,398.5 348.9,398.6 349.5,398.6 350.1,398.7 350.7,398.7 351.3,398.7 351.9,398.8 352.4,398.8 353.0,398.8 353.6,398.8 356.5,398.9 359.5,398.9 362.4,398.9 365.3,398.9 368.3,398.9 371.2,398.9 374.1,398.9 377.1,398.9 380.0,398.9 382.9,398.9 385.8,398.9 388.8,398.9 391.7,398.9 394.6,398.9 397.6,398.9 400.5,398.9 403.4,398.9 406.4,398.9 409.3,398.9 412.2,398.9 415.1,398.9 418.1,398.9 421.0,398.9 423.9,398.9" fill="none" stroke="#aec7e8" stroke-width="1.35" stroke-linejoin="round"/>
<path d="M265.7,378.4 266.3,374.3 266.9,370.5 267.5,366.8 268.1,363.4 268.6,360.0 269.2,356.8 269.8,353.6 270.4,350.5 271.0,347.5 271.6,344.5 272.2,341.6 272.7,338.7 273.3,335.8 273.9,333.0 274.5,330.2 275.1,327.4 275.7,324.6 276.3,321.8 276.8,319.1 277.4,316.5 278.0,313.8 278.6,311.3 279.2,308.7 279.8,306.3 280.4,303.9 280.9,301.6 281.5,299.3 282.1,297.2 282.7,295.1 283.3,293.2 283.9,291.3 284.5,289.6 285.1,288.0 285.6,286.5 286.2,285.2 286.8,284.0 287.4,282.9 288.0,282.0 288.6,281.2 289.2,280.6 289.7,280.1 290.3,279.8 290.9,279.6 291.5,279.6 292.1,279.7 292.7,280.0 293.3,280.3 293.8,280.8 294.4,281.4 295.0,282.1 295.6,282.9 296.2,283.9 296.8,284.9 297.4,286.0 297.9,287.3 298.5,288.6 299.1,290.1 299.7,291.6 300.3,293.2 300.9,294.9 301.5,296.6 302.0,298.5 302.6,300.4 303.2,302.4 303.8,304.4 304.4,306.5 305.0,308.6 305.6,310.7 306.1,312.9 306.7,315.1 307.3,317.4 307.9,319.7 308.5,321.9 309.1,324.2 309.7,326.5 310.2,328.8 310.8,331.1 311.4,333.4 312.0,335.7 312.6,337.9 313.2,340.2 313.8,342.4 314.4,344.5 314.9,346.7 315.5,348.8 316.1,350.9 316.7,352.9 317.3,354.9 317.9,356.9 318.5,358.8 319.0,360.6 319.6,362.4 320.2,364.2 320.8,365.9 321.4,367.5 322.0,369.1 322.6,370.7 323.1,372.2 323.7,373.6 324.3,375.0 324.9,376.4 325.5,377.6 326.1,378.9 326.7,380.0 327.2,381.2 327.8,382.2 328.4,383.3 329.0,384.2 329.6,385.2 330.2,386.0 330.8,386.9 331.3,387.7 331.9,388.4 332.5,389.2 333.1,389.8 333.7,390.5 334.3,391.1 334.9,391.6 335.4,392.2 336.0,392.6 336.6,393.1 337.2,393.6 337.8,394.0 338.4,394.3 339.0,394.7 339.5,395.0 340.1,395.3 340.7,395.6 341.3,395.9 341.9,396.2 342.5,396.4 343.1,396.6 343.7,396.8 344.2,397.0 344.8,397.1 345.4,397.3 346.0,397.4 346.6,397.6 347.2,397.7 347.8,397.8 348.3,397.9 348.9,398.0 349.5,398.1 350.1,398.2 350.7,398.2 351.3,398.3 351.9,398.4 352.4,398.4 353.0,398.5 353.6,398.5 356.5,398.7 359.5,398.8 362.4,398.8 365.3,398.9 368.3,398.9 371.2,398.9 374.1,398.9 377.1,398.9 380.0,398.9 382.9,398.9 385.8,398.9 388.8,398.9 391.7,398.9 394.6,398.9 397.6,398.9 400.5,398.9 403.4,398.9 406.4,398.9 409.3,398.9 412.2,398.9 415.1,398.9 418.1,398.9 421.0,398.9 423.9,398.9" fill="none" stroke="#2ca02c" stroke-width="1.35" stroke-linejoin="round"/>
<path d="M265.7,379.0 266.3,375.0 266.9,371.3 267.5,367.8 268.1,364.4 268.6,361.1 269.2,358.0 269.8,354.9 270.4,351.9 271.0,349.0 271.6,346.1 272.2,343.3 272.7,340.4 273.3,337.7 273.9,334.9 274.5,332.1 275.1,329.4 275.7,326.7 276.3,324.1 276.8,321.4 277.4,318.8 278.0,316.3 278.6,313.8 279.2,311.3 279.8,309.0 280.4,306.6 280.9,304.4 281.5,302.2 282.1,300.1 282.7,298.1 283.3,296.2 283.9,294.4 284.5,292.8 285.1,291.2 285.6,289.8 286.2,288.4 286.8,287.3 287.4,286.2 288.0,285.3 288.6,284.6 289.2,284.0 289.7,283.5 290.3,283.2 290.9,283.0 291.5,283.0 292.1,283.2 292.7,283.4 293.3,283.7 293.8,284.2 294.4,284.8 295.0,285.5 295.6,286.3 296.2,287.2 296.8,288.2 297.4,289.3 297.9,290.5 298.5,291.8 299.1,293.2 299.7,294.7 300.3,296.2 300.9,297.9 301.5,299.6 302.0,301.4 302.6,303.2 303.2,305.1 303.8,307.1 304.4,309.1 305.0,311.2 305.6,313.3 306.1,315.4 306.7,317.6 307.3,319.7 307.9,321.9 308.5,324.2 309.1,326.4 309.7,328.6 310.2,330.8 310.8,333.1 311.4,335.3 312.0,337.5 312.6,339.7 313.2,341.9 313.8,344.0 314.4,346.1 314.9,348.2 315.5,350.2 316.1,352.3 316.7,354.2 317.3,356.2 317.9,358.1 318.5,359.9 319.0,361.7 319.6,363.5 320.2,365.2 320.8,366.8 321.4,368.5 322.0,370.0 322.6,371.5 323.1,373.0 323.7,374.4 324.3,375.7 324.9,377.0 325.5,378.2 326.1,379.4 326.7,380.6 327.2,381.7 327.8,382.7 328.4,383.7 329.0,384.7 329.6,385.6 330.2,386.4 330.8,387.2 331.3,388.0 331.9,388.7 332.5,389.4 333.1,390.1 333.7,390.7 334.3,391.3 334.9,391.8 335.4,392.3 336.0,392.8 336.6,393.3 337.2,393.7 337.8,394.1 338.4,394.5 339.0,394.8 339.5,395.1 340.1,395.4 340.7,395.7 341.3,396.0 341.9,396.2 342.5,396.5 343.1,396.7 343.7,396.9 344.2,397.0 344.8,397.2 345.4,397.3 346.0,397.5 346.6,397.6 347.2,397.7 347.8,397.8 348.3,397.9 348.9,398.0 349.5,398.1 350.1,398.2 350.7,398.3 351.3,398.3 351.9,398.4 352.4,398.4 353.0,398.5 353.6,398.5 356.5,398.7 359.5,398.8 362.4,398.8 365.3,398.9 368.3,398.9 371.2,398.9 374.1,398.9 377.1,398.9 380.0,398.9 382.9,398.9 385.8,398.9 388.8,398.9 391.7,398.9 394.6,398.9 397.6,398.9 400.5,398.9 403.4,398.9 406.4,398.9 409.3,398.9 412.2,398.9 415.1,398.9 418.1,398.9 421.0,398.9 423.9,398.9" fill="none" stroke="#98df8a" stroke-width="1.35" stroke-linejoin="round"/>
<path d="M265.7,394.2 266.3,393.1 266.9,392.1 267.5,391.0 268.1,389.9 268.6,388.8 269.2,387.6 269.8,386.5 270.4,385.3 271.0,384.0 271.6,382.7 272.2,381.4 272.7,380.0 273.3,378.6 273.9,377.1 274.5,375.6 275.1,373.9 275.7,372.3 276.3,370.5 276.8,368.8 277.4,366.9 278.0,365.0 278.6,363.0 279.2,360.9 279.8,358.8 280.4,356.7 280.9,354.4 281.5,352.2 282.1,349.8 282.7,347.4 283.3,345.0 283.9,342.6 284.5,340.0 285.1,337.5 285.6,335.0 286.2,332.4 286.8,329.8 287.4,327.2 288.0,324.6 288.6,322.0 289.2,319.4 289.7,316.8 290.3,314.2 290.9,311.7 291.5,309.2 292.1,306.8 292.7,304.4 293.3,302.1 293.8,299.8 294.4,297.7 295.0,295.6 295.6,293.6 296.2,291.7 296.8,289.9 297.4,288.2 297.9,286.6 298.5,285.2 299.1,283.9 299.7,282.7 300.3,281.7 300.9,280.8 301.5,280.0 302.0,279.4 302.6,279.0 303.2,278.6 303.8,278.5 304.4,278.5 305.0,278.8 305.6,279.3 306.1,280.1 306.7,281.1 307.3,282.3 307.9,283.9 308.5,285.6 309.1,287.5 309.7,289.7 310.2,292.0 310.8,294.5 311.4,297.2 312.0,300.0 312.6,303.0 313.2,306.0 313.8,309.2 314.4,312.4 314.9,315.7 315.5,319.1 316.1,322.5 316.7,325.9 317.3,329.3 317.9,332.6 318.5,336.0 319.0,339.3 319.6,342.6 320.2,345.8 320.8,348.9 321.4,351.9 322.0,354.9 322.6,357.7 323.1,360.5 323.7,363.1 324.3,365.7 324.9,368.1 325.5,370.4 326.1,372.6 326.7,374.7 327.2,376.6 327.8,378.5 328.4,380.2 329.0,381.8 329.6,383.3 330.2,384.8 330.8,386.1 331.3,387.3 331.9,388.4 332.5,389.4 333.1,390.4 333.7,391.3 334.3,392.1 334.9,392.8 335.4,393.5 336.0,394.1 336.6,394.6 337.2,395.1 337.8,395.5 338.4,395.9 339.0,396.3 339.5,396.6 340.1,396.9 340.7,397.1 341.3,397.4 341.9,397.6 342.5,397.7 343.1,397.9 343.7,398.0 344.2,398.1 344.8,398.3 345.4,398.3 346.0,398.4 346.6,398.5 347.2,398.6 347.8,398.6 348.3,398.6 348.9,398.7 349.5,398.7 350.1,398.7 350.7,398.8 351.3,398.8 351.9,398.8 352.4,398.8 353.0,398.8 353.6,398.8 356.5,398.9 359.5,398.9 362.4,398.9 365.3,398.9 368.3,398.9 371.2,398.9 374.1,398.9 377.1,398.9 380.0,398.9 382.9,398.9 385.8,398.9 388.8,398.9 391.7,398.9 394.6,398.9 397.6,398.9 400.5,398.9 403.4,398.9 406.4,398.9 409.3,398.9 412.2,398.9 415.1,398.9 418.1,398.9 421.0,398.9 423.9,398.9" fill="none" stroke="#ff7f0e" stroke-width="1.35" stroke-linejoin="round"/>
<path d="M265.7,394.7 266.3,393.8 266.9,392.8 267.5,391.8 268.1,390.8 268.6,389.8 269.2,388.7 269.8,387.6 270.4,386.5 271.0,385.3 271.6,384.1 272.2,382.9 272.7,381.6 273.3,380.2 273.9,378.8 274.5,377.3 275.1,375.7 275.7,374.1 276.3,372.5 276.8,370.7 277.4,368.9 278.0,367.0 278.6,365.1 279.2,363.1 279.8,361.1 280.4,358.9 280.9,356.7 281.5,354.5 282.1,352.2 282.7,349.9 283.3,347.5 283.9,345.0 284.5,342.5 285.1,340.0 285.6,337.5 286.2,334.9 286.8,332.3 287.4,329.7 288.0,327.1 288.6,324.5 289.2,321.9 289.7,319.3 290.3,316.7 290.9,314.2 291.5,311.7 292.1,309.2 292.7,306.8 293.3,304.5 293.8,302.2 294.4,300.0 295.0,297.9 295.6,295.9 296.2,293.9 296.8,292.1 297.4,290.4 297.9,288.8 298.5,287.4 299.1,286.0 299.7,284.8 300.3,283.8 300.9,282.8 301.5,282.1 302.0,281.5 302.6,281.0 303.2,280.7 303.8,280.5 304.4,280.5 305.0,280.8 305.6,281.3 306.1,282.1 306.7,283.1 307.3,284.3 307.9,285.8 308.5,287.5 309.1,289.4 309.7,291.5 310.2,293.8 310.8,296.3 311.4,298.9 312.0,301.7 312.6,304.6 313.2,307.6 313.8,310.7 314.4,313.9 314.9,317.1 315.5,320.4 316.1,323.7 316.7,327.1 317.3,330.4 317.9,333.7 318.5,337.0 319.0,340.3 319.6,343.5 320.2,346.6 320.8,349.7 321.4,352.7 322.0,355.6 322.6,358.4 323.1,361.1 323.7,363.7 324.3,366.2 324.9,368.6 325.5,370.9 326.1,373.0 326.7,375.1 327.2,377.0 327.8,378.8 328.4,380.5 329.0,382.1 329.6,383.6 330.2,385.0 330.8,386.3 331.3,387.5 331.9,388.6 332.5,389.6 333.1,390.5 333.7,391.4 334.3,392.2 334.9,392.9 335.4,393.5 336.0,394.1 336.6,394.7 337.2,395.2 337.8,395.6 338.4,396.0 339.0,396.3 339.5,396.6 340.1,396.9 340.7,397.2 341.3,397.4 341.9,397.6 342.5,397.8 343.1,397.9 343.7,398.0 344.2,398.2 344.8,398.3 345.4,398.4 346.0,398.4 346.6,398.5 347.2,398.6 347.8,398.6 348.3,398.7 348.9,398.7 349.5,398.7 350.1,398.7 350.7,398.8 351.3,398.8 351.9,398.8 352.4,398.8 353.0,398.8 353.6,398.8 356.5,398.9 359.5,398.9 362.4,398.9 365.3,398.9 368.3,398.9 371.2,398.9 374.1,398.9 377.1,398.9 380.0,398.9 382.9,398.9 385.8,398.9 388.8,398.9 391.7,398.9 394.6,398.9 397.6,398.9 400.5,398.9 403.4,398.9 406.4,398.9 409.3,398.9 412.2,398.9 415.1,398.9 418.1,398.9 421.0,398.9 423.9,398.9" fill="none" stroke="#ffbb78" stroke-width="1.35" stroke-linejoin="round"/>
<path d="M265.7,378.1 266.3,373.9 266.9,370.0 267.5,366.3 268.1,362.8 268.6,359.4 269.2,356.1 269.8,352.9 270.4,349.7 271.0,346.7 271.6,343.6 272.2,340.6 272.7,337.7 273.3,334.8 273.9,331.9 274.5,329.0 275.1,326.1 275.7,323.3 276.3,320.5 276.8,317.8 277.4,315.1 278.0,312.4 278.6,309.8 279.2,307.2 279.8,304.7 280.4,302.3 280.9,299.9 281.5,297.6 282.1,295.5 282.7,293.4 283.3,291.4 283.9,289.5 284.5,287.8 285.1,286.1 285.6,284.6 286.2,283.2 286.8,282.0 287.4,280.9 288.0,280.0 288.6,279.2 289.2,278.5 289.7,278.1 290.3,277.7 290.9,277.6 291.5,277.6 292.1,277.7 292.7,277.9 293.3,278.3 293.8,278.8 294.4,279.4 295.0,280.1 295.6,281.0 296.2,281.9 296.8,283.0 297.4,284.1 297.9,285.4 298.5,286.7 299.1,288.2 299.7,289.8 300.3,291.4 300.9,293.1 301.5,294.9 302.0,296.8 302.6,298.7 303.2,300.7 303.8,302.8 304.4,304.9 305.0,307.0 305.6,309.2 306.1,311.5 306.7,313.7 307.3,316.0 307.9,318.3 308.5,320.6 309.1,323.0 309.7,325.3 310.2,327.6 310.8,330.0 311.4,332.3 312.0,334.6 312.6,336.9 313.2,339.2 313.8,341.4 314.4,343.6 314.9,345.8 315.5,348.0 316.1,350.1 316.7,352.1 317.3,354.2 317.9,356.1 318.5,358.1 319.0,360.0 319.6,361.8 320.2,363.6 320.8,365.3 321.4,367.0 322.0,368.6 322.6,370.2 323.1,371.7 323.7,373.2 324.3,374.6 324.9,376.0 325.5,377.3 326.1,378.5 326.7,379.7 327.2,380.9 327.8,382.0 328.4,383.0 329.0,384.0 329.6,384.9 330.2,385.8 330.8,386.7 331.3,387.5 331.9,388.3 332.5,389.0 333.1,389.7 333.7,390.3 334.3,390.9 334.9,391.5 335.4,392.0 336.0,392.5 336.6,393.0 337.2,393.5 337.8,393.9 338.4,394.3 339.0,394.6 339.5,395.0 340.1,395.3 340.7,395.6 341.3,395.9 341.9,396.1 342.5,396.3 343.1,396.6 343.7,396.8 344.2,396.9 344.8,397.1 345.4,397.3 346.0,397.4 346.6,397.6 347.2,397.7 347.8,397.8 348.3,397.9 348.9,398.0 349.5,398.1 350.1,398.2 350.7,398.2 351.3,398.3 351.9,398.4 352.4,398.4 353.0,398.5 353.6,398.5 356.5,398.7 359.5,398.8 362.4,398.8 365.3,398.9 368.3,398.9 371.2,398.9 374.1,398.9 377.1,398.9 380.0,398.9 382.9,398.9 385.8,398.9 388.8,398.9 391.7,398.9 394.6,398.9 397.6,398.9 400.5,398.9 403.4,398.9 406.4,398.9 409.3,398.9 412.2,398.9 415.1,398.9 418.1,398.9 421.0,398.9 423.9,398.9" fill="none" stroke="#17becf" stroke-width="1.35" stroke-linejoin="round"/>
<path d="M265.7,379.6 266.3,375.8 266.9,372.2 267.5,368.7 268.1,365.4 268.6,362.3 269.2,359.2 269.8,356.3 270.4,353.4 271.0,350.5 271.6,347.7 272.2,345.0 272.7,342.2 273.3,339.5 273.9,336.8 274.5,334.2 275.1,331.5 275.7,328.9 276.3,326.4 276.8,323.8 277.4,321.3 278.0,318.8 278.6,316.4 279.2,314.0 279.8,311.7 280.4,309.5 280.9,307.3 281.5,305.2 282.1,303.1 282.7,301.2 283.3,299.4 283.9,297.6 284.5,296.0 285.1,294.5 285.6,293.1 286.2,291.8 286.8,290.7 287.4,289.7 288.0,288.8 288.6,288.1 289.2,287.5 289.7,287.0 290.3,286.7 290.9,286.6 291.5,286.6 292.1,286.7 292.7,286.9 293.3,287.3 293.8,287.7 294.4,288.3 295.0,288.9 295.6,289.7 296.2,290.6 296.8,291.6 297.4,292.6 297.9,293.8 298.5,295.1 299.1,296.4 299.7,297.9 300.3,299.4 300.9,301.0 301.5,302.6 302.0,304.4 302.6,306.2 303.2,308.0 303.8,309.9 304.4,311.9 305.0,313.9 305.6,315.9 306.1,318.0 306.7,320.0 307.3,322.2 307.9,324.3 308.5,326.4 309.1,328.6 309.7,330.8 310.2,332.9 310.8,335.1 311.4,337.2 312.0,339.4 312.6,341.5 313.2,343.6 313.8,345.7 314.4,347.7 314.9,349.7 315.5,351.7 316.1,353.7 316.7,355.6 317.3,357.5 317.9,359.3 318.5,361.1 319.0,362.9 319.6,364.6 320.2,366.2 320.8,367.8 321.4,369.4 322.0,370.9 322.6,372.3 323.1,373.8 323.7,375.1 324.3,376.4 324.9,377.7 325.5,378.9 326.1,380.0 326.7,381.1 327.2,382.2 327.8,383.2 328.4,384.2 329.0,385.1 329.6,386.0 330.2,386.8 330.8,387.6 331.3,388.3 331.9,389.1 332.5,389.7 333.1,390.4 333.7,391.0 334.3,391.5 334.9,392.0 335.4,392.5 336.0,393.0 336.6,393.5 337.2,393.9 337.8,394.3 338.4,394.6 339.0,394.9 339.5,395.3 340.1,395.6 340.7,395.8 341.3,396.1 341.9,396.3 342.5,396.5 343.1,396.7 343.7,396.9 344.2,397.1 344.8,397.2 345.4,397.4 346.0,397.5 346.6,397.7 347.2,397.8 347.8,397.9 348.3,398.0 348.9,398.1 349.5,398.1 350.1,398.2 350.7,398.3 351.3,398.3 351.9,398.4 352.4,398.4 353.0,398.5 353.6,398.5 356.5,398.7 359.5,398.8 362.4,398.8 365.3,398.9 368.3,398.9 371.2,398.9 374.1,398.9 377.1,398.9 380.0,398.9 382.9,398.9 385.8,398.9 388.8,398.9 391.7,398.9 394.6,398.9 397.6,398.9 400.5,398.9 403.4,398.9 406.4,398.9 409.3,398.9 412.2,398.9 415.1,398.9 418.1,398.9 421.0,398.9 423.9,398.9" fill="none" stroke="#9edae5" stroke-width="1.35" stroke-linejoin="round"/>
<line x1="356.25" y1="398.90" x2="426.57" y2="398.90" stroke="#c4cccc" stroke-width="1.3"/>
</g>
<clipPath id="ce"><rect x="259.3" y="239.4" width="166.0" height="166.70000000000002"/></clipPath>
<rect x="259.30" y="239.40" width="166.00" height="166.70" fill="none" stroke="#2e2e2e" stroke-width="1.25"/>
<line x1="298.47" y1="406.10" x2="298.47" y2="239.40" stroke="#1a1a1a" stroke-width="1.1" stroke-dasharray="8.2,4.1"/>
<line x1="256.90" y1="398.90" x2="259.30" y2="398.90" stroke="#262626" stroke-width="1.0"/>
<text x="254.60" y="401.42" font-size="7.0" text-anchor="end" fill="#000">0.0</text>
<line x1="256.90" y1="348.30" x2="259.30" y2="348.30" stroke="#262626" stroke-width="1.0"/>
<text x="254.60" y="350.82" font-size="7.0" text-anchor="end" fill="#000">0.5</text>
<line x1="256.90" y1="297.70" x2="259.30" y2="297.70" stroke="#262626" stroke-width="1.0"/>
<text x="254.60" y="300.22" font-size="7.0" text-anchor="end" fill="#000">1.0</text>
<line x1="256.90" y1="247.10" x2="259.30" y2="247.10" stroke="#262626" stroke-width="1.0"/>
<text x="254.60" y="249.62" font-size="7.0" text-anchor="end" fill="#000">1.5</text>
<line x1="283.00" y1="406.10" x2="283.00" y2="408.50" stroke="#262626" stroke-width="1.0"/>
<text x="283.00" y="416.90" font-size="7.0" text-anchor="middle" fill="#000">10</text>
<line x1="341.60" y1="406.10" x2="341.60" y2="408.50" stroke="#262626" stroke-width="1.0"/>
<text x="341.60" y="416.90" font-size="7.0" text-anchor="middle" fill="#000">20</text>
<line x1="400.20" y1="406.10" x2="400.20" y2="408.50" stroke="#262626" stroke-width="1.0"/>
<text x="400.20" y="416.90" font-size="7.0" text-anchor="middle" fill="#000">30</text>
<text x="349.00" y="426.20" font-size="9.3" text-anchor="middle" fill="#000">Average quality (Q score)</text>
<text x="241.4" y="318.6" font-size="9.4" text-anchor="middle" transform="rotate(-90 241.4 318.6)">Count (x 10<tspan font-size="6.3" dy="-3.4">6</tspan><tspan dy="3.4">)</tspan></text>
<text x="282.90" y="249.30" font-size="7.0" text-anchor="start" fill="#000">Average of median quality scores: 12.52</text>
<line x1="358.20" y1="256.30" x2="364.20" y2="256.30" stroke="#d62728" stroke-width="1.2"/>
<text x="367.40" y="258.87" font-size="6.85" text-anchor="start" fill="#000">AsPC-1-1</text>
<line x1="358.20" y1="263.49" x2="364.20" y2="263.49" stroke="#ff9896" stroke-width="1.2"/>
<text x="367.40" y="266.06" font-size="6.85" text-anchor="start" fill="#000">AsPC-1-2</text>
<line x1="358.20" y1="270.68" x2="364.20" y2="270.68" stroke="#9467bd" stroke-width="1.2"/>
<text x="367.40" y="273.25" font-size="6.85" text-anchor="start" fill="#000">BXPC3-1</text>
<line x1="358.20" y1="277.87" x2="364.20" y2="277.87" stroke="#c5b0d5" stroke-width="1.2"/>
<text x="367.40" y="280.44" font-size="6.85" text-anchor="start" fill="#000">BXPC3-2</text>
<line x1="358.20" y1="285.06" x2="364.20" y2="285.06" stroke="#8c564b" stroke-width="1.2"/>
<text x="367.40" y="287.63" font-size="6.85" text-anchor="start" fill="#000">Capan-1-1</text>
<line x1="358.20" y1="292.25" x2="364.20" y2="292.25" stroke="#c49c94" stroke-width="1.2"/>
<text x="367.40" y="294.82" font-size="6.85" text-anchor="start" fill="#000">Capan-1-2</text>
<line x1="358.20" y1="299.44" x2="364.20" y2="299.44" stroke="#e377c2" stroke-width="1.2"/>
<text x="367.40" y="302.01" font-size="6.85" text-anchor="start" fill="#000">Capan-2-1</text>
<line x1="358.20" y1="306.63" x2="364.20" y2="306.63" stroke="#f7b6d2" stroke-width="1.2"/>
<text x="367.40" y="309.20" font-size="6.85" text-anchor="start" fill="#000">Capan-2-2</text>
<line x1="358.20" y1="313.82" x2="364.20" y2="313.82" stroke="#7f7f7f" stroke-width="1.2"/>
<text x="367.40" y="316.39" font-size="6.85" text-anchor="start" fill="#000">HuP-T4-1</text>
<line x1="358.20" y1="321.01" x2="364.20" y2="321.01" stroke="#c7c7c7" stroke-width="1.2"/>
<text x="367.40" y="323.58" font-size="6.85" text-anchor="start" fill="#000">HuP-T4-2</text>
<line x1="358.20" y1="328.20" x2="364.20" y2="328.20" stroke="#bcbd22" stroke-width="1.2"/>
<text x="367.40" y="330.77" font-size="6.85" text-anchor="start" fill="#000">Mia-PaCa-2-1</text>
<line x1="358.20" y1="335.39" x2="364.20" y2="335.39" stroke="#dbdb8d" stroke-width="1.2"/>
<text x="367.40" y="337.96" font-size="6.85" text-anchor="start" fill="#000">Mia-PaCa-2-2</text>
<line x1="358.20" y1="342.58" x2="364.20" y2="342.58" stroke="#1f77b4" stroke-width="1.2"/>
<text x="367.40" y="345.15" font-size="6.85" text-anchor="start" fill="#000">PANC0203-1</text>
<line x1="358.20" y1="349.77" x2="364.20" y2="349.77" stroke="#aec7e8" stroke-width="1.2"/>
<text x="367.40" y="352.34" font-size="6.85" text-anchor="start" fill="#000">PANC0203-2</text>
<line x1="358.20" y1="356.96" x2="364.20" y2="356.96" stroke="#2ca02c" stroke-width="1.2"/>
<text x="367.40" y="359.53" font-size="6.85" text-anchor="start" fill="#000">Panc0327−1</text>
<line x1="358.20" y1="364.15" x2="364.20" y2="364.15" stroke="#98df8a" stroke-width="1.2"/>
<text x="367.40" y="366.72" font-size="6.85" text-anchor="start" fill="#000">Panc0327-2</text>
<line x1="358.20" y1="371.34" x2="364.20" y2="371.34" stroke="#ff7f0e" stroke-width="1.2"/>
<text x="367.40" y="373.91" font-size="6.85" text-anchor="start" fill="#000">PANC1005-1</text>
<line x1="358.20" y1="378.53" x2="364.20" y2="378.53" stroke="#ffbb78" stroke-width="1.2"/>
<text x="367.40" y="381.10" font-size="6.85" text-anchor="start" fill="#000">PANC1005-2</text>
<line x1="358.20" y1="385.72" x2="364.20" y2="385.72" stroke="#17becf" stroke-width="1.2"/>
<text x="367.40" y="388.29" font-size="6.85" text-anchor="start" fill="#000">SW1990-1</text>
<line x1="358.20" y1="392.91" x2="364.20" y2="392.91" stroke="#9edae5" stroke-width="1.2"/>
<text x="367.40" y="395.48" font-size="6.85" text-anchor="start" fill="#000">SW1990-2</text>
<text x="229.30" y="228.00" font-size="16.5" text-anchor="start" fill="#000">e</text>
<g clip-path="url(#cf)">
<path d="M485.4,385.1 487.3,357.7 489.4,330.5 491.3,310.9 492.8,295.8 493.9,277.4 495.1,292.7 496.6,315.9 498.5,323.1 500.1,324.1 502.0,329.7 503.6,327.6 504.9,347.0 505.9,356.3 508.6,362.9 511.3,365.0 512.6,367.4 513.8,365.4 515.0,368.5 517.9,370.3 520.6,371.4 523.3,372.4 524.6,375.4 526.7,372.4 528.6,378.1 532.6,381.6 535.3,383.3 538.5,385.3 540.6,386.2 542.0,386.6 543.5,386.9 545.1,387.2 546.8,387.6 548.6,387.9 549.9,388.3 551.4,388.6 552.8,388.9 554.4,389.3 555.9,389.6 557.6,389.9 559.2,390.2 560.8,390.5 562.4,390.7 564.1,390.9 565.7,391.2 567.5,391.4 569.2,391.6 570.9,391.8 572.6,392.0 574.2,392.1 575.9,392.3 577.6,392.5 579.2,392.6 580.9,392.7 582.6,392.9 584.2,393.0 585.9,393.1 587.6,393.2 589.2,393.3 590.9,393.4 592.6,393.5 594.2,393.6 595.9,393.7 597.6,393.8 599.2,393.9 600.9,394.0 602.6,394.1 604.2,394.2 605.9,394.3 607.6,394.4 609.2,394.5 610.9,394.6 612.5,394.7 614.2,394.8 615.9,394.9 617.5,394.9 619.2,395.0 620.9,395.1 622.5,395.1 624.2,395.2 625.9,395.3 627.5,395.3 629.2,395.3 630.9,395.4 632.5,395.4 634.2,395.5 635.9,395.5 637.5,395.5 639.2,395.6 640.9,395.6 642.5,395.6 644.1,395.7 645.7,395.7 647.4,395.8 649.0,395.8 650.8,395.9 652.5,395.9 654.1,395.9 655.7,396.0 657.5,396.0 659.3,396.0 661.1,396.0 662.8,396.1 664.4,396.1 665.8,396.1 667.1,396.1 668.0,396.2" fill="none" stroke="#d62728" stroke-width="1.4" stroke-linejoin="round"/>
<path d="M485.4,386.1 487.3,359.4 489.4,331.0 491.3,311.4 492.8,300.1 493.9,277.9 495.1,299.7 496.6,315.6 498.5,319.6 500.1,320.6 502.0,326.8 503.6,325.4 504.9,348.1 505.9,354.8 508.6,361.9 511.3,363.4 512.6,365.6 513.8,363.0 515.0,366.8 517.9,368.4 520.6,370.6 523.3,372.7 524.6,374.0 526.7,372.5 528.6,377.9 532.6,380.9 535.3,382.8 538.5,384.4 540.6,385.2 542.0,385.6 543.5,386.0 545.1,386.5 546.8,386.9 548.6,387.3 549.9,387.7 551.4,388.0 552.8,388.4 554.4,388.7 555.9,389.1 557.6,389.4 559.2,389.7 560.8,390.0 562.4,390.3 564.1,390.5 565.7,390.7 567.5,391.0 569.2,391.2 570.9,391.4 572.6,391.6 574.2,391.8 575.9,392.0 577.6,392.1 579.2,392.3 580.9,392.5 582.6,392.6 584.2,392.8 585.9,392.9 587.6,393.1 589.2,393.2 590.9,393.3 592.6,393.4 594.2,393.5 595.9,393.6 597.6,393.7 599.2,393.8 600.9,393.9 602.6,394.0 604.2,394.1 605.9,394.2 607.6,394.3 609.2,394.4 610.9,394.5 612.5,394.6 614.2,394.7 615.9,394.8 617.5,394.8 619.2,394.9 620.9,395.0 622.5,395.1 624.2,395.1 625.9,395.2 627.5,395.3 629.2,395.3 630.9,395.3 632.5,395.4 634.2,395.4 635.9,395.5 637.5,395.5 639.2,395.5 640.9,395.6 642.5,395.6 644.1,395.7 645.7,395.7 647.4,395.8 649.0,395.8 650.8,395.8 652.5,395.9 654.1,395.9 655.7,395.9 657.5,396.0 659.3,396.0 661.1,396.0 662.8,396.0 664.4,396.1 665.8,396.1 667.1,396.1 668.0,396.1" fill="none" stroke="#ff9896" stroke-width="1.4" stroke-linejoin="round"/>
<path d="M485.4,382.5 487.3,356.4 489.4,332.2 491.3,308.9 492.8,294.5 493.9,275.2 495.1,291.9 496.6,300.7 498.5,309.8 500.1,310.2 502.0,313.5 503.6,317.5 504.9,339.4 505.9,348.4 508.6,357.3 511.3,361.5 512.6,363.0 513.8,358.5 515.0,362.7 517.9,365.5 520.6,367.8 523.3,369.6 524.6,372.0 526.7,369.5 528.6,375.9 532.6,379.5 535.3,381.4 538.5,383.1 540.6,384.0 542.0,384.5 543.5,385.1 545.1,385.7 546.8,386.3 548.6,386.9 549.9,387.2 551.4,387.6 552.8,387.9 554.4,388.3 555.9,388.6 557.6,388.9 559.2,389.2 560.8,389.5 562.4,389.7 564.1,390.0 565.7,390.2 567.5,390.4 569.2,390.6 570.9,390.8 572.6,391.1 574.2,391.2 575.9,391.4 577.6,391.6 579.2,391.8 580.9,392.0 582.6,392.1 584.2,392.3 585.9,392.4 587.6,392.6 589.2,392.7 590.9,392.9 592.6,393.0 594.2,393.1 595.9,393.3 597.6,393.4 599.2,393.5 600.9,393.6 602.6,393.7 604.2,393.8 605.9,394.0 607.6,394.1 609.2,394.2 610.9,394.3 612.5,394.3 614.2,394.4 615.9,394.5 617.5,394.6 619.2,394.7 620.9,394.8 622.5,394.8 624.2,394.9 625.9,395.0 627.5,395.0 629.2,395.1 630.9,395.2 632.5,395.2 634.2,395.3 635.9,395.3 637.5,395.4 639.2,395.4 640.9,395.5 642.5,395.5 644.1,395.6 645.7,395.6 647.4,395.6 649.0,395.7 650.8,395.7 652.5,395.8 654.1,395.8 655.7,395.8 657.5,395.9 659.3,395.9 661.1,395.9 662.8,396.0 664.4,396.0 665.8,396.0 667.1,396.0 668.0,396.1" fill="none" stroke="#9467bd" stroke-width="1.4" stroke-linejoin="round"/>
<path d="M485.4,383.0 487.3,357.3 489.4,330.0 491.3,309.7 492.8,298.8 493.9,279.5 495.1,293.2 496.6,304.4 498.5,307.6 500.1,308.0 502.0,312.1 503.6,320.3 504.9,341.8 505.9,349.4 508.6,355.0 511.3,361.3 512.6,362.0 513.8,359.8 515.0,363.5 517.9,365.0 520.6,367.8 523.3,369.2 524.6,370.4 526.7,368.5 528.6,375.0 532.6,378.9 535.3,381.2 538.5,382.7 540.6,383.5 542.0,384.1 543.5,384.8 545.1,385.4 546.8,386.1 548.6,386.7 549.9,387.0 551.4,387.4 552.8,387.7 554.4,388.0 555.9,388.3 557.6,388.6 559.2,388.9 560.8,389.1 562.4,389.4 564.1,389.6 565.7,389.9 567.5,390.1 569.2,390.4 570.9,390.6 572.6,390.8 574.2,391.0 575.9,391.2 577.6,391.4 579.2,391.6 580.9,391.7 582.6,391.9 584.2,392.1 585.9,392.2 587.6,392.4 589.2,392.6 590.9,392.7 592.6,392.9 594.2,393.0 595.9,393.1 597.6,393.3 599.2,393.4 600.9,393.5 602.6,393.7 604.2,393.8 605.9,393.9 607.6,394.0 609.2,394.1 610.9,394.2 612.5,394.3 614.2,394.4 615.9,394.5 617.5,394.6 619.2,394.7 620.9,394.8 622.5,394.8 624.2,394.9 625.9,395.0 627.5,395.0 629.2,395.1 630.9,395.1 632.5,395.2 634.2,395.2 635.9,395.3 637.5,395.4 639.2,395.4 640.9,395.5 642.5,395.5 644.1,395.6 645.7,395.6 647.4,395.7 649.0,395.7 650.8,395.7 652.5,395.8 654.1,395.8 655.7,395.8 657.5,395.9 659.3,395.9 661.1,395.9 662.8,395.9 664.4,396.0 665.8,396.0 667.1,396.0 668.0,396.0" fill="none" stroke="#c5b0d5" stroke-width="1.4" stroke-linejoin="round"/>
<path d="M485.4,384.4 487.3,355.1 489.4,328.5 491.3,311.4 492.8,295.7 493.9,270.7 495.1,289.2 496.6,304.6 498.5,308.6 500.1,307.4 502.0,316.6 503.6,316.4 504.9,341.8 505.9,348.7 508.6,355.7 511.3,360.5 512.6,362.3 513.8,360.0 515.0,362.9 517.9,365.4 520.6,367.9 523.3,369.6 524.6,371.4 526.7,370.1 528.6,375.8 532.6,379.6 535.3,382.1 538.5,383.4 540.6,384.0 542.0,384.5 543.5,385.0 545.1,385.4 546.8,385.9 548.6,386.4 549.9,386.8 551.4,387.1 552.8,387.4 554.4,387.7 555.9,388.1 557.6,388.4 559.2,388.7 560.8,389.0 562.4,389.3 564.1,389.7 565.7,390.0 567.5,390.3 569.2,390.6 570.9,390.8 572.6,391.1 574.2,391.3 575.9,391.5 577.6,391.7 579.2,391.9 580.9,392.1 582.6,392.2 584.2,392.4 585.9,392.5 587.6,392.7 589.2,392.8 590.9,392.9 592.6,393.0 594.2,393.1 595.9,393.2 597.6,393.3 599.2,393.4 600.9,393.5 602.6,393.7 604.2,393.8 605.9,393.9 607.6,394.1 609.2,394.2 610.9,394.3 612.5,394.4 614.2,394.5 615.9,394.6 617.5,394.6 619.2,394.7 620.9,394.7 622.5,394.8 624.2,394.8 625.9,394.9 627.5,395.0 629.2,395.0 630.9,395.1 632.5,395.2 634.2,395.2 635.9,395.3 637.5,395.4 639.2,395.4 640.9,395.5 642.5,395.5 644.1,395.6 645.7,395.6 647.4,395.7 649.0,395.7 650.8,395.7 652.5,395.8 654.1,395.8 655.7,395.8 657.5,395.9 659.3,395.9 661.1,395.9 662.8,396.0 664.4,396.0 665.8,396.0 667.1,396.0 668.0,396.1" fill="none" stroke="#8c564b" stroke-width="1.4" stroke-linejoin="round"/>
<path d="M485.4,385.8 487.3,357.7 489.4,329.6 491.3,308.3 492.8,298.0 493.9,272.8 495.1,295.4 496.6,304.1 498.5,307.8 500.1,308.9 502.0,316.9 503.6,316.8 504.9,341.1 505.9,350.1 508.6,356.7 511.3,360.6 512.6,361.7 513.8,357.9 515.0,361.7 517.9,366.1 520.6,366.2 523.3,369.0 524.6,370.3 526.7,368.6 528.6,375.0 532.6,379.9 535.3,380.9 538.5,382.5 540.6,383.5 542.0,384.1 543.5,384.7 545.1,385.3 546.8,385.9 548.6,386.5 549.9,386.9 551.4,387.3 552.8,387.7 554.4,388.1 555.9,388.4 557.6,388.8 559.2,389.1 560.8,389.4 562.4,389.6 564.1,389.8 565.7,390.0 567.5,390.2 569.2,390.4 570.9,390.6 572.6,390.8 574.2,391.0 575.9,391.2 577.6,391.4 579.2,391.6 580.9,391.8 582.6,392.0 584.2,392.2 585.9,392.4 587.6,392.5 589.2,392.7 590.9,392.8 592.6,392.9 594.2,393.0 595.9,393.1 597.6,393.3 599.2,393.4 600.9,393.5 602.6,393.6 604.2,393.7 605.9,393.8 607.6,394.0 609.2,394.1 610.9,394.2 612.5,394.3 614.2,394.4 615.9,394.4 617.5,394.5 619.2,394.6 620.9,394.7 622.5,394.7 624.2,394.8 625.9,394.9 627.5,394.9 629.2,395.0 630.9,395.1 632.5,395.1 634.2,395.2 635.9,395.2 637.5,395.3 639.2,395.4 640.9,395.4 642.5,395.5 644.1,395.5 645.7,395.6 647.4,395.6 649.0,395.7 650.8,395.7 652.5,395.8 654.1,395.8 655.7,395.8 657.5,395.9 659.3,395.9 661.1,395.9 662.8,396.0 664.4,396.0 665.8,396.0 667.1,396.0 668.0,396.0" fill="none" stroke="#c49c94" stroke-width="1.4" stroke-linejoin="round"/>
<path d="M485.4,387.3 487.3,356.8 489.4,335.1 491.3,310.3 492.8,296.2 493.9,282.3 495.1,293.8 496.6,299.8 498.5,309.6 500.1,308.0 502.0,316.0 503.6,318.6 504.9,338.6 505.9,347.0 508.6,354.8 511.3,360.2 512.6,360.9 513.8,359.4 515.0,362.8 517.9,364.8 520.6,367.8 523.3,369.0 524.6,370.0 526.7,369.4 528.6,374.7 532.6,379.8 535.3,380.8 538.5,383.0 540.6,384.1 542.0,384.7 543.5,385.2 545.1,385.7 546.8,386.2 548.6,386.6 549.9,386.9 551.4,387.2 552.8,387.5 554.4,387.7 555.9,388.0 557.6,388.2 559.2,388.5 560.8,388.8 562.4,389.1 564.1,389.4 565.7,389.7 567.5,390.0 569.2,390.3 570.9,390.6 572.6,390.8 574.2,391.0 575.9,391.3 577.6,391.5 579.2,391.7 580.9,391.8 582.6,392.0 584.2,392.2 585.9,392.3 587.6,392.5 589.2,392.6 590.9,392.8 592.6,392.9 594.2,393.0 595.9,393.1 597.6,393.3 599.2,393.4 600.9,393.5 602.6,393.6 604.2,393.7 605.9,393.9 607.6,394.0 609.2,394.1 610.9,394.2 612.5,394.3 614.2,394.4 615.9,394.5 617.5,394.6 619.2,394.6 620.9,394.7 622.5,394.8 624.2,394.8 625.9,394.9 627.5,395.0 629.2,395.0 630.9,395.1 632.5,395.2 634.2,395.2 635.9,395.3 637.5,395.3 639.2,395.4 640.9,395.5 642.5,395.5 644.1,395.6 645.7,395.6 647.4,395.7 649.0,395.7 650.8,395.7 652.5,395.8 654.1,395.8 655.7,395.8 657.5,395.9 659.3,395.9 661.1,395.9 662.8,396.0 664.4,396.0 665.8,396.0 667.1,396.0 668.0,396.0" fill="none" stroke="#e377c2" stroke-width="1.4" stroke-linejoin="round"/>
<path d="M485.4,388.3 487.3,358.7 489.4,331.7 491.3,314.1 492.8,301.0 493.9,282.5 495.1,301.4 496.6,299.0 498.5,306.1 500.1,313.4 502.0,315.0 503.6,317.5 504.9,336.2 505.9,347.7 508.6,355.4 511.3,359.7 512.6,359.9 513.8,356.1 515.0,360.8 517.9,365.1 520.6,366.4 523.3,369.1 524.6,370.9 526.7,368.1 528.6,374.8 532.6,379.1 535.3,381.1 538.5,382.7 540.6,383.5 542.0,384.0 543.5,384.4 545.1,384.9 546.8,385.3 548.6,385.8 549.9,386.2 551.4,386.6 552.8,387.1 554.4,387.5 555.9,387.9 557.6,388.3 559.2,388.7 560.8,389.0 562.4,389.3 564.1,389.5 565.7,389.7 567.5,390.0 569.2,390.2 570.9,390.4 572.6,390.6 574.2,390.8 575.9,391.1 577.6,391.3 579.2,391.5 580.9,391.7 582.6,391.9 584.2,392.1 585.9,392.3 587.6,392.5 589.2,392.6 590.9,392.8 592.6,392.9 594.2,393.0 595.9,393.1 597.6,393.3 599.2,393.4 600.9,393.5 602.6,393.6 604.2,393.8 605.9,393.9 607.6,394.0 609.2,394.1 610.9,394.2 612.5,394.3 614.2,394.4 615.9,394.5 617.5,394.5 619.2,394.6 620.9,394.7 622.5,394.7 624.2,394.8 625.9,394.8 627.5,394.9 629.2,394.9 630.9,395.0 632.5,395.1 634.2,395.1 635.9,395.2 637.5,395.2 639.2,395.3 640.9,395.3 642.5,395.4 644.1,395.5 645.7,395.5 647.4,395.6 649.0,395.6 650.8,395.7 652.5,395.7 654.1,395.7 655.7,395.8 657.5,395.8 659.3,395.8 661.1,395.9 662.8,395.9 664.4,395.9 665.8,395.9 667.1,396.0 668.0,396.0" fill="none" stroke="#f7b6d2" stroke-width="1.4" stroke-linejoin="round"/>
<path d="M485.4,381.3 487.3,353.0 489.4,324.0 491.3,305.6 492.8,290.7 493.9,269.3 495.1,289.8 496.6,296.9 498.5,302.5 500.1,301.8 502.0,310.8 503.6,314.2 504.9,333.1 505.9,342.5 508.6,354.1 511.3,357.5 512.6,356.8 513.8,355.9 515.0,359.3 517.9,362.0 520.6,364.2 523.3,367.8 524.6,368.3 526.7,365.9 528.6,373.1 532.6,378.1 535.3,379.7 538.5,381.3 540.6,382.2 542.0,382.8 543.5,383.4 545.1,384.0 546.8,384.6 548.6,385.2 549.9,385.6 551.4,386.1 552.8,386.6 554.4,387.1 555.9,387.5 557.6,387.9 559.2,388.3 560.8,388.6 562.4,388.9 564.1,389.1 565.7,389.4 567.5,389.6 569.2,389.8 570.9,390.0 572.6,390.2 574.2,390.5 575.9,390.7 577.6,390.9 579.2,391.2 580.9,391.4 582.6,391.6 584.2,391.9 585.9,392.0 587.6,392.2 589.2,392.3 590.9,392.5 592.6,392.6 594.2,392.7 595.9,392.8 597.6,392.9 599.2,393.0 600.9,393.1 602.6,393.3 604.2,393.4 605.9,393.5 607.6,393.7 609.2,393.8 610.9,393.9 612.5,394.0 614.2,394.1 615.9,394.2 617.5,394.3 619.2,394.4 620.9,394.5 622.5,394.6 624.2,394.7 625.9,394.8 627.5,394.8 629.2,394.9 630.9,395.0 632.5,395.0 634.2,395.1 635.9,395.1 637.5,395.2 639.2,395.2 640.9,395.3 642.5,395.3 644.1,395.4 645.7,395.4 647.4,395.5 649.0,395.5 650.8,395.6 652.5,395.6 654.1,395.7 655.7,395.7 657.5,395.8 659.3,395.8 661.1,395.8 662.8,395.9 664.4,395.9 665.8,395.9 667.1,396.0 668.0,396.0" fill="none" stroke="#7f7f7f" stroke-width="1.4" stroke-linejoin="round"/>
<path d="M485.4,382.4 487.3,356.4 489.4,329.5 491.3,312.3 492.8,294.3 493.9,268.2 495.1,291.2 496.6,293.1 498.5,296.7 500.1,303.6 502.0,309.1 503.6,308.7 504.9,335.1 505.9,341.1 508.6,350.0 511.3,355.6 512.6,357.1 513.8,355.8 515.0,359.6 517.9,360.7 520.6,363.1 523.3,365.5 524.6,368.8 526.7,365.3 528.6,371.4 532.6,376.8 535.3,379.3 538.5,381.4 540.6,382.5 542.0,383.1 543.5,383.6 545.1,384.2 546.8,384.8 548.6,385.3 549.9,385.8 551.4,386.2 552.8,386.6 554.4,387.0 555.9,387.4 557.6,387.7 559.2,388.1 560.8,388.4 562.4,388.7 564.1,389.1 565.7,389.4 567.5,389.6 569.2,389.9 570.9,390.2 572.6,390.4 574.2,390.6 575.9,390.8 577.6,391.0 579.2,391.1 580.9,391.3 582.6,391.4 584.2,391.6 585.9,391.7 587.6,391.9 589.2,392.1 590.9,392.2 592.6,392.4 594.2,392.6 595.9,392.8 597.6,392.9 599.2,393.1 600.9,393.2 602.6,393.4 604.2,393.5 605.9,393.6 607.6,393.8 609.2,393.9 610.9,394.0 612.5,394.1 614.2,394.2 615.9,394.3 617.5,394.4 619.2,394.4 620.9,394.5 622.5,394.6 624.2,394.6 625.9,394.7 627.5,394.8 629.2,394.8 630.9,394.9 632.5,394.9 634.2,395.0 635.9,395.0 637.5,395.1 639.2,395.2 640.9,395.2 642.5,395.3 644.1,395.3 645.7,395.4 647.4,395.4 649.0,395.5 650.8,395.6 652.5,395.6 654.1,395.6 655.7,395.7 657.5,395.7 659.3,395.8 661.1,395.8 662.8,395.8 664.4,395.9 665.8,395.9 667.1,395.9 668.0,395.9" fill="none" stroke="#c7c7c7" stroke-width="1.4" stroke-linejoin="round"/>
<path d="M485.4,394.3 487.3,373.0 489.4,355.9 491.3,304.4 492.8,286.3 493.9,265.3 495.1,283.0 496.6,302.1 498.5,304.7 500.1,309.4 502.0,315.3 503.6,313.5 504.9,336.2 505.9,348.2 508.6,354.3 511.3,358.7 512.6,360.3 513.8,357.2 515.0,361.0 517.9,364.7 520.6,366.5 523.3,368.1 524.6,369.1 526.7,363.6 528.6,373.6 532.6,378.9 535.3,380.3 538.5,382.0 540.6,383.0 542.0,383.5 543.5,384.1 545.1,384.6 546.8,385.2 548.6,385.8 549.9,386.2 551.4,386.7 552.8,387.1 554.4,387.5 555.9,388.0 557.6,388.4 559.2,388.7 560.8,389.0 562.4,389.3 564.1,389.6 565.7,389.8 567.5,390.0 569.2,390.3 570.9,390.5 572.6,390.7 574.2,390.9 575.9,391.2 577.6,391.4 579.2,391.6 580.9,391.8 582.6,392.0 584.2,392.2 585.9,392.4 587.6,392.5 589.2,392.7 590.9,392.8 592.6,392.9 594.2,393.0 595.9,393.1 597.6,393.2 599.2,393.3 600.9,393.5 602.6,393.6 604.2,393.7 605.9,393.8 607.6,393.9 609.2,394.0 610.9,394.1 612.5,394.2 614.2,394.3 615.9,394.4 617.5,394.5 619.2,394.6 620.9,394.6 622.5,394.7 624.2,394.8 625.9,394.9 627.5,394.9 629.2,395.0 630.9,395.1 632.5,395.1 634.2,395.2 635.9,395.2 637.5,395.3 639.2,395.4 640.9,395.4 642.5,395.5 644.1,395.5 645.7,395.6 647.4,395.6 649.0,395.7 650.8,395.7 652.5,395.8 654.1,395.8 655.7,395.8 657.5,395.9 659.3,395.9 661.1,395.9 662.8,395.9 664.4,396.0 665.8,396.0 667.1,396.0 668.0,396.0" fill="none" stroke="#bcbd22" stroke-width="1.4" stroke-linejoin="round"/>
<path d="M485.4,392.7 487.3,368.2 489.4,346.6 491.3,306.7 492.8,291.8 493.9,267.6 495.1,291.2 496.6,302.4 498.5,305.9 500.1,311.2 502.0,312.2 503.6,317.1 504.9,339.8 505.9,348.7 508.6,356.6 511.3,358.9 512.6,359.7 513.8,358.7 515.0,361.3 517.9,365.3 520.6,366.1 523.3,369.3 524.6,370.5 526.7,368.9 528.6,373.9 532.6,378.8 535.3,381.6 538.5,383.3 540.6,384.1 542.0,384.6 543.5,385.1 545.1,385.5 546.8,385.9 548.6,386.4 549.9,386.7 551.4,387.1 552.8,387.5 554.4,387.8 555.9,388.2 557.6,388.5 559.2,388.9 560.8,389.2 562.4,389.4 564.1,389.7 565.7,390.0 567.5,390.2 569.2,390.5 570.9,390.7 572.6,390.9 574.2,391.1 575.9,391.3 577.6,391.5 579.2,391.6 580.9,391.8 582.6,391.9 584.2,392.1 585.9,392.2 587.6,392.3 589.2,392.5 590.9,392.6 592.6,392.7 594.2,392.9 595.9,393.0 597.6,393.1 599.2,393.3 600.9,393.4 602.6,393.6 604.2,393.7 605.9,393.9 607.6,394.0 609.2,394.2 610.9,394.3 612.5,394.4 614.2,394.5 615.9,394.6 617.5,394.7 619.2,394.7 620.9,394.8 622.5,394.9 624.2,394.9 625.9,395.0 627.5,395.0 629.2,395.1 630.9,395.1 632.5,395.2 634.2,395.2 635.9,395.3 637.5,395.3 639.2,395.3 640.9,395.4 642.5,395.4 644.1,395.5 645.7,395.5 647.4,395.6 649.0,395.6 650.8,395.7 652.5,395.7 654.1,395.7 655.7,395.8 657.5,395.8 659.3,395.8 661.1,395.9 662.8,395.9 664.4,395.9 665.8,396.0 667.1,396.0 668.0,396.0" fill="none" stroke="#dbdb8d" stroke-width="1.4" stroke-linejoin="round"/>
<path d="M485.4,379.5 487.3,355.3 489.4,328.4 491.3,307.1 492.8,289.9 493.9,268.9 495.1,293.5 496.6,302.8 498.5,306.2 500.1,310.6 502.0,310.7 503.6,315.6 504.9,336.5 505.9,345.9 508.6,354.5 511.3,357.3 512.6,357.7 513.8,357.4 515.0,360.5 517.9,363.6 520.6,364.9 523.3,367.8 524.6,370.3 526.7,366.9 528.6,373.8 532.6,378.0 535.3,379.8 538.5,381.9 540.6,383.0 542.0,383.5 543.5,384.0 545.1,384.5 546.8,385.0 548.6,385.4 549.9,385.8 551.4,386.2 552.8,386.6 554.4,386.9 555.9,387.3 557.6,387.7 559.2,388.1 560.8,388.4 562.4,388.8 564.1,389.1 565.7,389.5 567.5,389.8 569.2,390.1 570.9,390.4 572.6,390.7 574.2,390.9 575.9,391.2 577.6,391.4 579.2,391.6 580.9,391.7 582.6,391.9 584.2,392.1 585.9,392.2 587.6,392.4 589.2,392.5 590.9,392.6 592.6,392.7 594.2,392.8 595.9,393.0 597.6,393.1 599.2,393.2 600.9,393.3 602.6,393.4 604.2,393.6 605.9,393.7 607.6,393.8 609.2,394.0 610.9,394.1 612.5,394.2 614.2,394.3 615.9,394.4 617.5,394.5 619.2,394.6 620.9,394.7 622.5,394.7 624.2,394.8 625.9,394.9 627.5,394.9 629.2,395.0 630.9,395.0 632.5,395.1 634.2,395.1 635.9,395.2 637.5,395.2 639.2,395.3 640.9,395.3 642.5,395.4 644.1,395.4 645.7,395.5 647.4,395.5 649.0,395.6 650.8,395.6 652.5,395.7 654.1,395.7 655.7,395.8 657.5,395.8 659.3,395.8 661.1,395.9 662.8,395.9 664.4,395.9 665.8,395.9 667.1,396.0 668.0,396.0" fill="none" stroke="#1f77b4" stroke-width="1.4" stroke-linejoin="round"/>
<path d="M485.4,381.4 487.3,354.5 489.4,327.6 491.3,311.7 492.8,292.4 493.9,273.7 495.1,287.0 496.6,287.9 498.5,298.3 500.1,300.3 502.0,305.5 503.6,310.6 504.9,333.8 505.9,343.2 508.6,351.5 511.3,354.3 512.6,356.5 513.8,352.6 515.0,359.1 517.9,360.2 520.6,363.0 523.3,365.6 524.6,367.7 526.7,365.4 528.6,373.0 532.6,377.5 535.3,379.8 538.5,381.8 540.6,382.8 542.0,383.2 543.5,383.7 545.1,384.1 546.8,384.6 548.6,385.1 549.9,385.5 551.4,386.0 552.8,386.4 554.4,386.9 555.9,387.4 557.6,387.8 559.2,388.2 560.8,388.5 562.4,388.8 564.1,389.1 565.7,389.4 567.5,389.6 569.2,389.9 570.9,390.1 572.6,390.3 574.2,390.6 575.9,390.8 577.6,391.0 579.2,391.1 580.9,391.3 582.6,391.5 584.2,391.7 585.9,391.8 587.6,392.0 589.2,392.1 590.9,392.3 592.6,392.4 594.2,392.5 595.9,392.7 597.6,392.8 599.2,392.9 600.9,393.1 602.6,393.2 604.2,393.4 605.9,393.6 607.6,393.7 609.2,393.9 610.9,394.0 612.5,394.1 614.2,394.2 615.9,394.3 617.5,394.4 619.2,394.4 620.9,394.5 622.5,394.5 624.2,394.6 625.9,394.7 627.5,394.7 629.2,394.8 630.9,394.9 632.5,394.9 634.2,395.0 635.9,395.0 637.5,395.1 639.2,395.2 640.9,395.2 642.5,395.3 644.1,395.4 645.7,395.4 647.4,395.5 649.0,395.6 650.8,395.6 652.5,395.7 654.1,395.7 655.7,395.7 657.5,395.8 659.3,395.8 661.1,395.8 662.8,395.8 664.4,395.9 665.8,395.9 667.1,395.9 668.0,395.9" fill="none" stroke="#aec7e8" stroke-width="1.4" stroke-linejoin="round"/>
<path d="M485.4,383.7 487.3,356.3 489.4,326.6 491.3,308.5 492.8,289.9 493.9,272.3 495.1,284.2 496.6,298.7 498.5,306.9 500.1,312.4 502.0,311.0 503.6,314.1 504.9,340.6 505.9,349.8 508.6,354.5 511.3,358.8 512.6,361.3 513.8,359.8 515.0,361.8 517.9,363.9 520.6,367.5 523.3,369.3 524.6,370.2 526.7,368.4 528.6,374.1 532.6,379.2 535.3,381.6 538.5,382.8 540.6,383.4 542.0,383.9 543.5,384.5 545.1,385.1 546.8,385.6 548.6,386.2 549.9,386.6 551.4,386.9 552.8,387.2 554.4,387.6 555.9,387.9 557.6,388.2 559.2,388.5 560.8,388.8 562.4,389.2 564.1,389.5 565.7,389.8 567.5,390.1 569.2,390.4 570.9,390.7 572.6,390.9 574.2,391.2 575.9,391.4 577.6,391.6 579.2,391.8 580.9,392.0 582.6,392.2 584.2,392.3 585.9,392.5 587.6,392.6 589.2,392.7 590.9,392.8 592.6,392.9 594.2,393.0 595.9,393.1 597.6,393.2 599.2,393.3 600.9,393.4 602.6,393.5 604.2,393.7 605.9,393.8 607.6,393.9 609.2,394.0 610.9,394.1 612.5,394.3 614.2,394.4 615.9,394.5 617.5,394.6 619.2,394.7 620.9,394.7 622.5,394.8 624.2,394.9 625.9,395.0 627.5,395.1 629.2,395.1 630.9,395.2 632.5,395.2 634.2,395.3 635.9,395.3 637.5,395.4 639.2,395.4 640.9,395.5 642.5,395.5 644.1,395.6 645.7,395.6 647.4,395.7 649.0,395.7 650.8,395.8 652.5,395.8 654.1,395.8 655.7,395.9 657.5,395.9 659.3,395.9 661.1,395.9 662.8,395.9 664.4,396.0 665.8,396.0 667.1,396.0 668.0,396.0" fill="none" stroke="#2ca02c" stroke-width="1.4" stroke-linejoin="round"/>
<path d="M485.4,381.7 487.3,357.3 489.4,331.8 491.3,312.2 492.8,292.2 493.9,269.2 495.1,287.6 496.6,299.6 498.5,305.2 500.1,308.8 502.0,314.2 503.6,317.1 504.9,339.8 505.9,348.6 508.6,353.6 511.3,357.9 512.6,358.8 513.8,356.7 515.0,361.2 517.9,365.0 520.6,365.2 523.3,368.1 524.6,369.3 526.7,367.5 528.6,373.6 532.6,378.6 535.3,380.4 538.5,382.5 540.6,383.5 542.0,384.1 543.5,384.5 545.1,385.0 546.8,385.5 548.6,385.9 549.9,386.3 551.4,386.7 552.8,387.1 554.4,387.4 555.9,387.8 557.6,388.2 559.2,388.5 560.8,388.8 562.4,389.1 564.1,389.4 565.7,389.6 567.5,389.9 569.2,390.1 570.9,390.4 572.6,390.6 574.2,390.8 575.9,391.0 577.6,391.2 579.2,391.4 580.9,391.6 582.6,391.8 584.2,391.9 585.9,392.1 587.6,392.3 589.2,392.4 590.9,392.5 592.6,392.7 594.2,392.8 595.9,393.0 597.6,393.1 599.2,393.2 600.9,393.4 602.6,393.5 604.2,393.6 605.9,393.8 607.6,393.9 609.2,394.0 610.9,394.1 612.5,394.2 614.2,394.3 615.9,394.4 617.5,394.5 619.2,394.6 620.9,394.6 622.5,394.7 624.2,394.8 625.9,394.9 627.5,394.9 629.2,395.0 630.9,395.1 632.5,395.1 634.2,395.2 635.9,395.3 637.5,395.3 639.2,395.4 640.9,395.4 642.5,395.5 644.1,395.5 645.7,395.5 647.4,395.6 649.0,395.6 650.8,395.7 652.5,395.7 654.1,395.7 655.7,395.8 657.5,395.8 659.3,395.8 661.1,395.9 662.8,395.9 664.4,395.9 665.8,396.0 667.1,396.0 668.0,396.0" fill="none" stroke="#98df8a" stroke-width="1.4" stroke-linejoin="round"/>
<path d="M485.4,385.9 487.3,361.5 489.4,337.8 491.3,324.3 492.8,307.1 493.9,287.5 495.1,306.1 496.6,325.0 498.5,330.3 500.1,332.3 502.0,334.4 503.6,335.5 504.9,346.0 505.9,354.0 508.6,361.2 511.3,363.4 512.6,365.7 513.8,364.2 515.0,366.3 517.9,368.7 520.6,369.7 523.3,372.3 524.6,373.5 526.7,372.4 528.6,377.3 532.6,381.8 535.3,383.1 538.5,384.7 540.6,385.6 542.0,386.0 543.5,386.5 545.1,386.9 546.8,387.3 548.6,387.7 549.9,388.0 551.4,388.3 552.8,388.6 554.4,388.9 555.9,389.3 557.6,389.5 559.2,389.8 560.8,390.0 562.4,390.3 564.1,390.5 565.7,390.7 567.5,390.9 569.2,391.1 570.9,391.2 572.6,391.4 574.2,391.6 575.9,391.8 577.6,392.0 579.2,392.2 580.9,392.4 582.6,392.6 584.2,392.8 585.9,392.9 587.6,393.1 589.2,393.2 590.9,393.3 592.6,393.4 594.2,393.5 595.9,393.6 597.6,393.7 599.2,393.8 600.9,393.9 602.6,394.1 604.2,394.2 605.9,394.3 607.6,394.4 609.2,394.5 610.9,394.6 612.5,394.6 614.2,394.7 615.9,394.8 617.5,394.8 619.2,394.9 620.9,395.0 622.5,395.0 624.2,395.1 625.9,395.1 627.5,395.2 629.2,395.2 630.9,395.3 632.5,395.3 634.2,395.4 635.9,395.5 637.5,395.5 639.2,395.5 640.9,395.6 642.5,395.6 644.1,395.7 645.7,395.7 647.4,395.8 649.0,395.8 650.8,395.8 652.5,395.9 654.1,395.9 655.7,395.9 657.5,395.9 659.3,396.0 661.1,396.0 662.8,396.0 664.4,396.0 665.8,396.1 667.1,396.1 668.0,396.1" fill="none" stroke="#ff7f0e" stroke-width="1.4" stroke-linejoin="round"/>
<path d="M485.4,387.7 487.3,363.7 489.4,341.0 491.3,325.6 492.8,311.5 493.9,296.0 495.1,308.5 496.6,323.3 498.5,328.5 500.1,329.1 502.0,336.1 503.6,333.9 504.9,344.3 505.9,353.0 508.6,359.3 511.3,362.8 512.6,365.1 513.8,360.8 515.0,364.6 517.9,367.2 520.6,368.9 523.3,370.2 524.6,372.8 526.7,370.9 528.6,375.7 532.6,380.1 535.3,382.8 538.5,384.4 540.6,385.2 542.0,385.5 543.5,385.9 545.1,386.2 546.8,386.5 548.6,386.9 549.9,387.2 551.4,387.5 552.8,387.9 554.4,388.2 555.9,388.6 557.6,388.9 559.2,389.3 560.8,389.6 562.4,389.9 564.1,390.2 565.7,390.5 567.5,390.7 569.2,391.0 570.9,391.3 572.6,391.5 574.2,391.7 575.9,391.9 577.6,392.1 579.2,392.2 580.9,392.4 582.6,392.5 584.2,392.7 585.9,392.8 587.6,392.9 589.2,393.1 590.9,393.2 592.6,393.3 594.2,393.4 595.9,393.5 597.6,393.6 599.2,393.7 600.9,393.8 602.6,393.9 604.2,394.0 605.9,394.2 607.6,394.3 609.2,394.4 610.9,394.4 612.5,394.5 614.2,394.6 615.9,394.7 617.5,394.8 619.2,394.8 620.9,394.9 622.5,395.0 624.2,395.0 625.9,395.1 627.5,395.2 629.2,395.2 630.9,395.3 632.5,395.3 634.2,395.4 635.9,395.4 637.5,395.5 639.2,395.5 640.9,395.5 642.5,395.6 644.1,395.6 645.7,395.7 647.4,395.7 649.0,395.8 650.8,395.8 652.5,395.8 654.1,395.9 655.7,395.9 657.5,395.9 659.3,395.9 661.1,396.0 662.8,396.0 664.4,396.0 665.8,396.0 667.1,396.0 668.0,396.1" fill="none" stroke="#ffbb78" stroke-width="1.4" stroke-linejoin="round"/>
<path d="M485.4,372.7 487.3,344.0 489.4,309.9 491.3,281.2 492.8,256.6 493.9,233.4 495.1,251.8 496.6,298.1 498.5,304.2 500.1,307.5 502.0,311.9 503.6,315.6 504.9,335.4 505.9,345.0 508.6,353.9 511.3,359.6 512.6,360.3 513.8,357.9 515.0,359.7 517.9,362.3 520.6,365.8 523.3,367.0 524.6,370.5 526.7,366.7 528.6,374.5 532.6,378.0 535.3,380.3 538.5,381.9 540.6,382.8 542.0,383.3 543.5,383.9 545.1,384.5 546.8,385.1 548.6,385.7 549.9,386.1 551.4,386.5 552.8,386.9 554.4,387.3 555.9,387.7 557.6,388.0 559.2,388.4 560.8,388.7 562.4,389.0 564.1,389.3 565.7,389.6 567.5,389.9 569.2,390.2 570.9,390.5 572.6,390.7 574.2,391.0 575.9,391.2 577.6,391.4 579.2,391.6 580.9,391.8 582.6,392.0 584.2,392.1 585.9,392.3 587.6,392.4 589.2,392.6 590.9,392.7 592.6,392.8 594.2,392.9 595.9,392.9 597.6,393.1 599.2,393.2 600.9,393.3 602.6,393.4 604.2,393.5 605.9,393.7 607.6,393.8 609.2,393.9 610.9,394.1 612.5,394.2 614.2,394.3 615.9,394.4 617.5,394.5 619.2,394.6 620.9,394.7 622.5,394.8 624.2,394.8 625.9,394.9 627.5,395.0 629.2,395.0 630.9,395.1 632.5,395.1 634.2,395.1 635.9,395.2 637.5,395.2 639.2,395.3 640.9,395.3 642.5,395.4 644.1,395.5 645.7,395.5 647.4,395.6 649.0,395.6 650.8,395.7 652.5,395.7 654.1,395.8 655.7,395.8 657.5,395.9 659.3,395.9 661.1,395.9 662.8,395.9 664.4,396.0 665.8,396.0 667.1,396.0 668.0,396.0" fill="none" stroke="#17becf" stroke-width="1.4" stroke-linejoin="round"/>
<path d="M485.4,376.1 487.3,358.6 489.4,330.4 491.3,312.0 492.8,293.8 493.9,276.3 495.1,295.7 496.6,295.9 498.5,298.6 500.1,298.8 502.0,303.1 503.6,311.9 504.9,330.6 505.9,343.1 508.6,350.3 511.3,355.3 512.6,357.2 513.8,348.6 515.0,357.2 517.9,360.3 520.6,363.5 523.3,366.2 524.6,368.6 526.7,364.2 528.6,371.8 532.6,377.0 535.3,379.3 538.5,381.5 540.6,382.6 542.0,383.2 543.5,383.8 545.1,384.3 546.8,384.8 548.6,385.3 549.9,385.6 551.4,385.9 552.8,386.2 554.4,386.5 555.9,386.7 557.6,387.0 559.2,387.4 560.8,387.7 562.4,388.0 564.1,388.4 565.7,388.8 567.5,389.1 569.2,389.5 570.9,389.8 572.6,390.1 574.2,390.4 575.9,390.6 577.6,390.9 579.2,391.1 580.9,391.3 582.6,391.4 584.2,391.6 585.9,391.8 587.6,392.0 589.2,392.1 590.9,392.2 592.6,392.4 594.2,392.5 595.9,392.6 597.6,392.7 599.2,392.9 600.9,393.0 602.6,393.1 604.2,393.3 605.9,393.4 607.6,393.6 609.2,393.7 610.9,393.9 612.5,394.0 614.2,394.1 615.9,394.2 617.5,394.3 619.2,394.4 620.9,394.5 622.5,394.6 624.2,394.6 625.9,394.7 627.5,394.8 629.2,394.9 630.9,394.9 632.5,395.0 634.2,395.1 635.9,395.1 637.5,395.2 639.2,395.2 640.9,395.3 642.5,395.4 644.1,395.4 645.7,395.5 647.4,395.5 649.0,395.6 650.8,395.6 652.5,395.7 654.1,395.7 655.7,395.7 657.5,395.8 659.3,395.8 661.1,395.8 662.8,395.9 664.4,395.9 665.8,395.9 667.1,395.9 668.0,395.9" fill="none" stroke="#9edae5" stroke-width="1.4" stroke-linejoin="round"/>
</g>
<clipPath id="cf"><rect x="476.6" y="229.4" width="200.39999999999998" height="174.79999999999998"/></clipPath>
<rect x="476.60" y="229.40" width="200.40" height="174.80" fill="none" stroke="#2e2e2e" stroke-width="1.25"/>
<line x1="503.18" y1="404.20" x2="503.18" y2="229.40" stroke="#1a1a1a" stroke-width="1.1" stroke-dasharray="6.2,5.7"/>
<line x1="474.20" y1="396.80" x2="476.60" y2="396.80" stroke="#262626" stroke-width="1.0"/>
<text x="472.40" y="399.32" font-size="7.0" text-anchor="end" fill="#000">0</text>
<line x1="474.20" y1="363.46" x2="476.60" y2="363.46" stroke="#262626" stroke-width="1.0"/>
<text x="472.40" y="365.98" font-size="7.0" text-anchor="end" fill="#000">2500</text>
<line x1="474.20" y1="330.12" x2="476.60" y2="330.12" stroke="#262626" stroke-width="1.0"/>
<text x="472.40" y="332.64" font-size="7.0" text-anchor="end" fill="#000">5000</text>
<line x1="474.20" y1="296.78" x2="476.60" y2="296.78" stroke="#262626" stroke-width="1.0"/>
<text x="472.40" y="299.30" font-size="7.0" text-anchor="end" fill="#000">7500</text>
<line x1="474.20" y1="263.44" x2="476.60" y2="263.44" stroke="#262626" stroke-width="1.0"/>
<text x="472.40" y="265.96" font-size="7.0" text-anchor="end" fill="#000">10000</text>
<line x1="474.20" y1="230.10" x2="476.60" y2="230.10" stroke="#262626" stroke-width="1.0"/>
<text x="472.40" y="232.62" font-size="7.0" text-anchor="end" fill="#000">12500</text>
<line x1="479.30" y1="404.20" x2="479.30" y2="406.60" stroke="#262626" stroke-width="1.0"/>
<text x="479.30" y="413.80" font-size="7.0" text-anchor="middle" fill="#000">0</text>
<line x1="532.60" y1="404.20" x2="532.60" y2="406.60" stroke="#262626" stroke-width="1.0"/>
<text x="532.60" y="413.80" font-size="7.0" text-anchor="middle" fill="#000">2000</text>
<line x1="585.90" y1="404.20" x2="585.90" y2="406.60" stroke="#262626" stroke-width="1.0"/>
<text x="585.90" y="413.80" font-size="7.0" text-anchor="middle" fill="#000">4000</text>
<line x1="639.20" y1="404.20" x2="639.20" y2="406.60" stroke="#262626" stroke-width="1.0"/>
<text x="639.20" y="413.80" font-size="7.0" text-anchor="middle" fill="#000">6000</text>
<text x="582.90" y="424.00" font-size="9.2" text-anchor="middle" fill="#000">Read length (bp)</text>
<text x="453.20" y="311.40" font-size="9.3" text-anchor="middle" fill="#000" transform="rotate(-90 453.20 311.40)">Density-scaled count</text>
<text x="513.00" y="241.20" font-size="7.0" text-anchor="start" fill="#000">Average of median length: 896 bp</text>
<line x1="616.00" y1="255.50" x2="625.40" y2="255.50" stroke="#d62728" stroke-width="1.2"/>
<text x="628.00" y="258.07" font-size="6.85" text-anchor="start" fill="#000">AsPC-1-1</text>
<line x1="616.00" y1="262.26" x2="625.40" y2="262.26" stroke="#ff9896" stroke-width="1.2"/>
<text x="628.00" y="264.83" font-size="6.85" text-anchor="start" fill="#000">AsPC-1-2</text>
<line x1="616.00" y1="269.02" x2="625.40" y2="269.02" stroke="#9467bd" stroke-width="1.2"/>
<text x="628.00" y="271.59" font-size="6.85" text-anchor="start" fill="#000">BXPC3-1</text>
<line x1="616.00" y1="275.78" x2="625.40" y2="275.78" stroke="#c5b0d5" stroke-width="1.2"/>
<text x="628.00" y="278.35" font-size="6.85" text-anchor="start" fill="#000">BXPC3-2</text>
<line x1="616.00" y1="282.54" x2="625.40" y2="282.54" stroke="#8c564b" stroke-width="1.2"/>
<text x="628.00" y="285.11" font-size="6.85" text-anchor="start" fill="#000">Capan-1-1</text>
<line x1="616.00" y1="289.30" x2="625.40" y2="289.30" stroke="#c49c94" stroke-width="1.2"/>
<text x="628.00" y="291.87" font-size="6.85" text-anchor="start" fill="#000">Capan-1-2</text>
<line x1="616.00" y1="296.06" x2="625.40" y2="296.06" stroke="#e377c2" stroke-width="1.2"/>
<text x="628.00" y="298.63" font-size="6.85" text-anchor="start" fill="#000">Capan-2-1</text>
<line x1="616.00" y1="302.82" x2="625.40" y2="302.82" stroke="#f7b6d2" stroke-width="1.2"/>
<text x="628.00" y="305.39" font-size="6.85" text-anchor="start" fill="#000">Capan-2-2</text>
<line x1="616.00" y1="309.58" x2="625.40" y2="309.58" stroke="#7f7f7f" stroke-width="1.2"/>
<text x="628.00" y="312.15" font-size="6.85" text-anchor="start" fill="#000">HuP-T4-1</text>
<line x1="616.00" y1="316.34" x2="625.40" y2="316.34" stroke="#c7c7c7" stroke-width="1.2"/>
<text x="628.00" y="318.91" font-size="6.85" text-anchor="start" fill="#000">HuP-T4-2</text>
<line x1="616.00" y1="323.10" x2="625.40" y2="323.10" stroke="#bcbd22" stroke-width="1.2"/>
<text x="628.00" y="325.67" font-size="6.85" text-anchor="start" fill="#000">Mia-PaCa-2-1</text>
<line x1="616.00" y1="329.86" x2="625.40" y2="329.86" stroke="#dbdb8d" stroke-width="1.2"/>
<text x="628.00" y="332.43" font-size="6.85" text-anchor="start" fill="#000">Mia-PaCa-2-2</text>
<line x1="616.00" y1="336.62" x2="625.40" y2="336.62" stroke="#1f77b4" stroke-width="1.2"/>
<text x="628.00" y="339.19" font-size="6.85" text-anchor="start" fill="#000">PANC0203-1</text>
<line x1="616.00" y1="343.38" x2="625.40" y2="343.38" stroke="#aec7e8" stroke-width="1.2"/>
<text x="628.00" y="345.95" font-size="6.85" text-anchor="start" fill="#000">PANC0203-2</text>
<line x1="616.00" y1="350.14" x2="625.40" y2="350.14" stroke="#2ca02c" stroke-width="1.2"/>
<text x="628.00" y="352.71" font-size="6.85" text-anchor="start" fill="#000">Panc0327-1</text>
<line x1="616.00" y1="356.90" x2="625.40" y2="356.90" stroke="#98df8a" stroke-width="1.2"/>
<text x="628.00" y="359.47" font-size="6.85" text-anchor="start" fill="#000">Panc0327-2</text>
<line x1="616.00" y1="363.66" x2="625.40" y2="363.66" stroke="#ff7f0e" stroke-width="1.2"/>
<text x="628.00" y="366.23" font-size="6.85" text-anchor="start" fill="#000">PANC1005-1</text>
<line x1="616.00" y1="370.42" x2="625.40" y2="370.42" stroke="#ffbb78" stroke-width="1.2"/>
<text x="628.00" y="372.99" font-size="6.85" text-anchor="start" fill="#000">PANC1005-2</text>
<line x1="616.00" y1="377.18" x2="625.40" y2="377.18" stroke="#17becf" stroke-width="1.2"/>
<text x="628.00" y="379.75" font-size="6.85" text-anchor="start" fill="#000">SW1990-1</text>
<line x1="616.00" y1="383.94" x2="625.40" y2="383.94" stroke="#9edae5" stroke-width="1.2"/>
<text x="628.00" y="386.51" font-size="6.85" text-anchor="start" fill="#000">SW1990-2</text>
<text x="438.50" y="228.00" font-size="16.5" text-anchor="start" fill="#000">f</text></svg>
</body></html>
